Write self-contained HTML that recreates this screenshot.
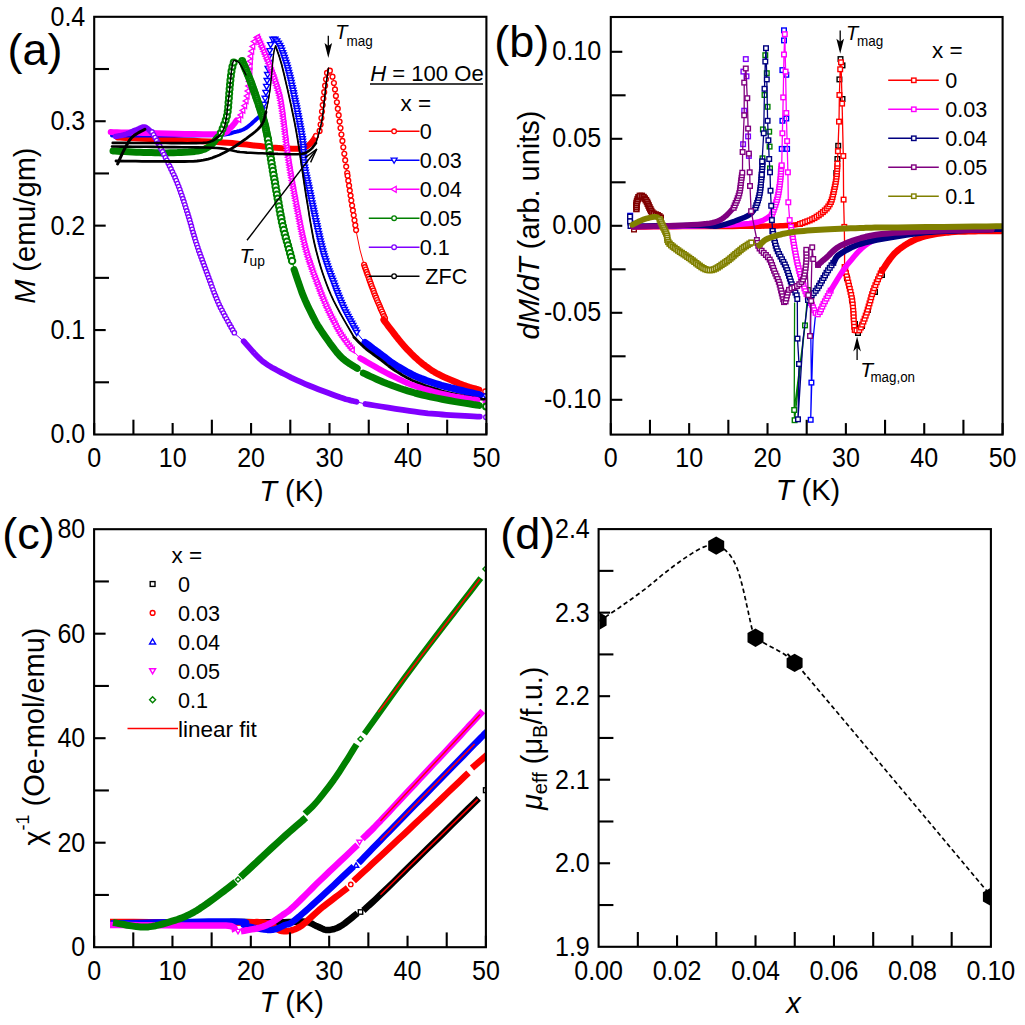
<!DOCTYPE html>
<html><head><meta charset="utf-8"><style>
html,body{margin:0;padding:0;background:#fff;}
svg{display:block;font-family:'Liberation Sans', sans-serif;}
</style></head><body>
<svg width="1025" height="1025" viewBox="0 0 1025 1025">
<rect width="1025" height="1025" fill="#fff"/>
<defs><clipPath id="clipA"><rect x="95" y="17.5" width="391" height="416.5"/></clipPath><clipPath id="clipB"><rect x="611.5" y="17.5" width="390.5" height="416.5"/></clipPath><clipPath id="clipC"><rect x="95" y="530" width="390.5" height="416.5"/></clipPath><clipPath id="clipD"><rect x="599.5" y="530" width="390.5" height="416"/></clipPath></defs>
<g clip-path="url(#clipA)">
<path d="M117.6,137.5 L119.9,137.6 L122.6,137.7 L125.9,137.9 L129.6,138.1 L133.9,138.3 L138.7,138.5 L144.1,138.7 L150.0,139.0 L157.0,139.3 L165.1,139.6 L174.1,140.0 L183.5,140.4 L192.8,140.8 L201.8,141.2 L210.0,141.6 L217.0,142.0 L222.8,142.4 L227.8,142.8 L232.2,143.1 L236.1,143.5 L239.7,143.9 L243.1,144.3 L246.5,144.6 L250.0,145.0 L253.6,145.4 L256.9,145.7 L260.2,146.1 L263.3,146.5 L266.4,146.8 L269.5,147.2 L272.5,147.5 L275.6,147.7 L278.8,147.9 L282.1,148.2 L285.5,148.4 L288.8,148.5 L292.0,148.7 L294.9,148.7 L297.6,148.7 L300.0,148.5 L302.0,148.2 L303.6,147.8 L305.0,147.4 L306.1,146.8 L307.2,146.2 L308.1,145.5 L309.0,144.8 L310.0,144.0 L311.0,143.1 L311.9,142.1 L312.8,140.9 L313.6,139.7 L314.4,138.6 L315.0,137.5 L315.6,136.6 L316.0,136.0 L316.0,136.0 L316.3,135.7 L316.7,135.4 L317.2,135.2 L317.7,134.8 L318.3,134.1 L318.8,133.2 L319.3,131.8 L319.8,130.0 L320.2,127.5 L320.6,124.4 L321.1,120.9 L321.5,117.1 L321.8,113.1 L322.2,109.2 L322.6,105.4 L323.0,102.0 L323.4,98.8 L323.8,95.6 L324.2,92.4 L324.6,89.3 L325.0,86.4 L325.3,83.7 L325.7,81.2 L326.0,79.0 L326.3,77.1 L326.6,75.4 L326.8,73.9 L327.0,72.7 L327.3,71.6 L327.5,70.7 L327.7,70.0 L328.0,69.5 L328.3,69.2 L328.6,69.1 L328.9,69.1 L329.2,69.4 L329.5,69.8 L329.8,70.4 L330.1,71.2 L330.5,72.0 L330.9,72.8 L331.2,73.4 L331.6,74.1 L332.0,75.0 L332.4,76.3 L332.9,78.1 L333.5,80.6 L334.1,84.0 L334.8,88.5 L335.7,94.1 L336.6,100.5 L337.6,107.4 L338.6,114.5 L339.6,121.5 L340.5,128.3 L341.4,134.4 L342.3,140.3 L343.2,146.4 L344.1,152.4 L345.0,158.3 L345.8,163.7 L346.5,168.6 L347.1,172.7 L347.6,175.8 L347.6,175.8 L347.9,178.0 L348.4,181.0 L348.9,184.6 L349.5,188.5 L350.1,192.7 L350.8,197.0 L351.4,201.1 L352.0,205.0 L352.6,208.9 L353.3,213.1 L354.0,217.4 L354.7,221.7 L355.4,225.8 L356.0,229.4 L356.5,232.5 L356.9,234.8 L356.9,234.8 L360.0,250.0 L364.1,264.8 L364.1,264.8 L364.9,267.2 L366.1,270.3 L367.4,274.1 L368.9,278.3 L370.4,282.7 L372.0,287.1 L373.6,291.3 L375.0,295.0 L376.4,298.5 L377.9,302.2 L379.5,305.9 L381.0,309.4 L382.5,312.7 L383.8,315.6 L384.9,318.1 L385.7,320.0 L383.7,320.0 L384.5,321.1 L385.7,322.6 L387.0,324.4 L388.5,326.4 L390.1,328.5 L391.7,330.6 L393.2,332.6 L394.6,334.4 L395.9,336.1 L397.2,337.7 L398.5,339.3 L399.7,340.8 L401.0,342.4 L402.3,343.9 L403.6,345.5 L405.0,347.0 L406.4,348.6 L407.9,350.1 L409.5,351.7 L411.0,353.3 L412.6,354.8 L414.1,356.3 L415.6,357.8 L417.1,359.1 L418.5,360.4 L419.9,361.6 L421.2,362.7 L422.6,363.8 L423.9,364.8 L425.3,365.8 L426.6,366.8 L428.0,367.8 L429.3,368.7 L430.6,369.6 L431.8,370.4 L433.0,371.2 L434.4,372.0 L435.8,372.9 L437.5,373.8 L439.5,374.8 L441.8,375.9 L444.5,377.2 L447.4,378.5 L450.4,379.8 L453.5,381.1 L456.5,382.4 L459.4,383.6 L462.0,384.6 L464.5,385.5 L467.0,386.3 L469.5,387.1 L471.9,387.8 L474.1,388.4 L476.1,389.0 L477.7,389.4 L479.0,389.8" fill="none" stroke="#ff0000" stroke-width="1.0" stroke-linejoin="round"/>
<path d="M117.6,137.5 L119.9,137.6 L122.6,137.7 L125.9,137.9 L129.6,138.1 L133.9,138.3 L138.7,138.5 L144.1,138.7 L150.0,139.0 L157.0,139.3 L165.1,139.6 L174.1,140.0 L183.5,140.4 L192.8,140.8 L201.8,141.2 L210.0,141.6 L217.0,142.0 L222.8,142.4 L227.8,142.8 L232.2,143.1 L236.1,143.5 L239.7,143.9 L243.1,144.3 L246.5,144.6 L250.0,145.0 L253.6,145.4 L256.9,145.7 L260.2,146.1 L263.3,146.5 L266.4,146.8 L269.5,147.2 L272.5,147.5 L275.6,147.7 L278.8,147.9 L282.1,148.2 L285.5,148.4 L288.8,148.5 L292.0,148.7 L294.9,148.7 L297.6,148.7 L300.0,148.5 L302.0,148.2 L303.6,147.8 L305.0,147.4 L306.1,146.8 L307.2,146.2 L308.1,145.5 L309.0,144.8 L310.0,144.0 L311.0,143.1 L311.9,142.1 L312.8,140.9 L313.6,139.7 L314.4,138.6 L315.0,137.5 L315.6,136.6 L316.0,136.0" fill="none" stroke="#ff0000" stroke-width="6" stroke-linecap="round" stroke-linejoin="round"/>
<circle cx="316.0" cy="136.0" r="2.40" fill="#fff" stroke="#ff0000" stroke-width="1.4"/>
<circle cx="319.6" cy="130.9" r="2.40" fill="#fff" stroke="#ff0000" stroke-width="1.4"/>
<circle cx="320.6" cy="124.5" r="2.40" fill="#fff" stroke="#ff0000" stroke-width="1.4"/>
<circle cx="321.4" cy="118.0" r="2.40" fill="#fff" stroke="#ff0000" stroke-width="1.4"/>
<circle cx="322.0" cy="111.5" r="2.40" fill="#fff" stroke="#ff0000" stroke-width="1.4"/>
<circle cx="322.7" cy="105.1" r="2.40" fill="#fff" stroke="#ff0000" stroke-width="1.4"/>
<circle cx="323.4" cy="98.6" r="2.40" fill="#fff" stroke="#ff0000" stroke-width="1.4"/>
<circle cx="324.2" cy="92.2" r="2.40" fill="#fff" stroke="#ff0000" stroke-width="1.4"/>
<circle cx="325.1" cy="85.7" r="2.40" fill="#fff" stroke="#ff0000" stroke-width="1.4"/>
<circle cx="326.0" cy="79.3" r="2.40" fill="#fff" stroke="#ff0000" stroke-width="1.4"/>
<circle cx="327.0" cy="72.9" r="2.40" fill="#fff" stroke="#ff0000" stroke-width="1.4"/>
<circle cx="329.9" cy="70.7" r="2.40" fill="#fff" stroke="#ff0000" stroke-width="1.4"/>
<circle cx="332.5" cy="76.7" r="2.40" fill="#fff" stroke="#ff0000" stroke-width="1.4"/>
<circle cx="333.9" cy="83.0" r="2.40" fill="#fff" stroke="#ff0000" stroke-width="1.4"/>
<circle cx="335.0" cy="89.4" r="2.40" fill="#fff" stroke="#ff0000" stroke-width="1.4"/>
<circle cx="335.9" cy="95.9" r="2.40" fill="#fff" stroke="#ff0000" stroke-width="1.4"/>
<circle cx="336.9" cy="102.3" r="2.40" fill="#fff" stroke="#ff0000" stroke-width="1.4"/>
<circle cx="337.8" cy="108.7" r="2.40" fill="#fff" stroke="#ff0000" stroke-width="1.4"/>
<circle cx="338.7" cy="115.2" r="2.40" fill="#fff" stroke="#ff0000" stroke-width="1.4"/>
<circle cx="339.6" cy="121.6" r="2.40" fill="#fff" stroke="#ff0000" stroke-width="1.4"/>
<circle cx="340.5" cy="128.0" r="2.40" fill="#fff" stroke="#ff0000" stroke-width="1.4"/>
<circle cx="341.4" cy="134.5" r="2.40" fill="#fff" stroke="#ff0000" stroke-width="1.4"/>
<circle cx="342.4" cy="140.9" r="2.40" fill="#fff" stroke="#ff0000" stroke-width="1.4"/>
<circle cx="343.3" cy="147.3" r="2.40" fill="#fff" stroke="#ff0000" stroke-width="1.4"/>
<circle cx="344.3" cy="153.8" r="2.40" fill="#fff" stroke="#ff0000" stroke-width="1.4"/>
<circle cx="345.2" cy="160.2" r="2.40" fill="#fff" stroke="#ff0000" stroke-width="1.4"/>
<circle cx="346.2" cy="166.6" r="2.40" fill="#fff" stroke="#ff0000" stroke-width="1.4"/>
<circle cx="347.2" cy="173.0" r="2.40" fill="#fff" stroke="#ff0000" stroke-width="1.4"/>
<circle cx="347.6" cy="175.8" r="2.40" fill="#fff" stroke="#ff0000" stroke-width="1.4"/>
<circle cx="348.3" cy="180.7" r="2.40" fill="#fff" stroke="#ff0000" stroke-width="1.4"/>
<circle cx="349.1" cy="185.7" r="2.40" fill="#fff" stroke="#ff0000" stroke-width="1.4"/>
<circle cx="349.8" cy="190.6" r="2.40" fill="#fff" stroke="#ff0000" stroke-width="1.4"/>
<circle cx="350.6" cy="195.6" r="2.40" fill="#fff" stroke="#ff0000" stroke-width="1.4"/>
<circle cx="351.3" cy="200.5" r="2.40" fill="#fff" stroke="#ff0000" stroke-width="1.4"/>
<circle cx="352.1" cy="205.5" r="2.40" fill="#fff" stroke="#ff0000" stroke-width="1.4"/>
<circle cx="352.9" cy="210.4" r="2.40" fill="#fff" stroke="#ff0000" stroke-width="1.4"/>
<circle cx="353.7" cy="215.3" r="2.40" fill="#fff" stroke="#ff0000" stroke-width="1.4"/>
<circle cx="354.5" cy="220.3" r="2.40" fill="#fff" stroke="#ff0000" stroke-width="1.4"/>
<circle cx="355.3" cy="225.2" r="2.40" fill="#fff" stroke="#ff0000" stroke-width="1.4"/>
<circle cx="356.1" cy="230.1" r="2.40" fill="#fff" stroke="#ff0000" stroke-width="1.4"/>
<circle cx="364.1" cy="264.8" r="2.40" fill="#fff" stroke="#ff0000" stroke-width="1.4"/>
<circle cx="364.9" cy="267.2" r="2.40" fill="#fff" stroke="#ff0000" stroke-width="1.4"/>
<circle cx="365.8" cy="269.5" r="2.40" fill="#fff" stroke="#ff0000" stroke-width="1.4"/>
<circle cx="366.6" cy="271.9" r="2.40" fill="#fff" stroke="#ff0000" stroke-width="1.4"/>
<circle cx="367.4" cy="274.2" r="2.40" fill="#fff" stroke="#ff0000" stroke-width="1.4"/>
<circle cx="368.3" cy="276.6" r="2.40" fill="#fff" stroke="#ff0000" stroke-width="1.4"/>
<circle cx="369.1" cy="278.9" r="2.40" fill="#fff" stroke="#ff0000" stroke-width="1.4"/>
<circle cx="369.9" cy="281.3" r="2.40" fill="#fff" stroke="#ff0000" stroke-width="1.4"/>
<circle cx="370.8" cy="283.7" r="2.40" fill="#fff" stroke="#ff0000" stroke-width="1.4"/>
<circle cx="371.6" cy="286.0" r="2.40" fill="#fff" stroke="#ff0000" stroke-width="1.4"/>
<circle cx="372.5" cy="288.3" r="2.40" fill="#fff" stroke="#ff0000" stroke-width="1.4"/>
<circle cx="373.4" cy="290.7" r="2.40" fill="#fff" stroke="#ff0000" stroke-width="1.4"/>
<circle cx="374.2" cy="293.0" r="2.40" fill="#fff" stroke="#ff0000" stroke-width="1.4"/>
<circle cx="375.1" cy="295.4" r="2.40" fill="#fff" stroke="#ff0000" stroke-width="1.4"/>
<circle cx="376.1" cy="297.7" r="2.40" fill="#fff" stroke="#ff0000" stroke-width="1.4"/>
<circle cx="377.0" cy="300.0" r="2.40" fill="#fff" stroke="#ff0000" stroke-width="1.4"/>
<circle cx="378.0" cy="302.3" r="2.40" fill="#fff" stroke="#ff0000" stroke-width="1.4"/>
<circle cx="379.0" cy="304.6" r="2.40" fill="#fff" stroke="#ff0000" stroke-width="1.4"/>
<circle cx="380.0" cy="306.9" r="2.40" fill="#fff" stroke="#ff0000" stroke-width="1.4"/>
<circle cx="380.9" cy="309.2" r="2.40" fill="#fff" stroke="#ff0000" stroke-width="1.4"/>
<circle cx="382.0" cy="311.5" r="2.40" fill="#fff" stroke="#ff0000" stroke-width="1.4"/>
<circle cx="383.0" cy="313.8" r="2.40" fill="#fff" stroke="#ff0000" stroke-width="1.4"/>
<circle cx="384.0" cy="316.1" r="2.40" fill="#fff" stroke="#ff0000" stroke-width="1.4"/>
<circle cx="385.0" cy="318.3" r="2.40" fill="#fff" stroke="#ff0000" stroke-width="1.4"/>
<path d="M383.7,320.0 L384.5,321.1 L385.7,322.6 L387.0,324.4 L388.5,326.4 L390.1,328.5 L391.7,330.6 L393.2,332.6 L394.6,334.4 L395.9,336.1 L397.2,337.7 L398.5,339.3 L399.7,340.8 L401.0,342.4 L402.3,343.9 L403.6,345.5 L405.0,347.0 L406.4,348.6 L407.9,350.1 L409.5,351.7 L411.0,353.3 L412.6,354.8 L414.1,356.3 L415.6,357.8 L417.1,359.1 L418.5,360.4 L419.9,361.6 L421.2,362.7 L422.6,363.8 L423.9,364.8 L425.3,365.8 L426.6,366.8 L428.0,367.8 L429.3,368.7 L430.6,369.6 L431.8,370.4 L433.0,371.2 L434.4,372.0 L435.8,372.9 L437.5,373.8 L439.5,374.8 L441.8,375.9 L444.5,377.2 L447.4,378.5 L450.4,379.8 L453.5,381.1 L456.5,382.4 L459.4,383.6 L462.0,384.6 L464.5,385.5 L467.0,386.3 L469.5,387.1 L471.9,387.8 L474.1,388.4 L476.1,389.0 L477.7,389.4 L479.0,389.8" fill="none" stroke="#ff0000" stroke-width="6.6" stroke-linecap="round" stroke-linejoin="round"/>
<circle cx="485.2" cy="391.4" r="2.40" fill="#fff" stroke="#ff0000" stroke-width="1.4"/>
<path d="M112.0,135.5 L114.7,135.5 L118.1,135.5 L122.2,135.5 L126.8,135.5 L132.0,135.5 L137.6,135.5 L143.6,135.5 L150.0,135.5 L157.3,135.5 L165.9,135.5 L175.2,135.5 L184.8,135.4 L194.2,135.4 L203.0,135.3 L210.8,135.2 L217.0,135.0 L221.6,134.8 L225.1,134.4 L227.6,134.1 L229.5,133.7 L230.9,133.3 L232.1,132.9 L233.4,132.4 L235.0,132.0 L236.7,131.6 L238.2,131.2 L239.6,130.9 L240.8,130.5 L242.1,130.0 L243.3,129.5 L244.6,128.8 L246.0,128.0 L247.6,126.9 L249.3,125.5 L251.2,124.0 L253.0,122.3 L254.7,120.8 L256.3,119.3 L257.6,118.1 L258.6,117.2 L262.0,110.0 L262.2,109.4 L262.5,108.8 L262.8,108.0 L263.1,107.1 L263.5,106.1 L263.8,104.9 L264.2,103.5 L264.5,102.0 L264.8,100.3 L265.1,98.5 L265.4,96.6 L265.7,94.5 L265.9,92.3 L266.2,89.8 L266.5,87.2 L266.8,84.4 L267.1,81.2 L267.4,77.5 L267.7,73.6 L268.0,69.5 L268.3,65.5 L268.6,61.6 L268.9,58.1 L269.2,55.1 L269.5,52.5 L269.8,50.2 L270.0,48.2 L270.3,46.4 L270.6,44.8 L270.8,43.4 L271.2,42.2 L271.5,41.1 L271.9,40.3 L272.4,39.8 L272.9,39.5 L273.4,39.3 L273.9,39.3 L274.3,39.3 L274.7,39.4 L275.0,39.3 L275.0,39.3 L275.4,39.8 L276.0,40.4 L276.6,41.0 L277.4,41.8 L278.2,42.8 L279.0,44.2 L280.0,45.9 L280.9,48.1 L281.9,50.7 L282.9,53.5 L284.0,56.7 L285.2,60.2 L286.4,64.1 L287.6,68.4 L288.9,73.2 L290.2,78.5 L291.6,84.7 L293.2,91.9 L294.9,99.8 L296.6,108.0 L298.2,116.1 L299.7,123.9 L301.0,131.0 L302.0,137.0 L302.7,141.9 L303.1,145.9 L303.3,149.3 L303.4,152.3 L303.5,155.1 L303.5,157.8 L303.7,160.7 L304.1,164.0 L304.6,167.5 L305.3,171.0 L305.9,174.5 L306.7,178.0 L307.5,181.6 L308.3,185.4 L309.1,189.3 L310.0,193.4 L310.9,197.9 L311.9,202.7 L313.0,207.7 L314.1,212.8 L315.2,217.9 L316.2,222.8 L317.3,227.5 L318.2,231.7 L319.1,235.5 L319.8,238.9 L320.6,242.1 L321.3,245.2 L322.0,248.1 L322.8,251.0 L323.6,253.9 L324.5,257.0 L325.5,260.2 L326.5,263.3 L327.6,266.5 L328.7,269.7 L329.9,272.9 L331.0,276.1 L332.2,279.2 L333.4,282.4 L334.6,285.6 L335.8,288.7 L336.9,291.9 L338.1,295.0 L339.4,298.2 L340.7,301.4 L342.1,304.5 L343.5,307.7 L345.1,311.1 L347.0,314.7 L349.0,318.4 L351.0,322.1 L352.9,325.6 L354.7,328.7 L356.1,331.3 L357.2,333.3 L365.0,342.6 L366.1,343.4 L367.5,344.4 L369.2,345.7 L371.0,347.1 L373.0,348.6 L375.1,350.1 L377.1,351.6 L379.0,353.0 L380.8,354.4 L382.7,355.8 L384.5,357.2 L386.4,358.7 L388.3,360.1 L390.3,361.6 L392.4,363.1 L394.6,364.5 L396.9,366.0 L399.3,367.4 L401.8,368.9 L404.3,370.4 L406.9,371.9 L409.6,373.3 L412.3,374.7 L415.0,376.0 L417.8,377.2 L420.6,378.4 L423.6,379.5 L426.5,380.6 L429.5,381.6 L432.5,382.6 L435.5,383.6 L438.4,384.5 L441.4,385.4 L444.4,386.2 L447.4,387.0 L450.4,387.8 L453.4,388.5 L456.3,389.3 L459.1,389.9 L461.8,390.6 L464.4,391.3 L467.1,391.9 L469.7,392.5 L472.3,393.1 L474.6,393.7 L476.7,394.2 L478.4,394.6 L479.8,394.9" fill="none" stroke="#0000ff" stroke-width="1.0" stroke-linejoin="round"/>
<path d="M112.0,135.5 L114.7,135.5 L118.1,135.5 L122.2,135.5 L126.8,135.5 L132.0,135.5 L137.6,135.5 L143.6,135.5 L150.0,135.5 L157.3,135.5 L165.9,135.5 L175.2,135.5 L184.8,135.4 L194.2,135.4 L203.0,135.3 L210.8,135.2 L217.0,135.0 L221.6,134.8 L225.1,134.4 L227.6,134.1 L229.5,133.7 L230.9,133.3 L232.1,132.9 L233.4,132.4 L235.0,132.0 L236.7,131.6 L238.2,131.2 L239.6,130.9 L240.8,130.5 L242.1,130.0 L243.3,129.5 L244.6,128.8 L246.0,128.0 L247.6,126.9 L249.3,125.5 L251.2,124.0 L253.0,122.3 L254.7,120.8 L256.3,119.3 L257.6,118.1 L258.6,117.2" fill="none" stroke="#0000ff" stroke-width="4" stroke-linecap="round" stroke-linejoin="round"/>
<path d="M259.0,107.9 L265.0,107.9 L262.0,113.0Z" fill="#fff" stroke="#0000ff" stroke-width="1.4"/>
<path d="M261.0,102.2 L267.0,102.2 L264.0,107.3Z" fill="#fff" stroke="#0000ff" stroke-width="1.4"/>
<path d="M262.1,96.3 L268.1,96.3 L265.1,101.4Z" fill="#fff" stroke="#0000ff" stroke-width="1.4"/>
<path d="M262.9,90.4 L268.9,90.4 L265.9,95.5Z" fill="#fff" stroke="#0000ff" stroke-width="1.4"/>
<path d="M263.6,84.4 L269.6,84.4 L266.6,89.5Z" fill="#fff" stroke="#0000ff" stroke-width="1.4"/>
<path d="M264.1,78.5 L270.1,78.5 L267.1,83.6Z" fill="#fff" stroke="#0000ff" stroke-width="1.4"/>
<path d="M264.6,72.5 L270.6,72.5 L267.6,77.6Z" fill="#fff" stroke="#0000ff" stroke-width="1.4"/>
<path d="M265.1,66.5 L271.1,66.5 L268.1,71.6Z" fill="#fff" stroke="#0000ff" stroke-width="1.4"/>
<path d="M265.5,60.5 L271.5,60.5 L268.5,65.6Z" fill="#fff" stroke="#0000ff" stroke-width="1.4"/>
<path d="M266.0,54.5 L272.0,54.5 L269.0,59.6Z" fill="#fff" stroke="#0000ff" stroke-width="1.4"/>
<path d="M266.7,48.6 L272.7,48.6 L269.7,53.7Z" fill="#fff" stroke="#0000ff" stroke-width="1.4"/>
<path d="M267.6,42.6 L273.6,42.6 L270.6,47.7Z" fill="#fff" stroke="#0000ff" stroke-width="1.4"/>
<path d="M269.9,37.3 L275.9,37.3 L272.9,42.4Z" fill="#fff" stroke="#0000ff" stroke-width="1.4"/>
<path d="M272.1,37.3 L277.9,37.3 L275.0,42.2Z" fill="#fff" stroke="#0000ff" stroke-width="1.5"/>
<path d="M273.9,39.1 L279.7,39.1 L276.8,44.1Z" fill="#fff" stroke="#0000ff" stroke-width="1.5"/>
<path d="M275.5,41.2 L281.3,41.2 L278.4,46.1Z" fill="#fff" stroke="#0000ff" stroke-width="1.5"/>
<path d="M276.8,43.4 L282.6,43.4 L279.7,48.4Z" fill="#fff" stroke="#0000ff" stroke-width="1.5"/>
<path d="M277.9,45.8 L283.7,45.8 L280.8,50.7Z" fill="#fff" stroke="#0000ff" stroke-width="1.5"/>
<path d="M278.8,48.2 L284.6,48.2 L281.7,53.1Z" fill="#fff" stroke="#0000ff" stroke-width="1.5"/>
<path d="M279.7,50.7 L285.5,50.7 L282.6,55.6Z" fill="#fff" stroke="#0000ff" stroke-width="1.5"/>
<path d="M280.6,53.1 L286.4,53.1 L283.5,58.0Z" fill="#fff" stroke="#0000ff" stroke-width="1.5"/>
<path d="M281.4,55.6 L287.2,55.6 L284.3,60.5Z" fill="#fff" stroke="#0000ff" stroke-width="1.5"/>
<path d="M282.2,58.0 L288.0,58.0 L285.1,63.0Z" fill="#fff" stroke="#0000ff" stroke-width="1.5"/>
<path d="M283.0,60.5 L288.8,60.5 L285.9,65.5Z" fill="#fff" stroke="#0000ff" stroke-width="1.5"/>
<path d="M283.8,63.0 L289.6,63.0 L286.7,67.9Z" fill="#fff" stroke="#0000ff" stroke-width="1.5"/>
<path d="M284.5,65.5 L290.3,65.5 L287.4,70.4Z" fill="#fff" stroke="#0000ff" stroke-width="1.5"/>
<path d="M285.2,68.0 L291.0,68.0 L288.1,72.9Z" fill="#fff" stroke="#0000ff" stroke-width="1.5"/>
<path d="M285.8,70.5 L291.6,70.5 L288.7,75.5Z" fill="#fff" stroke="#0000ff" stroke-width="1.5"/>
<path d="M286.5,73.1 L292.3,73.1 L289.4,78.0Z" fill="#fff" stroke="#0000ff" stroke-width="1.5"/>
<path d="M287.1,75.6 L292.9,75.6 L290.0,80.5Z" fill="#fff" stroke="#0000ff" stroke-width="1.5"/>
<path d="M287.7,78.1 L293.5,78.1 L290.6,83.0Z" fill="#fff" stroke="#0000ff" stroke-width="1.5"/>
<path d="M288.3,80.6 L294.1,80.6 L291.2,85.6Z" fill="#fff" stroke="#0000ff" stroke-width="1.5"/>
<path d="M288.8,83.2 L294.6,83.2 L291.7,88.1Z" fill="#fff" stroke="#0000ff" stroke-width="1.5"/>
<path d="M289.4,85.7 L295.2,85.7 L292.3,90.6Z" fill="#fff" stroke="#0000ff" stroke-width="1.5"/>
<path d="M290.0,88.3 L295.8,88.3 L292.9,93.2Z" fill="#fff" stroke="#0000ff" stroke-width="1.5"/>
<path d="M290.5,90.8 L296.3,90.8 L293.4,95.7Z" fill="#fff" stroke="#0000ff" stroke-width="1.5"/>
<path d="M291.0,93.3 L296.8,93.3 L293.9,98.3Z" fill="#fff" stroke="#0000ff" stroke-width="1.5"/>
<path d="M291.6,95.9 L297.4,95.9 L294.5,100.8Z" fill="#fff" stroke="#0000ff" stroke-width="1.5"/>
<path d="M292.1,98.4 L297.9,98.4 L295.0,103.4Z" fill="#fff" stroke="#0000ff" stroke-width="1.5"/>
<path d="M292.6,101.0 L298.4,101.0 L295.5,105.9Z" fill="#fff" stroke="#0000ff" stroke-width="1.5"/>
<path d="M293.2,103.5 L299.0,103.5 L296.1,108.5Z" fill="#fff" stroke="#0000ff" stroke-width="1.5"/>
<path d="M293.7,106.1 L299.5,106.1 L296.6,111.0Z" fill="#fff" stroke="#0000ff" stroke-width="1.5"/>
<path d="M294.2,108.6 L300.0,108.6 L297.1,113.6Z" fill="#fff" stroke="#0000ff" stroke-width="1.5"/>
<path d="M294.7,111.2 L300.5,111.2 L297.6,116.1Z" fill="#fff" stroke="#0000ff" stroke-width="1.5"/>
<path d="M295.2,113.7 L301.0,113.7 L298.1,118.7Z" fill="#fff" stroke="#0000ff" stroke-width="1.5"/>
<path d="M295.7,116.3 L301.5,116.3 L298.6,121.2Z" fill="#fff" stroke="#0000ff" stroke-width="1.5"/>
<path d="M296.2,118.8 L302.0,118.8 L299.1,123.8Z" fill="#fff" stroke="#0000ff" stroke-width="1.5"/>
<path d="M296.7,121.4 L302.5,121.4 L299.6,126.3Z" fill="#fff" stroke="#0000ff" stroke-width="1.5"/>
<path d="M297.1,123.9 L302.9,123.9 L300.0,128.9Z" fill="#fff" stroke="#0000ff" stroke-width="1.5"/>
<path d="M297.6,126.5 L303.4,126.5 L300.5,131.4Z" fill="#fff" stroke="#0000ff" stroke-width="1.5"/>
<path d="M298.1,129.1 L303.9,129.1 L301.0,134.0Z" fill="#fff" stroke="#0000ff" stroke-width="1.5"/>
<path d="M298.5,131.6 L304.3,131.6 L301.4,136.5Z" fill="#fff" stroke="#0000ff" stroke-width="1.5"/>
<path d="M299.0,134.2 L304.8,134.2 L301.9,139.1Z" fill="#fff" stroke="#0000ff" stroke-width="1.5"/>
<path d="M299.4,136.7 L305.2,136.7 L302.3,141.7Z" fill="#fff" stroke="#0000ff" stroke-width="1.5"/>
<path d="M299.7,139.3 L305.5,139.3 L302.6,144.2Z" fill="#fff" stroke="#0000ff" stroke-width="1.5"/>
<path d="M300.0,141.9 L305.8,141.9 L302.9,146.8Z" fill="#fff" stroke="#0000ff" stroke-width="1.5"/>
<path d="M300.3,144.5 L306.1,144.5 L303.2,149.4Z" fill="#fff" stroke="#0000ff" stroke-width="1.5"/>
<path d="M300.4,147.1 L306.2,147.1 L303.3,152.0Z" fill="#fff" stroke="#0000ff" stroke-width="1.5"/>
<path d="M300.5,149.7 L306.3,149.7 L303.4,154.6Z" fill="#fff" stroke="#0000ff" stroke-width="1.5"/>
<path d="M300.5,152.3 L306.3,152.3 L303.4,157.2Z" fill="#fff" stroke="#0000ff" stroke-width="1.5"/>
<path d="M300.6,154.9 L306.4,154.9 L303.5,159.8Z" fill="#fff" stroke="#0000ff" stroke-width="1.5"/>
<path d="M300.7,157.5 L306.5,157.5 L303.6,162.4Z" fill="#fff" stroke="#0000ff" stroke-width="1.5"/>
<path d="M301.0,160.1 L306.8,160.1 L303.9,165.0Z" fill="#fff" stroke="#0000ff" stroke-width="1.5"/>
<path d="M301.3,162.6 L307.1,162.6 L304.2,167.6Z" fill="#fff" stroke="#0000ff" stroke-width="1.5"/>
<path d="M301.7,165.2 L307.5,165.2 L304.6,170.1Z" fill="#fff" stroke="#0000ff" stroke-width="1.5"/>
<path d="M302.1,167.8 L307.9,167.8 L305.0,172.7Z" fill="#fff" stroke="#0000ff" stroke-width="1.5"/>
<path d="M302.6,170.3 L308.4,170.3 L305.5,175.3Z" fill="#fff" stroke="#0000ff" stroke-width="1.5"/>
<path d="M303.1,172.9 L308.9,172.9 L306.0,177.8Z" fill="#fff" stroke="#0000ff" stroke-width="1.5"/>
<path d="M303.7,175.4 L309.5,175.4 L306.6,180.4Z" fill="#fff" stroke="#0000ff" stroke-width="1.5"/>
<path d="M304.2,178.0 L310.0,178.0 L307.1,182.9Z" fill="#fff" stroke="#0000ff" stroke-width="1.5"/>
<path d="M304.8,180.5 L310.6,180.5 L307.7,185.4Z" fill="#fff" stroke="#0000ff" stroke-width="1.5"/>
<path d="M305.3,183.1 L311.1,183.1 L308.2,188.0Z" fill="#fff" stroke="#0000ff" stroke-width="1.5"/>
<path d="M305.9,185.6 L311.7,185.6 L308.8,190.5Z" fill="#fff" stroke="#0000ff" stroke-width="1.5"/>
<path d="M306.4,188.1 L312.2,188.1 L309.3,193.1Z" fill="#fff" stroke="#0000ff" stroke-width="1.5"/>
<path d="M307.0,190.7 L312.8,190.7 L309.9,195.6Z" fill="#fff" stroke="#0000ff" stroke-width="1.5"/>
<path d="M307.5,193.2 L313.3,193.2 L310.4,198.2Z" fill="#fff" stroke="#0000ff" stroke-width="1.5"/>
<path d="M308.0,195.8 L313.8,195.8 L310.9,200.7Z" fill="#fff" stroke="#0000ff" stroke-width="1.5"/>
<path d="M308.5,198.3 L314.3,198.3 L311.4,203.2Z" fill="#fff" stroke="#0000ff" stroke-width="1.5"/>
<path d="M309.1,200.9 L314.9,200.9 L312.0,205.8Z" fill="#fff" stroke="#0000ff" stroke-width="1.5"/>
<path d="M309.6,203.4 L315.4,203.4 L312.5,208.3Z" fill="#fff" stroke="#0000ff" stroke-width="1.5"/>
<path d="M310.2,205.9 L316.0,205.9 L313.1,210.9Z" fill="#fff" stroke="#0000ff" stroke-width="1.5"/>
<path d="M310.7,208.5 L316.5,208.5 L313.6,213.4Z" fill="#fff" stroke="#0000ff" stroke-width="1.5"/>
<path d="M311.2,211.0 L317.0,211.0 L314.1,216.0Z" fill="#fff" stroke="#0000ff" stroke-width="1.5"/>
<path d="M311.8,213.6 L317.6,213.6 L314.7,218.5Z" fill="#fff" stroke="#0000ff" stroke-width="1.5"/>
<path d="M312.3,216.1 L318.1,216.1 L315.2,221.0Z" fill="#fff" stroke="#0000ff" stroke-width="1.5"/>
<path d="M312.9,218.7 L318.7,218.7 L315.8,223.6Z" fill="#fff" stroke="#0000ff" stroke-width="1.5"/>
<path d="M313.4,221.2 L319.2,221.2 L316.3,226.1Z" fill="#fff" stroke="#0000ff" stroke-width="1.5"/>
<path d="M314.0,223.7 L319.8,223.7 L316.9,228.7Z" fill="#fff" stroke="#0000ff" stroke-width="1.5"/>
<path d="M314.5,226.3 L320.3,226.3 L317.4,231.2Z" fill="#fff" stroke="#0000ff" stroke-width="1.5"/>
<path d="M315.1,228.8 L320.9,228.8 L318.0,233.7Z" fill="#fff" stroke="#0000ff" stroke-width="1.5"/>
<path d="M315.7,231.4 L321.5,231.4 L318.6,236.3Z" fill="#fff" stroke="#0000ff" stroke-width="1.5"/>
<path d="M316.3,233.9 L322.1,233.9 L319.2,238.8Z" fill="#fff" stroke="#0000ff" stroke-width="1.5"/>
<path d="M316.8,236.4 L322.6,236.4 L319.7,241.4Z" fill="#fff" stroke="#0000ff" stroke-width="1.5"/>
<path d="M317.4,239.0 L323.2,239.0 L320.3,243.9Z" fill="#fff" stroke="#0000ff" stroke-width="1.5"/>
<path d="M318.0,241.5 L323.8,241.5 L320.9,246.4Z" fill="#fff" stroke="#0000ff" stroke-width="1.5"/>
<path d="M318.6,244.0 L324.4,244.0 L321.5,248.9Z" fill="#fff" stroke="#0000ff" stroke-width="1.5"/>
<path d="M319.3,246.5 L325.1,246.5 L322.2,251.5Z" fill="#fff" stroke="#0000ff" stroke-width="1.5"/>
<path d="M319.9,249.1 L325.7,249.1 L322.8,254.0Z" fill="#fff" stroke="#0000ff" stroke-width="1.5"/>
<path d="M320.6,251.6 L326.4,251.6 L323.5,256.5Z" fill="#fff" stroke="#0000ff" stroke-width="1.5"/>
<path d="M321.3,254.1 L327.1,254.1 L324.2,259.0Z" fill="#fff" stroke="#0000ff" stroke-width="1.5"/>
<path d="M322.1,256.5 L327.9,256.5 L325.0,261.5Z" fill="#fff" stroke="#0000ff" stroke-width="1.5"/>
<path d="M322.9,259.0 L328.7,259.0 L325.8,264.0Z" fill="#fff" stroke="#0000ff" stroke-width="1.5"/>
<path d="M323.7,261.5 L329.5,261.5 L326.6,266.4Z" fill="#fff" stroke="#0000ff" stroke-width="1.5"/>
<path d="M324.5,264.0 L330.3,264.0 L327.4,268.9Z" fill="#fff" stroke="#0000ff" stroke-width="1.5"/>
<path d="M325.4,266.4 L331.2,266.4 L328.3,271.3Z" fill="#fff" stroke="#0000ff" stroke-width="1.5"/>
<path d="M326.2,268.9 L332.0,268.9 L329.1,273.8Z" fill="#fff" stroke="#0000ff" stroke-width="1.5"/>
<path d="M327.1,271.3 L332.9,271.3 L330.0,276.2Z" fill="#fff" stroke="#0000ff" stroke-width="1.5"/>
<path d="M328.0,273.7 L333.8,273.7 L330.9,278.7Z" fill="#fff" stroke="#0000ff" stroke-width="1.5"/>
<path d="M328.9,276.2 L334.7,276.2 L331.8,281.1Z" fill="#fff" stroke="#0000ff" stroke-width="1.5"/>
<path d="M329.8,278.6 L335.6,278.6 L332.7,283.5Z" fill="#fff" stroke="#0000ff" stroke-width="1.5"/>
<path d="M330.8,281.1 L336.6,281.1 L333.7,286.0Z" fill="#fff" stroke="#0000ff" stroke-width="1.5"/>
<path d="M331.7,283.5 L337.5,283.5 L334.6,288.4Z" fill="#fff" stroke="#0000ff" stroke-width="1.5"/>
<path d="M332.6,285.9 L338.4,285.9 L335.5,290.9Z" fill="#fff" stroke="#0000ff" stroke-width="1.5"/>
<path d="M333.5,288.4 L339.3,288.4 L336.4,293.3Z" fill="#fff" stroke="#0000ff" stroke-width="1.5"/>
<path d="M334.4,290.8 L340.2,290.8 L337.3,295.7Z" fill="#fff" stroke="#0000ff" stroke-width="1.5"/>
<path d="M335.3,293.2 L341.1,293.2 L338.2,298.1Z" fill="#fff" stroke="#0000ff" stroke-width="1.5"/>
<path d="M336.3,295.6 L342.1,295.6 L339.2,300.6Z" fill="#fff" stroke="#0000ff" stroke-width="1.5"/>
<path d="M337.3,298.0 L343.1,298.0 L340.2,303.0Z" fill="#fff" stroke="#0000ff" stroke-width="1.5"/>
<path d="M338.3,300.4 L344.1,300.4 L341.2,305.4Z" fill="#fff" stroke="#0000ff" stroke-width="1.5"/>
<path d="M339.3,302.8 L345.1,302.8 L342.2,307.8Z" fill="#fff" stroke="#0000ff" stroke-width="1.5"/>
<path d="M340.4,305.2 L346.2,305.2 L343.3,310.1Z" fill="#fff" stroke="#0000ff" stroke-width="1.5"/>
<path d="M341.5,307.5 L347.3,307.5 L344.4,312.5Z" fill="#fff" stroke="#0000ff" stroke-width="1.5"/>
<path d="M342.7,309.9 L348.5,309.9 L345.6,314.8Z" fill="#fff" stroke="#0000ff" stroke-width="1.5"/>
<path d="M343.9,312.2 L349.7,312.2 L346.8,317.1Z" fill="#fff" stroke="#0000ff" stroke-width="1.5"/>
<path d="M345.1,314.5 L350.9,314.5 L348.0,319.4Z" fill="#fff" stroke="#0000ff" stroke-width="1.5"/>
<path d="M346.3,316.8 L352.1,316.8 L349.2,321.7Z" fill="#fff" stroke="#0000ff" stroke-width="1.5"/>
<path d="M347.5,319.1 L353.3,319.1 L350.4,324.0Z" fill="#fff" stroke="#0000ff" stroke-width="1.5"/>
<path d="M348.8,321.3 L354.6,321.3 L351.7,326.3Z" fill="#fff" stroke="#0000ff" stroke-width="1.5"/>
<path d="M350.0,323.6 L355.8,323.6 L352.9,328.5Z" fill="#fff" stroke="#0000ff" stroke-width="1.5"/>
<path d="M351.3,325.9 L357.1,325.9 L354.2,330.8Z" fill="#fff" stroke="#0000ff" stroke-width="1.5"/>
<path d="M352.6,328.1 L358.4,328.1 L355.5,333.1Z" fill="#fff" stroke="#0000ff" stroke-width="1.5"/>
<path d="M353.8,330.4 L359.6,330.4 L356.7,335.4Z" fill="#fff" stroke="#0000ff" stroke-width="1.5"/>
<path d="M365.0,342.6 L366.1,343.4 L367.5,344.4 L369.2,345.7 L371.0,347.1 L373.0,348.6 L375.1,350.1 L377.1,351.6 L379.0,353.0 L380.8,354.4 L382.7,355.8 L384.5,357.2 L386.4,358.7 L388.3,360.1 L390.3,361.6 L392.4,363.1 L394.6,364.5 L396.9,366.0 L399.3,367.4 L401.8,368.9 L404.3,370.4 L406.9,371.9 L409.6,373.3 L412.3,374.7 L415.0,376.0 L417.8,377.2 L420.6,378.4 L423.6,379.5 L426.5,380.6 L429.5,381.6 L432.5,382.6 L435.5,383.6 L438.4,384.5 L441.4,385.4 L444.4,386.2 L447.4,387.0 L450.4,387.8 L453.4,388.5 L456.3,389.3 L459.1,389.9 L461.8,390.6 L464.4,391.3 L467.1,391.9 L469.7,392.5 L472.3,393.1 L474.6,393.7 L476.7,394.2 L478.4,394.6 L479.8,394.9" fill="none" stroke="#0000ff" stroke-width="7.2" stroke-linecap="round" stroke-linejoin="round"/>
<path d="M482.6,394.0 L488.4,394.0 L485.5,398.9Z" fill="#fff" stroke="#0000ff" stroke-width="1.5"/>
<path d="M354.0,337.2 L354.8,338.0 L355.9,339.1 L357.2,340.5 L358.6,341.9 L360.2,343.5 L361.8,345.1 L363.4,346.6 L365.0,348.0 L366.6,349.3 L368.2,350.6 L369.9,351.9 L371.7,353.2 L373.5,354.5 L375.3,355.8 L377.1,357.1 L379.0,358.5 L380.9,359.9 L382.8,361.4 L384.7,362.9 L386.6,364.5 L388.6,366.0 L390.7,367.5 L392.8,369.0 L395.0,370.5 L397.2,371.9 L399.5,373.3 L401.7,374.7 L404.1,376.1 L406.5,377.4 L409.1,378.8 L411.9,380.2 L415.0,381.5 L418.3,382.9 L422.0,384.3 L425.8,385.7 L429.8,387.1 L433.8,388.4 L438.0,389.7 L442.1,391.0 L446.2,392.1 L450.5,393.2 L455.0,394.2 L459.7,395.2 L464.4,396.1 L469.0,396.9 L473.1,397.6 L476.8,398.3 L479.8,398.8 L482.1,399.2 L483.8,399.4 L485.1,399.5 L486.0,399.6 L486.6,399.6 L487.1,399.5 L487.5,399.5 L488.0,399.5" fill="none" stroke="#000000" stroke-width="1.0" stroke-linejoin="round"/>
<path d="M354.0,337.2 L354.8,338.0 L355.9,339.1 L357.2,340.5 L358.6,341.9 L360.2,343.5 L361.8,345.1 L363.4,346.6 L365.0,348.0 L366.6,349.3 L368.2,350.6 L369.9,351.9 L371.7,353.2 L373.5,354.5 L375.3,355.8 L377.1,357.1 L379.0,358.5 L380.9,359.9 L382.8,361.4 L384.7,362.9 L386.6,364.5 L388.6,366.0 L390.7,367.5 L392.8,369.0 L395.0,370.5 L397.2,371.9 L399.5,373.3 L401.7,374.7 L404.1,376.1 L406.5,377.4 L409.1,378.8 L411.9,380.2 L415.0,381.5 L418.3,382.9 L422.0,384.3 L425.8,385.7 L429.8,387.1 L433.8,388.4 L438.0,389.7 L442.1,391.0 L446.2,392.1 L450.5,393.2 L455.0,394.2 L459.7,395.2 L464.4,396.1 L469.0,396.9 L473.1,397.6 L476.8,398.3 L479.8,398.8 L482.1,399.2 L483.8,399.4 L485.1,399.5 L486.0,399.6 L486.6,399.6 L487.1,399.5 L487.5,399.5 L488.0,399.5" fill="none" stroke="#000000" stroke-width="2.8" stroke-linecap="round" stroke-linejoin="round"/>
<path d="M110.7,132.1 L113.5,132.2 L117.1,132.3 L121.3,132.4 L126.2,132.5 L131.5,132.6 L137.3,132.7 L143.5,132.9 L150.0,133.0 L157.4,133.2 L166.1,133.4 L175.5,133.7 L185.1,133.9 L194.6,134.1 L203.4,134.2 L211.0,134.2 L217.0,134.0 L221.3,133.6 L224.2,133.0 L226.1,132.3 L227.3,131.5 L228.0,130.7 L228.5,129.8 L229.1,128.9 L230.0,128.0 L231.2,127.1 L232.3,126.0 L233.2,124.9 L234.1,123.8 L234.9,122.8 L235.6,121.8 L236.1,121.0 L236.6,120.4 L238.7,119.5 L239.3,118.2 L240.1,116.5 L241.0,114.5 L242.0,112.2 L243.1,109.8 L244.1,107.2 L245.0,104.6 L245.8,102.0 L246.4,99.3 L247.0,96.5 L247.5,93.6 L247.9,90.6 L248.3,87.5 L248.7,84.4 L249.0,81.4 L249.3,78.5 L249.6,75.6 L249.8,72.6 L249.9,69.7 L250.0,66.8 L250.2,63.9 L250.3,61.1 L250.5,58.5 L250.8,56.0 L251.2,53.6 L251.6,51.3 L252.1,49.1 L252.6,47.1 L253.1,45.1 L253.6,43.4 L254.1,41.8 L254.5,40.5 L254.9,39.5 L255.4,38.7 L255.8,38.2 L256.2,37.9 L256.6,37.7 L257.0,37.5 L257.3,37.4 L257.5,37.2 L257.5,37.2 L258.2,38.8 L259.2,41.0 L260.4,43.6 L261.6,46.5 L263.0,49.6 L264.3,52.7 L265.6,55.7 L266.8,58.6 L267.9,61.4 L269.0,64.1 L270.1,66.9 L271.1,69.8 L272.1,72.6 L273.1,75.4 L274.1,78.2 L275.0,80.9 L275.9,83.5 L276.7,85.9 L277.4,88.3 L278.2,90.7 L278.9,93.1 L279.6,95.8 L280.2,98.7 L280.9,102.0 L281.6,105.8 L282.2,110.1 L282.8,114.7 L283.4,119.4 L284.0,124.2 L284.6,128.8 L285.1,133.1 L285.6,137.0 L286.0,140.3 L286.4,143.3 L286.7,146.0 L287.0,148.5 L287.3,151.0 L287.7,153.5 L288.1,156.3 L288.5,159.3 L289.0,162.5 L289.5,165.8 L290.0,169.1 L290.6,172.6 L291.2,176.2 L291.9,180.1 L292.6,184.1 L293.4,188.5 L294.3,193.4 L295.3,198.7 L296.4,204.5 L297.5,210.3 L298.6,216.2 L299.7,221.8 L300.7,227.1 L301.7,231.7 L302.6,235.7 L303.4,239.3 L304.1,242.5 L304.8,245.5 L305.5,248.3 L306.3,251.1 L307.1,254.0 L308.0,257.0 L309.0,260.2 L310.0,263.3 L311.1,266.5 L312.2,269.7 L313.4,272.9 L314.5,276.1 L315.7,279.2 L316.9,282.4 L318.1,285.6 L319.3,288.7 L320.5,291.9 L321.7,295.1 L322.9,298.2 L324.2,301.4 L325.6,304.5 L327.0,307.7 L328.5,310.9 L330.1,314.2 L331.7,317.5 L333.4,320.8 L335.0,324.1 L336.7,327.2 L338.4,330.2 L340.0,333.0 L341.7,335.7 L343.5,338.3 L345.3,340.9 L347.1,343.3 L348.8,345.5 L350.3,347.5 L351.5,349.1 L352.5,350.4 L360.3,358.2 L361.8,359.1 L363.7,360.2 L366.1,361.6 L368.7,363.1 L371.4,364.7 L374.1,366.2 L376.7,367.7 L379.0,369.0 L381.1,370.1 L383.0,371.2 L384.9,372.2 L386.7,373.1 L388.5,374.0 L390.4,375.0 L392.4,376.0 L394.6,377.0 L396.8,378.1 L399.1,379.2 L401.4,380.3 L403.8,381.4 L406.3,382.6 L409.0,383.7 L411.9,384.9 L415.0,386.0 L418.4,387.1 L422.0,388.3 L425.9,389.5 L429.9,390.6 L434.0,391.8 L438.1,392.9 L442.2,393.9 L446.2,394.8 L450.3,395.7 L454.7,396.5 L459.3,397.2 L463.7,398.0 L468.0,398.6 L471.8,399.2 L475.0,399.6 L477.4,400.0" fill="none" stroke="#ff00ff" stroke-width="1.0" stroke-linejoin="round"/>
<path d="M110.7,132.1 L113.5,132.2 L117.1,132.3 L121.3,132.4 L126.2,132.5 L131.5,132.6 L137.3,132.7 L143.5,132.9 L150.0,133.0 L157.4,133.2 L166.1,133.4 L175.5,133.7 L185.1,133.9 L194.6,134.1 L203.4,134.2 L211.0,134.2 L217.0,134.0 L221.3,133.6 L224.2,133.0 L226.1,132.3 L227.3,131.5 L228.0,130.7 L228.5,129.8 L229.1,128.9 L230.0,128.0 L231.2,127.1 L232.3,126.0 L233.2,124.9 L234.1,123.8 L234.9,122.8 L235.6,121.8 L236.1,121.0 L236.6,120.4" fill="none" stroke="#ff00ff" stroke-width="6" stroke-linecap="round" stroke-linejoin="round"/>
<path d="M240.7,116.7 L240.7,122.3 L235.9,119.5Z" fill="#fff" stroke="#ff00ff" stroke-width="1.3"/>
<path d="M242.7,112.2 L242.7,117.8 L238.0,115.0Z" fill="#fff" stroke="#ff00ff" stroke-width="1.3"/>
<path d="M244.8,107.6 L244.8,113.2 L240.0,110.4Z" fill="#fff" stroke="#ff00ff" stroke-width="1.3"/>
<path d="M246.6,102.9 L246.6,108.5 L241.8,105.7Z" fill="#fff" stroke="#ff00ff" stroke-width="1.3"/>
<path d="M248.0,98.1 L248.0,103.7 L243.2,100.9Z" fill="#fff" stroke="#ff00ff" stroke-width="1.3"/>
<path d="M249.0,93.2 L249.0,98.8 L244.3,96.0Z" fill="#fff" stroke="#ff00ff" stroke-width="1.3"/>
<path d="M249.8,88.3 L249.8,93.9 L245.0,91.1Z" fill="#fff" stroke="#ff00ff" stroke-width="1.3"/>
<path d="M250.4,83.3 L250.4,88.9 L245.7,86.1Z" fill="#fff" stroke="#ff00ff" stroke-width="1.3"/>
<path d="M251.0,78.4 L251.0,84.0 L246.2,81.2Z" fill="#fff" stroke="#ff00ff" stroke-width="1.3"/>
<path d="M251.5,73.4 L251.5,79.0 L246.7,76.2Z" fill="#fff" stroke="#ff00ff" stroke-width="1.3"/>
<path d="M251.8,68.4 L251.8,74.0 L247.0,71.2Z" fill="#fff" stroke="#ff00ff" stroke-width="1.3"/>
<path d="M252.0,63.4 L252.0,69.0 L247.3,66.2Z" fill="#fff" stroke="#ff00ff" stroke-width="1.3"/>
<path d="M252.3,58.4 L252.3,64.0 L247.5,61.2Z" fill="#fff" stroke="#ff00ff" stroke-width="1.3"/>
<path d="M252.7,53.4 L252.7,59.0 L248.0,56.2Z" fill="#fff" stroke="#ff00ff" stroke-width="1.3"/>
<path d="M253.6,48.5 L253.6,54.1 L248.8,51.3Z" fill="#fff" stroke="#ff00ff" stroke-width="1.3"/>
<path d="M254.7,43.6 L254.7,49.2 L249.9,46.4Z" fill="#fff" stroke="#ff00ff" stroke-width="1.3"/>
<path d="M256.1,38.8 L256.1,44.4 L251.3,41.6Z" fill="#fff" stroke="#ff00ff" stroke-width="1.3"/>
<path d="M258.7,34.8 L258.7,40.4 L254.0,37.6Z" fill="#fff" stroke="#ff00ff" stroke-width="1.3"/>
<path d="M259.4,34.5 L259.4,39.9 L254.8,37.2Z" fill="#fff" stroke="#ff00ff" stroke-width="1.5"/>
<path d="M260.4,36.9 L260.4,42.3 L255.9,39.6Z" fill="#fff" stroke="#ff00ff" stroke-width="1.5"/>
<path d="M261.5,39.3 L261.5,44.7 L256.9,42.0Z" fill="#fff" stroke="#ff00ff" stroke-width="1.5"/>
<path d="M262.6,41.6 L262.6,47.0 L258.0,44.3Z" fill="#fff" stroke="#ff00ff" stroke-width="1.5"/>
<path d="M263.6,44.0 L263.6,49.4 L259.0,46.7Z" fill="#fff" stroke="#ff00ff" stroke-width="1.5"/>
<path d="M264.7,46.4 L264.7,51.8 L260.1,49.1Z" fill="#fff" stroke="#ff00ff" stroke-width="1.5"/>
<path d="M265.7,48.8 L265.7,54.2 L261.1,51.5Z" fill="#fff" stroke="#ff00ff" stroke-width="1.5"/>
<path d="M266.7,51.2 L266.7,56.6 L262.1,53.9Z" fill="#fff" stroke="#ff00ff" stroke-width="1.5"/>
<path d="M267.7,53.6 L267.7,59.0 L263.1,56.3Z" fill="#fff" stroke="#ff00ff" stroke-width="1.5"/>
<path d="M268.7,56.0 L268.7,61.4 L264.1,58.7Z" fill="#fff" stroke="#ff00ff" stroke-width="1.5"/>
<path d="M269.7,58.4 L269.7,63.8 L265.1,61.1Z" fill="#fff" stroke="#ff00ff" stroke-width="1.5"/>
<path d="M270.6,60.8 L270.6,66.2 L266.0,63.5Z" fill="#fff" stroke="#ff00ff" stroke-width="1.5"/>
<path d="M271.6,63.2 L271.6,68.6 L267.0,65.9Z" fill="#fff" stroke="#ff00ff" stroke-width="1.5"/>
<path d="M272.5,65.7 L272.5,71.1 L267.9,68.4Z" fill="#fff" stroke="#ff00ff" stroke-width="1.5"/>
<path d="M273.4,68.1 L273.4,73.5 L268.8,70.8Z" fill="#fff" stroke="#ff00ff" stroke-width="1.5"/>
<path d="M274.3,70.5 L274.3,75.9 L269.7,73.2Z" fill="#fff" stroke="#ff00ff" stroke-width="1.5"/>
<path d="M275.1,73.0 L275.1,78.4 L270.5,75.7Z" fill="#fff" stroke="#ff00ff" stroke-width="1.5"/>
<path d="M276.0,75.4 L276.0,80.8 L271.4,78.1Z" fill="#fff" stroke="#ff00ff" stroke-width="1.5"/>
<path d="M276.8,77.9 L276.8,83.3 L272.2,80.6Z" fill="#fff" stroke="#ff00ff" stroke-width="1.5"/>
<path d="M277.6,80.4 L277.6,85.8 L273.0,83.1Z" fill="#fff" stroke="#ff00ff" stroke-width="1.5"/>
<path d="M278.4,82.9 L278.4,88.3 L273.8,85.6Z" fill="#fff" stroke="#ff00ff" stroke-width="1.5"/>
<path d="M279.2,85.3 L279.2,90.7 L274.6,88.0Z" fill="#fff" stroke="#ff00ff" stroke-width="1.5"/>
<path d="M280.0,87.8 L280.0,93.2 L275.4,90.5Z" fill="#fff" stroke="#ff00ff" stroke-width="1.5"/>
<path d="M280.7,90.3 L280.7,95.7 L276.1,93.0Z" fill="#fff" stroke="#ff00ff" stroke-width="1.5"/>
<path d="M281.4,92.8 L281.4,98.2 L276.8,95.5Z" fill="#fff" stroke="#ff00ff" stroke-width="1.5"/>
<path d="M282.0,95.4 L282.0,100.8 L277.4,98.1Z" fill="#fff" stroke="#ff00ff" stroke-width="1.5"/>
<path d="M282.5,97.9 L282.5,103.3 L277.9,100.6Z" fill="#fff" stroke="#ff00ff" stroke-width="1.5"/>
<path d="M283.0,100.5 L283.0,105.9 L278.4,103.2Z" fill="#fff" stroke="#ff00ff" stroke-width="1.5"/>
<path d="M283.4,103.0 L283.4,108.4 L278.8,105.7Z" fill="#fff" stroke="#ff00ff" stroke-width="1.5"/>
<path d="M283.8,105.6 L283.8,111.0 L279.2,108.3Z" fill="#fff" stroke="#ff00ff" stroke-width="1.5"/>
<path d="M284.2,108.2 L284.2,113.6 L279.6,110.9Z" fill="#fff" stroke="#ff00ff" stroke-width="1.5"/>
<path d="M284.6,110.7 L284.6,116.1 L280.0,113.4Z" fill="#fff" stroke="#ff00ff" stroke-width="1.5"/>
<path d="M284.9,113.3 L284.9,118.7 L280.3,116.0Z" fill="#fff" stroke="#ff00ff" stroke-width="1.5"/>
<path d="M285.2,115.9 L285.2,121.3 L280.6,118.6Z" fill="#fff" stroke="#ff00ff" stroke-width="1.5"/>
<path d="M285.5,118.5 L285.5,123.9 L281.0,121.2Z" fill="#fff" stroke="#ff00ff" stroke-width="1.5"/>
<path d="M285.9,121.1 L285.9,126.5 L281.3,123.8Z" fill="#fff" stroke="#ff00ff" stroke-width="1.5"/>
<path d="M286.2,123.6 L286.2,129.0 L281.6,126.3Z" fill="#fff" stroke="#ff00ff" stroke-width="1.5"/>
<path d="M286.5,126.2 L286.5,131.6 L281.9,128.9Z" fill="#fff" stroke="#ff00ff" stroke-width="1.5"/>
<path d="M286.8,128.8 L286.8,134.2 L282.2,131.5Z" fill="#fff" stroke="#ff00ff" stroke-width="1.5"/>
<path d="M287.1,131.4 L287.1,136.8 L282.5,134.1Z" fill="#fff" stroke="#ff00ff" stroke-width="1.5"/>
<path d="M287.4,134.0 L287.4,139.4 L282.9,136.7Z" fill="#fff" stroke="#ff00ff" stroke-width="1.5"/>
<path d="M287.8,136.5 L287.8,141.9 L283.2,139.2Z" fill="#fff" stroke="#ff00ff" stroke-width="1.5"/>
<path d="M288.1,139.1 L288.1,144.5 L283.5,141.8Z" fill="#fff" stroke="#ff00ff" stroke-width="1.5"/>
<path d="M288.4,141.7 L288.4,147.1 L283.8,144.4Z" fill="#fff" stroke="#ff00ff" stroke-width="1.5"/>
<path d="M288.7,144.3 L288.7,149.7 L284.2,147.0Z" fill="#fff" stroke="#ff00ff" stroke-width="1.5"/>
<path d="M289.1,146.9 L289.1,152.3 L284.5,149.6Z" fill="#fff" stroke="#ff00ff" stroke-width="1.5"/>
<path d="M289.4,149.4 L289.4,154.8 L284.8,152.1Z" fill="#fff" stroke="#ff00ff" stroke-width="1.5"/>
<path d="M289.7,152.0 L289.7,157.4 L285.1,154.7Z" fill="#fff" stroke="#ff00ff" stroke-width="1.5"/>
<path d="M290.1,154.6 L290.1,160.0 L285.5,157.3Z" fill="#fff" stroke="#ff00ff" stroke-width="1.5"/>
<path d="M290.5,157.2 L290.5,162.6 L285.9,159.9Z" fill="#fff" stroke="#ff00ff" stroke-width="1.5"/>
<path d="M290.9,159.7 L290.9,165.1 L286.3,162.4Z" fill="#fff" stroke="#ff00ff" stroke-width="1.5"/>
<path d="M291.3,162.3 L291.3,167.7 L286.7,165.0Z" fill="#fff" stroke="#ff00ff" stroke-width="1.5"/>
<path d="M291.7,164.9 L291.7,170.3 L287.1,167.6Z" fill="#fff" stroke="#ff00ff" stroke-width="1.5"/>
<path d="M292.1,167.4 L292.1,172.8 L287.5,170.1Z" fill="#fff" stroke="#ff00ff" stroke-width="1.5"/>
<path d="M292.5,170.0 L292.5,175.4 L287.9,172.7Z" fill="#fff" stroke="#ff00ff" stroke-width="1.5"/>
<path d="M293.0,172.6 L293.0,178.0 L288.4,175.3Z" fill="#fff" stroke="#ff00ff" stroke-width="1.5"/>
<path d="M293.4,175.1 L293.4,180.5 L288.8,177.8Z" fill="#fff" stroke="#ff00ff" stroke-width="1.5"/>
<path d="M293.8,177.7 L293.8,183.1 L289.2,180.4Z" fill="#fff" stroke="#ff00ff" stroke-width="1.5"/>
<path d="M294.3,180.2 L294.3,185.6 L289.7,182.9Z" fill="#fff" stroke="#ff00ff" stroke-width="1.5"/>
<path d="M294.7,182.8 L294.7,188.2 L290.2,185.5Z" fill="#fff" stroke="#ff00ff" stroke-width="1.5"/>
<path d="M295.2,185.4 L295.2,190.8 L290.6,188.1Z" fill="#fff" stroke="#ff00ff" stroke-width="1.5"/>
<path d="M295.7,187.9 L295.7,193.3 L291.1,190.6Z" fill="#fff" stroke="#ff00ff" stroke-width="1.5"/>
<path d="M296.1,190.5 L296.1,195.9 L291.6,193.2Z" fill="#fff" stroke="#ff00ff" stroke-width="1.5"/>
<path d="M296.6,193.0 L296.6,198.4 L292.0,195.7Z" fill="#fff" stroke="#ff00ff" stroke-width="1.5"/>
<path d="M297.1,195.6 L297.1,201.0 L292.5,198.3Z" fill="#fff" stroke="#ff00ff" stroke-width="1.5"/>
<path d="M297.6,198.1 L297.6,203.5 L293.0,200.8Z" fill="#fff" stroke="#ff00ff" stroke-width="1.5"/>
<path d="M298.0,200.7 L298.0,206.1 L293.5,203.4Z" fill="#fff" stroke="#ff00ff" stroke-width="1.5"/>
<path d="M298.5,203.3 L298.5,208.7 L293.9,206.0Z" fill="#fff" stroke="#ff00ff" stroke-width="1.5"/>
<path d="M299.0,205.8 L299.0,211.2 L294.4,208.5Z" fill="#fff" stroke="#ff00ff" stroke-width="1.5"/>
<path d="M299.5,208.4 L299.5,213.8 L294.9,211.1Z" fill="#fff" stroke="#ff00ff" stroke-width="1.5"/>
<path d="M300.0,210.9 L300.0,216.3 L295.4,213.6Z" fill="#fff" stroke="#ff00ff" stroke-width="1.5"/>
<path d="M300.5,213.5 L300.5,218.9 L295.9,216.2Z" fill="#fff" stroke="#ff00ff" stroke-width="1.5"/>
<path d="M301.0,216.0 L301.0,221.4 L296.4,218.7Z" fill="#fff" stroke="#ff00ff" stroke-width="1.5"/>
<path d="M301.5,218.6 L301.5,224.0 L296.9,221.3Z" fill="#fff" stroke="#ff00ff" stroke-width="1.5"/>
<path d="M302.0,221.1 L302.0,226.5 L297.4,223.8Z" fill="#fff" stroke="#ff00ff" stroke-width="1.5"/>
<path d="M302.5,223.7 L302.5,229.1 L297.9,226.4Z" fill="#fff" stroke="#ff00ff" stroke-width="1.5"/>
<path d="M303.0,226.2 L303.0,231.6 L298.4,228.9Z" fill="#fff" stroke="#ff00ff" stroke-width="1.5"/>
<path d="M303.5,228.8 L303.5,234.2 L299.0,231.5Z" fill="#fff" stroke="#ff00ff" stroke-width="1.5"/>
<path d="M304.1,231.3 L304.1,236.7 L299.5,234.0Z" fill="#fff" stroke="#ff00ff" stroke-width="1.5"/>
<path d="M304.6,233.8 L304.6,239.2 L300.0,236.5Z" fill="#fff" stroke="#ff00ff" stroke-width="1.5"/>
<path d="M305.2,236.4 L305.2,241.8 L300.6,239.1Z" fill="#fff" stroke="#ff00ff" stroke-width="1.5"/>
<path d="M305.8,238.9 L305.8,244.3 L301.2,241.6Z" fill="#fff" stroke="#ff00ff" stroke-width="1.5"/>
<path d="M306.4,241.5 L306.4,246.9 L301.8,244.2Z" fill="#fff" stroke="#ff00ff" stroke-width="1.5"/>
<path d="M307.0,244.0 L307.0,249.4 L302.4,246.7Z" fill="#fff" stroke="#ff00ff" stroke-width="1.5"/>
<path d="M307.7,246.5 L307.7,251.9 L303.1,249.2Z" fill="#fff" stroke="#ff00ff" stroke-width="1.5"/>
<path d="M308.4,249.0 L308.4,254.4 L303.8,251.7Z" fill="#fff" stroke="#ff00ff" stroke-width="1.5"/>
<path d="M309.1,251.5 L309.1,256.9 L304.5,254.2Z" fill="#fff" stroke="#ff00ff" stroke-width="1.5"/>
<path d="M309.8,254.0 L309.8,259.4 L305.2,256.7Z" fill="#fff" stroke="#ff00ff" stroke-width="1.5"/>
<path d="M310.6,256.5 L310.6,261.9 L306.0,259.2Z" fill="#fff" stroke="#ff00ff" stroke-width="1.5"/>
<path d="M311.4,259.0 L311.4,264.4 L306.8,261.7Z" fill="#fff" stroke="#ff00ff" stroke-width="1.5"/>
<path d="M312.2,261.4 L312.2,266.8 L307.6,264.1Z" fill="#fff" stroke="#ff00ff" stroke-width="1.5"/>
<path d="M313.0,263.9 L313.0,269.3 L308.4,266.6Z" fill="#fff" stroke="#ff00ff" stroke-width="1.5"/>
<path d="M313.9,266.3 L313.9,271.7 L309.3,269.0Z" fill="#fff" stroke="#ff00ff" stroke-width="1.5"/>
<path d="M314.7,268.8 L314.7,274.2 L310.2,271.5Z" fill="#fff" stroke="#ff00ff" stroke-width="1.5"/>
<path d="M315.6,271.2 L315.6,276.6 L311.0,273.9Z" fill="#fff" stroke="#ff00ff" stroke-width="1.5"/>
<path d="M316.5,273.7 L316.5,279.1 L311.9,276.4Z" fill="#fff" stroke="#ff00ff" stroke-width="1.5"/>
<path d="M317.4,276.1 L317.4,281.5 L312.9,278.8Z" fill="#fff" stroke="#ff00ff" stroke-width="1.5"/>
<path d="M318.4,278.5 L318.4,283.9 L313.8,281.2Z" fill="#fff" stroke="#ff00ff" stroke-width="1.5"/>
<path d="M319.3,281.0 L319.3,286.4 L314.7,283.7Z" fill="#fff" stroke="#ff00ff" stroke-width="1.5"/>
<path d="M320.2,283.4 L320.2,288.8 L315.6,286.1Z" fill="#fff" stroke="#ff00ff" stroke-width="1.5"/>
<path d="M321.1,285.8 L321.1,291.2 L316.5,288.5Z" fill="#fff" stroke="#ff00ff" stroke-width="1.5"/>
<path d="M322.0,288.3 L322.0,293.7 L317.4,291.0Z" fill="#fff" stroke="#ff00ff" stroke-width="1.5"/>
<path d="M322.9,290.7 L322.9,296.1 L318.4,293.4Z" fill="#fff" stroke="#ff00ff" stroke-width="1.5"/>
<path d="M323.9,293.1 L323.9,298.5 L319.3,295.8Z" fill="#fff" stroke="#ff00ff" stroke-width="1.5"/>
<path d="M324.8,295.5 L324.8,300.9 L320.3,298.2Z" fill="#fff" stroke="#ff00ff" stroke-width="1.5"/>
<path d="M325.8,297.9 L325.8,303.3 L321.2,300.6Z" fill="#fff" stroke="#ff00ff" stroke-width="1.5"/>
<path d="M326.8,300.3 L326.8,305.7 L322.3,303.0Z" fill="#fff" stroke="#ff00ff" stroke-width="1.5"/>
<path d="M327.9,302.7 L327.9,308.1 L323.3,305.4Z" fill="#fff" stroke="#ff00ff" stroke-width="1.5"/>
<path d="M328.9,305.1 L328.9,310.5 L324.3,307.8Z" fill="#fff" stroke="#ff00ff" stroke-width="1.5"/>
<path d="M330.0,307.5 L330.0,312.9 L325.4,310.2Z" fill="#fff" stroke="#ff00ff" stroke-width="1.5"/>
<path d="M331.1,309.8 L331.1,315.2 L326.5,312.5Z" fill="#fff" stroke="#ff00ff" stroke-width="1.5"/>
<path d="M332.3,312.2 L332.3,317.6 L327.7,314.9Z" fill="#fff" stroke="#ff00ff" stroke-width="1.5"/>
<path d="M333.4,314.5 L333.4,319.9 L328.8,317.2Z" fill="#fff" stroke="#ff00ff" stroke-width="1.5"/>
<path d="M334.6,316.8 L334.6,322.2 L330.0,319.5Z" fill="#fff" stroke="#ff00ff" stroke-width="1.5"/>
<path d="M335.8,319.1 L335.8,324.5 L331.2,321.8Z" fill="#fff" stroke="#ff00ff" stroke-width="1.5"/>
<path d="M337.0,321.4 L337.0,326.8 L332.4,324.1Z" fill="#fff" stroke="#ff00ff" stroke-width="1.5"/>
<path d="M338.2,323.7 L338.2,329.1 L333.6,326.4Z" fill="#fff" stroke="#ff00ff" stroke-width="1.5"/>
<path d="M339.4,326.0 L339.4,331.4 L334.8,328.7Z" fill="#fff" stroke="#ff00ff" stroke-width="1.5"/>
<path d="M340.7,328.3 L340.7,333.7 L336.1,331.0Z" fill="#fff" stroke="#ff00ff" stroke-width="1.5"/>
<path d="M342.0,330.5 L342.0,335.9 L337.4,333.2Z" fill="#fff" stroke="#ff00ff" stroke-width="1.5"/>
<path d="M343.4,332.7 L343.4,338.1 L338.8,335.4Z" fill="#fff" stroke="#ff00ff" stroke-width="1.5"/>
<path d="M344.9,334.9 L344.9,340.3 L340.3,337.6Z" fill="#fff" stroke="#ff00ff" stroke-width="1.5"/>
<path d="M346.3,337.0 L346.3,342.4 L341.8,339.7Z" fill="#fff" stroke="#ff00ff" stroke-width="1.5"/>
<path d="M347.9,339.1 L347.9,344.5 L343.3,341.8Z" fill="#fff" stroke="#ff00ff" stroke-width="1.5"/>
<path d="M349.4,341.2 L349.4,346.6 L344.8,343.9Z" fill="#fff" stroke="#ff00ff" stroke-width="1.5"/>
<path d="M351.0,343.3 L351.0,348.7 L346.4,346.0Z" fill="#fff" stroke="#ff00ff" stroke-width="1.5"/>
<path d="M352.6,345.3 L352.6,350.7 L348.0,348.0Z" fill="#fff" stroke="#ff00ff" stroke-width="1.5"/>
<path d="M354.2,347.4 L354.2,352.8 L349.6,350.1Z" fill="#fff" stroke="#ff00ff" stroke-width="1.5"/>
<path d="M360.3,358.2 L361.8,359.1 L363.7,360.2 L366.1,361.6 L368.7,363.1 L371.4,364.7 L374.1,366.2 L376.7,367.7 L379.0,369.0 L381.1,370.1 L383.0,371.2 L384.9,372.2 L386.7,373.1 L388.5,374.0 L390.4,375.0 L392.4,376.0 L394.6,377.0 L396.8,378.1 L399.1,379.2 L401.4,380.3 L403.8,381.4 L406.3,382.6 L409.0,383.7 L411.9,384.9 L415.0,386.0 L418.4,387.1 L422.0,388.3 L425.9,389.5 L429.9,390.6 L434.0,391.8 L438.1,392.9 L442.2,393.9 L446.2,394.8 L450.3,395.7 L454.7,396.5 L459.3,397.2 L463.7,398.0 L468.0,398.6 L471.8,399.2 L475.0,399.6 L477.4,400.0" fill="none" stroke="#ff00ff" stroke-width="6" stroke-linecap="round" stroke-linejoin="round"/>
<path d="M487.9,399.3 L487.9,404.7 L483.3,402.0Z" fill="#fff" stroke="#ff00ff" stroke-width="1.5"/>
<path d="M113.0,151.0 L115.1,151.1 L117.8,151.3 L121.0,151.4 L124.6,151.6 L128.5,151.8 L132.4,152.0 L136.3,152.2 L140.0,152.3 L143.6,152.4 L147.3,152.5 L151.1,152.6 L155.0,152.7 L158.8,152.8 L162.6,152.9 L166.3,152.9 L170.0,152.8 L173.7,152.7 L177.4,152.6 L181.2,152.4 L184.9,152.2 L188.5,152.0 L191.8,151.7 L194.9,151.4 L197.6,151.0 L199.9,150.5 L201.9,150.0 L203.6,149.5 L205.1,148.9 L206.4,148.2 L207.6,147.5 L208.8,146.8 L210.0,146.0 L211.2,145.1 L212.3,144.0 L213.3,142.9 L214.3,141.7 L215.1,140.5 L215.9,139.5 L216.5,138.6 L217.0,138.0 L219.0,137.0 L219.4,136.1 L219.9,134.8 L220.6,133.4 L221.3,131.8 L222.0,130.0 L222.7,128.3 L223.4,126.6 L224.0,125.0 L224.5,123.6 L225.0,122.3 L225.5,121.0 L225.9,119.7 L226.4,118.3 L226.8,116.8 L227.1,115.0 L227.5,113.0 L227.8,110.6 L228.1,108.0 L228.4,105.0 L228.6,102.0 L228.8,98.9 L229.0,95.8 L229.3,92.8 L229.5,90.0 L229.8,87.3 L230.0,84.6 L230.3,81.8 L230.5,79.2 L230.8,76.6 L231.1,74.2 L231.4,72.0 L231.7,70.0 L232.0,68.2 L232.4,66.6 L232.9,65.1 L233.3,63.8 L233.7,62.6 L234.1,61.6 L234.4,60.7 L234.6,60.0 L242.2,61.0 L242.8,62.5 L243.7,64.5 L244.7,66.9 L245.8,69.5 L247.0,72.3 L248.2,75.2 L249.3,78.1 L250.4,80.9 L251.4,83.7 L252.5,86.6 L253.6,89.6 L254.6,92.7 L255.7,95.7 L256.7,98.7 L257.7,101.6 L258.6,104.3 L259.5,106.9 L260.3,109.4 L261.1,111.8 L261.8,114.1 L262.6,116.4 L263.2,118.6 L263.9,120.8 L264.5,123.0 L265.1,125.3 L265.6,127.6 L266.1,130.0 L266.6,132.4 L267.0,134.6 L267.4,136.5 L267.7,138.2 L268.0,139.4 L268.0,139.4 L268.2,140.8 L268.5,142.6 L268.8,144.8 L269.1,147.2 L269.5,149.9 L270.0,152.9 L270.5,156.0 L271.0,159.3 L271.6,162.9 L272.3,166.9 L273.0,171.1 L273.7,175.6 L274.5,180.1 L275.3,184.7 L276.1,189.1 L276.8,193.4 L277.5,197.6 L278.3,201.9 L279.0,206.1 L279.8,210.3 L280.5,214.4 L281.3,218.4 L282.0,222.0 L282.7,225.4 L283.4,228.4 L284.0,231.1 L284.6,233.5 L285.2,235.7 L285.9,237.8 L286.5,240.0 L287.1,242.1 L287.7,244.4 L288.4,246.9 L289.1,249.6 L289.8,252.4 L290.6,255.1 L291.3,257.7 L291.9,260.0 L292.4,261.9 L292.8,263.4 L294.1,269.7 L294.8,271.7 L295.7,274.4 L296.8,277.6 L298.0,281.2 L299.3,284.9 L300.6,288.6 L301.8,292.1 L303.0,295.1 L304.1,297.8 L305.2,300.4 L306.3,302.8 L307.4,305.2 L308.5,307.5 L309.6,309.7 L310.7,311.9 L311.8,314.1 L312.8,316.2 L313.8,318.0 L314.7,319.8 L315.6,321.6 L316.6,323.4 L317.7,325.3 L319.1,327.5 L320.7,329.9 L322.6,332.8 L324.8,336.0 L327.3,339.5 L329.8,343.1 L332.5,346.7 L335.1,350.1 L337.6,353.2 L340.0,355.9 L342.4,358.2 L344.9,360.3 L347.4,362.1 L349.8,363.8 L352.1,365.2 L354.2,366.5 L355.9,367.5 L357.2,368.4 L363.4,373.1 L365.2,373.9 L367.5,375.0 L370.3,376.3 L373.3,377.7 L376.6,379.2 L380.1,380.7 L383.5,382.2 L386.8,383.5 L390.1,384.7 L393.4,386.0 L396.9,387.2 L400.4,388.5 L404.0,389.7 L407.6,390.8 L411.3,391.9 L415.0,393.0 L418.7,394.0 L422.6,395.0 L426.4,395.9 L430.3,396.8 L434.3,397.6 L438.2,398.4 L442.2,399.2 L446.2,400.0 L450.4,400.8 L455.1,401.6 L459.8,402.4 L464.5,403.1 L469.0,403.8 L473.1,404.5 L476.5,405.0 L479.0,405.4" fill="none" stroke="#008000" stroke-width="1.0" stroke-linejoin="round"/>
<path d="M113.0,151.0 L115.1,151.1 L117.8,151.3 L121.0,151.4 L124.6,151.6 L128.5,151.8 L132.4,152.0 L136.3,152.2 L140.0,152.3 L143.6,152.4 L147.3,152.5 L151.1,152.6 L155.0,152.7 L158.8,152.8 L162.6,152.9 L166.3,152.9 L170.0,152.8 L173.7,152.7 L177.4,152.6 L181.2,152.4 L184.9,152.2 L188.5,152.0 L191.8,151.7 L194.9,151.4 L197.6,151.0 L199.9,150.5 L201.9,150.0 L203.6,149.5 L205.1,148.9 L206.4,148.2 L207.6,147.5 L208.8,146.8 L210.0,146.0 L211.2,145.1 L212.3,144.0 L213.3,142.9 L214.3,141.7 L215.1,140.5 L215.9,139.5 L216.5,138.6 L217.0,138.0" fill="none" stroke="#008000" stroke-width="7" stroke-linecap="round" stroke-linejoin="round"/>
<circle cx="219.0" cy="137.0" r="3.00" fill="#fff" stroke="#008000" stroke-width="2.0"/>
<circle cx="220.8" cy="132.9" r="3.00" fill="#fff" stroke="#008000" stroke-width="2.0"/>
<circle cx="222.6" cy="128.7" r="3.00" fill="#fff" stroke="#008000" stroke-width="2.0"/>
<circle cx="224.2" cy="124.5" r="3.00" fill="#fff" stroke="#008000" stroke-width="2.0"/>
<circle cx="225.7" cy="120.3" r="3.00" fill="#fff" stroke="#008000" stroke-width="2.0"/>
<circle cx="226.9" cy="116.0" r="3.00" fill="#fff" stroke="#008000" stroke-width="2.0"/>
<circle cx="227.7" cy="111.5" r="3.00" fill="#fff" stroke="#008000" stroke-width="2.0"/>
<circle cx="228.2" cy="107.1" r="3.00" fill="#fff" stroke="#008000" stroke-width="2.0"/>
<circle cx="228.5" cy="102.6" r="3.00" fill="#fff" stroke="#008000" stroke-width="2.0"/>
<circle cx="228.9" cy="98.1" r="3.00" fill="#fff" stroke="#008000" stroke-width="2.0"/>
<circle cx="229.2" cy="93.6" r="3.00" fill="#fff" stroke="#008000" stroke-width="2.0"/>
<circle cx="229.6" cy="89.1" r="3.00" fill="#fff" stroke="#008000" stroke-width="2.0"/>
<circle cx="230.0" cy="84.6" r="3.00" fill="#fff" stroke="#008000" stroke-width="2.0"/>
<circle cx="230.4" cy="80.2" r="3.00" fill="#fff" stroke="#008000" stroke-width="2.0"/>
<circle cx="230.9" cy="75.7" r="3.00" fill="#fff" stroke="#008000" stroke-width="2.0"/>
<circle cx="231.5" cy="71.2" r="3.00" fill="#fff" stroke="#008000" stroke-width="2.0"/>
<circle cx="232.4" cy="66.8" r="3.00" fill="#fff" stroke="#008000" stroke-width="2.0"/>
<circle cx="233.7" cy="62.5" r="3.00" fill="#fff" stroke="#008000" stroke-width="2.0"/>
<circle cx="242.2" cy="61.0" r="2.80" fill="#fff" stroke="#008000" stroke-width="2.2"/>
<circle cx="243.0" cy="62.8" r="2.80" fill="#fff" stroke="#008000" stroke-width="2.2"/>
<circle cx="243.8" cy="64.7" r="2.80" fill="#fff" stroke="#008000" stroke-width="2.2"/>
<circle cx="244.5" cy="66.5" r="2.80" fill="#fff" stroke="#008000" stroke-width="2.2"/>
<circle cx="245.3" cy="68.4" r="2.80" fill="#fff" stroke="#008000" stroke-width="2.2"/>
<circle cx="246.1" cy="70.2" r="2.80" fill="#fff" stroke="#008000" stroke-width="2.2"/>
<circle cx="246.9" cy="72.1" r="2.80" fill="#fff" stroke="#008000" stroke-width="2.2"/>
<circle cx="247.6" cy="73.9" r="2.80" fill="#fff" stroke="#008000" stroke-width="2.2"/>
<circle cx="248.4" cy="75.8" r="2.80" fill="#fff" stroke="#008000" stroke-width="2.2"/>
<circle cx="249.1" cy="77.6" r="2.80" fill="#fff" stroke="#008000" stroke-width="2.2"/>
<circle cx="249.8" cy="79.5" r="2.80" fill="#fff" stroke="#008000" stroke-width="2.2"/>
<circle cx="250.6" cy="81.3" r="2.80" fill="#fff" stroke="#008000" stroke-width="2.2"/>
<circle cx="251.3" cy="83.2" r="2.80" fill="#fff" stroke="#008000" stroke-width="2.2"/>
<circle cx="252.0" cy="85.1" r="2.80" fill="#fff" stroke="#008000" stroke-width="2.2"/>
<circle cx="252.6" cy="87.0" r="2.80" fill="#fff" stroke="#008000" stroke-width="2.2"/>
<circle cx="253.3" cy="88.9" r="2.80" fill="#fff" stroke="#008000" stroke-width="2.2"/>
<circle cx="254.0" cy="90.7" r="2.80" fill="#fff" stroke="#008000" stroke-width="2.2"/>
<circle cx="254.6" cy="92.6" r="2.80" fill="#fff" stroke="#008000" stroke-width="2.2"/>
<circle cx="255.3" cy="94.5" r="2.80" fill="#fff" stroke="#008000" stroke-width="2.2"/>
<circle cx="255.9" cy="96.4" r="2.80" fill="#fff" stroke="#008000" stroke-width="2.2"/>
<circle cx="256.6" cy="98.3" r="2.80" fill="#fff" stroke="#008000" stroke-width="2.2"/>
<circle cx="257.2" cy="100.2" r="2.80" fill="#fff" stroke="#008000" stroke-width="2.2"/>
<circle cx="257.9" cy="102.1" r="2.80" fill="#fff" stroke="#008000" stroke-width="2.2"/>
<circle cx="258.5" cy="104.0" r="2.80" fill="#fff" stroke="#008000" stroke-width="2.2"/>
<circle cx="259.1" cy="105.9" r="2.80" fill="#fff" stroke="#008000" stroke-width="2.2"/>
<circle cx="259.8" cy="107.8" r="2.80" fill="#fff" stroke="#008000" stroke-width="2.2"/>
<circle cx="260.4" cy="109.7" r="2.80" fill="#fff" stroke="#008000" stroke-width="2.2"/>
<circle cx="261.0" cy="111.6" r="2.80" fill="#fff" stroke="#008000" stroke-width="2.2"/>
<circle cx="261.6" cy="113.5" r="2.80" fill="#fff" stroke="#008000" stroke-width="2.2"/>
<circle cx="262.3" cy="115.4" r="2.80" fill="#fff" stroke="#008000" stroke-width="2.2"/>
<circle cx="262.9" cy="117.3" r="2.80" fill="#fff" stroke="#008000" stroke-width="2.2"/>
<circle cx="263.4" cy="119.2" r="2.80" fill="#fff" stroke="#008000" stroke-width="2.2"/>
<circle cx="264.0" cy="121.1" r="2.80" fill="#fff" stroke="#008000" stroke-width="2.2"/>
<circle cx="264.5" cy="123.1" r="2.80" fill="#fff" stroke="#008000" stroke-width="2.2"/>
<circle cx="265.0" cy="125.0" r="2.80" fill="#fff" stroke="#008000" stroke-width="2.2"/>
<circle cx="265.5" cy="127.0" r="2.80" fill="#fff" stroke="#008000" stroke-width="2.2"/>
<circle cx="265.9" cy="128.9" r="2.80" fill="#fff" stroke="#008000" stroke-width="2.2"/>
<circle cx="266.3" cy="130.9" r="2.80" fill="#fff" stroke="#008000" stroke-width="2.2"/>
<circle cx="266.7" cy="132.8" r="2.80" fill="#fff" stroke="#008000" stroke-width="2.2"/>
<circle cx="267.1" cy="134.8" r="2.80" fill="#fff" stroke="#008000" stroke-width="2.2"/>
<circle cx="267.5" cy="136.7" r="2.80" fill="#fff" stroke="#008000" stroke-width="2.2"/>
<circle cx="267.9" cy="138.7" r="2.80" fill="#fff" stroke="#008000" stroke-width="2.2"/>
<circle cx="268.0" cy="139.4" r="3.20" fill="#fff" stroke="#008000" stroke-width="2.0"/>
<circle cx="268.6" cy="143.4" r="3.20" fill="#fff" stroke="#008000" stroke-width="2.0"/>
<circle cx="269.2" cy="147.3" r="3.20" fill="#fff" stroke="#008000" stroke-width="2.0"/>
<circle cx="269.7" cy="151.3" r="3.20" fill="#fff" stroke="#008000" stroke-width="2.0"/>
<circle cx="270.4" cy="155.2" r="3.20" fill="#fff" stroke="#008000" stroke-width="2.0"/>
<circle cx="271.0" cy="159.2" r="3.20" fill="#fff" stroke="#008000" stroke-width="2.0"/>
<circle cx="271.6" cy="163.1" r="3.20" fill="#fff" stroke="#008000" stroke-width="2.0"/>
<circle cx="272.3" cy="167.1" r="3.20" fill="#fff" stroke="#008000" stroke-width="2.0"/>
<circle cx="272.9" cy="171.0" r="3.20" fill="#fff" stroke="#008000" stroke-width="2.0"/>
<circle cx="273.6" cy="175.0" r="3.20" fill="#fff" stroke="#008000" stroke-width="2.0"/>
<circle cx="274.3" cy="178.9" r="3.20" fill="#fff" stroke="#008000" stroke-width="2.0"/>
<circle cx="275.0" cy="182.8" r="3.20" fill="#fff" stroke="#008000" stroke-width="2.0"/>
<circle cx="275.6" cy="186.8" r="3.20" fill="#fff" stroke="#008000" stroke-width="2.0"/>
<circle cx="276.3" cy="190.7" r="3.20" fill="#fff" stroke="#008000" stroke-width="2.0"/>
<circle cx="277.0" cy="194.7" r="3.20" fill="#fff" stroke="#008000" stroke-width="2.0"/>
<circle cx="277.7" cy="198.6" r="3.20" fill="#fff" stroke="#008000" stroke-width="2.0"/>
<circle cx="278.4" cy="202.5" r="3.20" fill="#fff" stroke="#008000" stroke-width="2.0"/>
<circle cx="279.1" cy="206.5" r="3.20" fill="#fff" stroke="#008000" stroke-width="2.0"/>
<circle cx="279.8" cy="210.4" r="3.20" fill="#fff" stroke="#008000" stroke-width="2.0"/>
<circle cx="280.5" cy="214.4" r="3.20" fill="#fff" stroke="#008000" stroke-width="2.0"/>
<circle cx="281.3" cy="218.3" r="3.20" fill="#fff" stroke="#008000" stroke-width="2.0"/>
<circle cx="282.0" cy="222.2" r="3.20" fill="#fff" stroke="#008000" stroke-width="2.0"/>
<circle cx="282.9" cy="226.1" r="3.20" fill="#fff" stroke="#008000" stroke-width="2.0"/>
<circle cx="283.8" cy="230.0" r="3.20" fill="#fff" stroke="#008000" stroke-width="2.0"/>
<circle cx="284.8" cy="233.9" r="3.20" fill="#fff" stroke="#008000" stroke-width="2.0"/>
<circle cx="285.8" cy="237.8" r="3.20" fill="#fff" stroke="#008000" stroke-width="2.0"/>
<circle cx="286.9" cy="241.6" r="3.20" fill="#fff" stroke="#008000" stroke-width="2.0"/>
<circle cx="288.0" cy="245.5" r="3.20" fill="#fff" stroke="#008000" stroke-width="2.0"/>
<circle cx="289.0" cy="249.3" r="3.20" fill="#fff" stroke="#008000" stroke-width="2.0"/>
<circle cx="290.1" cy="253.2" r="3.20" fill="#fff" stroke="#008000" stroke-width="2.0"/>
<circle cx="291.1" cy="257.0" r="3.20" fill="#fff" stroke="#008000" stroke-width="2.0"/>
<circle cx="292.1" cy="260.9" r="3.20" fill="#fff" stroke="#008000" stroke-width="2.0"/>
<path d="M294.1,269.7 L294.8,271.7 L295.7,274.4 L296.8,277.6 L298.0,281.2 L299.3,284.9 L300.6,288.6 L301.8,292.1 L303.0,295.1 L304.1,297.8 L305.2,300.4 L306.3,302.8 L307.4,305.2 L308.5,307.5 L309.6,309.7 L310.7,311.9 L311.8,314.1 L312.8,316.2 L313.8,318.0 L314.7,319.8 L315.6,321.6 L316.6,323.4 L317.7,325.3 L319.1,327.5 L320.7,329.9 L322.6,332.8 L324.8,336.0 L327.3,339.5 L329.8,343.1 L332.5,346.7 L335.1,350.1 L337.6,353.2 L340.0,355.9 L342.4,358.2 L344.9,360.3 L347.4,362.1 L349.8,363.8 L352.1,365.2 L354.2,366.5 L355.9,367.5 L357.2,368.4" fill="none" stroke="#008000" stroke-width="7" stroke-linecap="round" stroke-linejoin="round"/>
<path d="M363.4,373.1 L365.2,373.9 L367.5,375.0 L370.3,376.3 L373.3,377.7 L376.6,379.2 L380.1,380.7 L383.5,382.2 L386.8,383.5 L390.1,384.7 L393.4,386.0 L396.9,387.2 L400.4,388.5 L404.0,389.7 L407.6,390.8 L411.3,391.9 L415.0,393.0 L418.7,394.0 L422.6,395.0 L426.4,395.9 L430.3,396.8 L434.3,397.6 L438.2,398.4 L442.2,399.2 L446.2,400.0 L450.4,400.8 L455.1,401.6 L459.8,402.4 L464.5,403.1 L469.0,403.8 L473.1,404.5 L476.5,405.0 L479.0,405.4" fill="none" stroke="#008000" stroke-width="7" stroke-linecap="round" stroke-linejoin="round"/>
<circle cx="486.0" cy="406.5" r="3.00" fill="#fff" stroke="#008000" stroke-width="2.0"/>
<path d="M115.6,136.5 L116.3,136.4 L117.2,136.2 L118.3,136.0 L119.5,135.8 L120.9,135.6 L122.2,135.3 L123.6,134.9 L125.0,134.5 L126.4,134.0 L127.9,133.4 L129.5,132.7 L131.1,132.0 L132.7,131.3 L134.2,130.6 L135.7,130.0 L137.0,129.5 L138.2,129.0 L139.3,128.5 L140.3,128.0 L141.3,127.6 L142.2,127.2 L143.1,127.0 L144.0,126.9 L144.9,127.0 L145.9,127.4 L146.9,128.0 L147.9,128.9 L148.9,129.8 L149.9,130.8 L150.7,131.7 L151.5,132.5 L152.0,133.0 L152.0,132.0 L152.5,132.9 L153.1,133.9 L153.8,135.2 L154.6,136.7 L155.5,138.3 L156.5,140.0 L157.5,141.9 L158.5,143.8 L159.6,145.9 L160.7,148.1 L161.9,150.5 L163.2,152.9 L164.5,155.5 L165.8,158.1 L167.1,160.7 L168.3,163.3 L169.5,165.8 L170.7,168.4 L171.9,170.9 L173.2,173.4 L174.4,176.1 L175.6,178.8 L176.8,181.7 L178.0,184.8 L179.2,188.1 L180.5,191.5 L181.7,195.2 L183.0,198.9 L184.2,202.7 L185.4,206.5 L186.6,210.3 L187.8,214.0 L188.9,217.7 L190.0,221.4 L191.0,225.0 L192.1,228.7 L193.1,232.4 L194.2,236.2 L195.3,239.9 L196.5,243.7 L197.8,247.5 L199.1,251.5 L200.5,255.4 L201.9,259.4 L203.4,263.3 L204.8,267.3 L206.3,271.2 L207.7,275.0 L209.1,278.8 L210.4,282.5 L211.7,286.1 L213.1,289.8 L214.4,293.4 L215.9,297.0 L217.4,300.7 L219.0,304.3 L220.9,308.2 L223.0,312.3 L225.3,316.5 L227.6,320.7 L229.8,324.7 L231.8,328.3 L233.5,331.2 L234.7,333.5 L243.7,341.3 L245.1,342.8 L246.9,344.9 L249.1,347.4 L251.5,350.1 L254.1,353.0 L256.7,355.7 L259.2,358.3 L261.6,360.4 L263.8,362.2 L265.9,363.7 L268.0,365.1 L270.1,366.4 L272.3,367.7 L274.6,368.9 L277.0,370.2 L279.6,371.6 L282.3,373.1 L285.2,374.5 L288.1,376.0 L291.2,377.6 L294.4,379.1 L297.7,380.6 L301.2,382.2 L304.9,383.8 L308.9,385.5 L313.4,387.3 L318.2,389.2 L323.0,391.0 L327.8,392.8 L332.3,394.5 L336.4,396.0 L340.0,397.3 L343.1,398.3 L345.8,399.2 L348.3,399.8 L350.4,400.4 L352.3,400.8 L354.0,401.2 L355.4,401.5 L356.5,401.8 L365.5,404.0 L369.4,404.6 L374.8,405.5 L381.2,406.5 L388.3,407.7 L395.6,408.8 L402.8,409.9 L409.3,410.9 L415.0,411.7 L419.8,412.3 L424.0,412.8 L427.9,413.3 L431.6,413.6 L435.1,413.9 L438.7,414.2 L442.3,414.5 L446.2,414.8 L450.5,415.1 L455.2,415.4 L460.1,415.7 L464.9,415.9 L469.6,416.2 L473.7,416.4 L477.2,416.6 L479.8,416.7" fill="none" stroke="#8000ff" stroke-width="1.0" stroke-linejoin="round"/>
<path d="M115.6,136.5 L116.3,136.4 L117.2,136.2 L118.3,136.0 L119.5,135.8 L120.9,135.6 L122.2,135.3 L123.6,134.9 L125.0,134.5 L126.4,134.0 L127.9,133.4 L129.5,132.7 L131.1,132.0 L132.7,131.3 L134.2,130.6 L135.7,130.0 L137.0,129.5 L138.2,129.0 L139.3,128.5 L140.3,128.0 L141.3,127.6 L142.2,127.2 L143.1,127.0 L144.0,126.9 L144.9,127.0 L145.9,127.4 L146.9,128.0 L147.9,128.9 L148.9,129.8 L149.9,130.8 L150.7,131.7 L151.5,132.5 L152.0,133.0" fill="none" stroke="#8000ff" stroke-width="5.5" stroke-linecap="round" stroke-linejoin="round"/>
<circle cx="152.0" cy="132.0" r="2.20" fill="#fff" stroke="#8000ff" stroke-width="1.4"/>
<circle cx="153.6" cy="134.8" r="2.20" fill="#fff" stroke="#8000ff" stroke-width="1.4"/>
<circle cx="155.1" cy="137.6" r="2.20" fill="#fff" stroke="#8000ff" stroke-width="1.4"/>
<circle cx="156.7" cy="140.4" r="2.20" fill="#fff" stroke="#8000ff" stroke-width="1.4"/>
<circle cx="158.2" cy="143.2" r="2.20" fill="#fff" stroke="#8000ff" stroke-width="1.4"/>
<circle cx="159.7" cy="146.0" r="2.20" fill="#fff" stroke="#8000ff" stroke-width="1.4"/>
<circle cx="161.1" cy="148.9" r="2.20" fill="#fff" stroke="#8000ff" stroke-width="1.4"/>
<circle cx="162.6" cy="151.7" r="2.20" fill="#fff" stroke="#8000ff" stroke-width="1.4"/>
<circle cx="164.0" cy="154.6" r="2.20" fill="#fff" stroke="#8000ff" stroke-width="1.4"/>
<circle cx="165.5" cy="157.5" r="2.20" fill="#fff" stroke="#8000ff" stroke-width="1.4"/>
<circle cx="166.9" cy="160.3" r="2.20" fill="#fff" stroke="#8000ff" stroke-width="1.4"/>
<circle cx="168.3" cy="163.2" r="2.20" fill="#fff" stroke="#8000ff" stroke-width="1.4"/>
<circle cx="169.6" cy="166.1" r="2.20" fill="#fff" stroke="#8000ff" stroke-width="1.4"/>
<circle cx="171.0" cy="169.0" r="2.20" fill="#fff" stroke="#8000ff" stroke-width="1.4"/>
<circle cx="172.4" cy="171.9" r="2.20" fill="#fff" stroke="#8000ff" stroke-width="1.4"/>
<circle cx="173.8" cy="174.8" r="2.20" fill="#fff" stroke="#8000ff" stroke-width="1.4"/>
<circle cx="175.1" cy="177.7" r="2.20" fill="#fff" stroke="#8000ff" stroke-width="1.4"/>
<circle cx="176.3" cy="180.6" r="2.20" fill="#fff" stroke="#8000ff" stroke-width="1.4"/>
<circle cx="177.5" cy="183.6" r="2.20" fill="#fff" stroke="#8000ff" stroke-width="1.4"/>
<circle cx="178.7" cy="186.6" r="2.20" fill="#fff" stroke="#8000ff" stroke-width="1.4"/>
<circle cx="179.8" cy="189.6" r="2.20" fill="#fff" stroke="#8000ff" stroke-width="1.4"/>
<circle cx="180.8" cy="192.6" r="2.20" fill="#fff" stroke="#8000ff" stroke-width="1.4"/>
<circle cx="181.9" cy="195.6" r="2.20" fill="#fff" stroke="#8000ff" stroke-width="1.4"/>
<circle cx="182.9" cy="198.7" r="2.20" fill="#fff" stroke="#8000ff" stroke-width="1.4"/>
<circle cx="183.9" cy="201.7" r="2.20" fill="#fff" stroke="#8000ff" stroke-width="1.4"/>
<circle cx="184.9" cy="204.8" r="2.20" fill="#fff" stroke="#8000ff" stroke-width="1.4"/>
<circle cx="185.8" cy="207.8" r="2.20" fill="#fff" stroke="#8000ff" stroke-width="1.4"/>
<circle cx="186.8" cy="210.9" r="2.20" fill="#fff" stroke="#8000ff" stroke-width="1.4"/>
<circle cx="187.8" cy="213.9" r="2.20" fill="#fff" stroke="#8000ff" stroke-width="1.4"/>
<circle cx="188.7" cy="217.0" r="2.20" fill="#fff" stroke="#8000ff" stroke-width="1.4"/>
<circle cx="189.6" cy="220.0" r="2.20" fill="#fff" stroke="#8000ff" stroke-width="1.4"/>
<circle cx="190.5" cy="223.1" r="2.20" fill="#fff" stroke="#8000ff" stroke-width="1.4"/>
<circle cx="191.4" cy="226.2" r="2.20" fill="#fff" stroke="#8000ff" stroke-width="1.4"/>
<circle cx="192.2" cy="229.3" r="2.20" fill="#fff" stroke="#8000ff" stroke-width="1.4"/>
<circle cx="193.1" cy="232.4" r="2.20" fill="#fff" stroke="#8000ff" stroke-width="1.4"/>
<circle cx="194.0" cy="235.4" r="2.20" fill="#fff" stroke="#8000ff" stroke-width="1.4"/>
<circle cx="194.9" cy="238.5" r="2.20" fill="#fff" stroke="#8000ff" stroke-width="1.4"/>
<circle cx="195.8" cy="241.6" r="2.20" fill="#fff" stroke="#8000ff" stroke-width="1.4"/>
<circle cx="196.8" cy="244.6" r="2.20" fill="#fff" stroke="#8000ff" stroke-width="1.4"/>
<circle cx="197.8" cy="247.6" r="2.20" fill="#fff" stroke="#8000ff" stroke-width="1.4"/>
<circle cx="198.8" cy="250.7" r="2.20" fill="#fff" stroke="#8000ff" stroke-width="1.4"/>
<circle cx="199.9" cy="253.7" r="2.20" fill="#fff" stroke="#8000ff" stroke-width="1.4"/>
<circle cx="201.0" cy="256.7" r="2.20" fill="#fff" stroke="#8000ff" stroke-width="1.4"/>
<circle cx="202.1" cy="259.7" r="2.20" fill="#fff" stroke="#8000ff" stroke-width="1.4"/>
<circle cx="203.2" cy="262.7" r="2.20" fill="#fff" stroke="#8000ff" stroke-width="1.4"/>
<circle cx="204.3" cy="265.7" r="2.20" fill="#fff" stroke="#8000ff" stroke-width="1.4"/>
<circle cx="205.4" cy="268.7" r="2.20" fill="#fff" stroke="#8000ff" stroke-width="1.4"/>
<circle cx="206.5" cy="271.7" r="2.20" fill="#fff" stroke="#8000ff" stroke-width="1.4"/>
<circle cx="207.6" cy="274.7" r="2.20" fill="#fff" stroke="#8000ff" stroke-width="1.4"/>
<circle cx="208.7" cy="277.7" r="2.20" fill="#fff" stroke="#8000ff" stroke-width="1.4"/>
<circle cx="209.8" cy="280.7" r="2.20" fill="#fff" stroke="#8000ff" stroke-width="1.4"/>
<circle cx="210.9" cy="283.7" r="2.20" fill="#fff" stroke="#8000ff" stroke-width="1.4"/>
<circle cx="212.0" cy="286.8" r="2.20" fill="#fff" stroke="#8000ff" stroke-width="1.4"/>
<circle cx="213.1" cy="289.8" r="2.20" fill="#fff" stroke="#8000ff" stroke-width="1.4"/>
<circle cx="214.2" cy="292.8" r="2.20" fill="#fff" stroke="#8000ff" stroke-width="1.4"/>
<circle cx="215.4" cy="295.7" r="2.20" fill="#fff" stroke="#8000ff" stroke-width="1.4"/>
<circle cx="216.6" cy="298.7" r="2.20" fill="#fff" stroke="#8000ff" stroke-width="1.4"/>
<circle cx="217.8" cy="301.6" r="2.20" fill="#fff" stroke="#8000ff" stroke-width="1.4"/>
<circle cx="219.1" cy="304.6" r="2.20" fill="#fff" stroke="#8000ff" stroke-width="1.4"/>
<circle cx="220.5" cy="307.4" r="2.20" fill="#fff" stroke="#8000ff" stroke-width="1.4"/>
<circle cx="222.0" cy="310.3" r="2.20" fill="#fff" stroke="#8000ff" stroke-width="1.4"/>
<circle cx="223.4" cy="313.1" r="2.20" fill="#fff" stroke="#8000ff" stroke-width="1.4"/>
<circle cx="224.9" cy="316.0" r="2.20" fill="#fff" stroke="#8000ff" stroke-width="1.4"/>
<circle cx="226.5" cy="318.8" r="2.20" fill="#fff" stroke="#8000ff" stroke-width="1.4"/>
<circle cx="228.0" cy="321.6" r="2.20" fill="#fff" stroke="#8000ff" stroke-width="1.4"/>
<circle cx="229.6" cy="324.4" r="2.20" fill="#fff" stroke="#8000ff" stroke-width="1.4"/>
<circle cx="231.2" cy="327.2" r="2.20" fill="#fff" stroke="#8000ff" stroke-width="1.4"/>
<circle cx="232.7" cy="329.9" r="2.20" fill="#fff" stroke="#8000ff" stroke-width="1.4"/>
<circle cx="234.3" cy="332.7" r="2.20" fill="#fff" stroke="#8000ff" stroke-width="1.4"/>
<path d="M243.7,341.3 L245.1,342.8 L246.9,344.9 L249.1,347.4 L251.5,350.1 L254.1,353.0 L256.7,355.7 L259.2,358.3 L261.6,360.4 L263.8,362.2 L265.9,363.7 L268.0,365.1 L270.1,366.4 L272.3,367.7 L274.6,368.9 L277.0,370.2 L279.6,371.6 L282.3,373.1 L285.2,374.5 L288.1,376.0 L291.2,377.6 L294.4,379.1 L297.7,380.6 L301.2,382.2 L304.9,383.8 L308.9,385.5 L313.4,387.3 L318.2,389.2 L323.0,391.0 L327.8,392.8 L332.3,394.5 L336.4,396.0 L340.0,397.3 L343.1,398.3 L345.8,399.2 L348.3,399.8 L350.4,400.4 L352.3,400.8 L354.0,401.2 L355.4,401.5 L356.5,401.8" fill="none" stroke="#8000ff" stroke-width="5.8" stroke-linecap="round" stroke-linejoin="round"/>
<path d="M365.5,404.0 L369.4,404.6 L374.8,405.5 L381.2,406.5 L388.3,407.7 L395.6,408.8 L402.8,409.9 L409.3,410.9 L415.0,411.7 L419.8,412.3 L424.0,412.8 L427.9,413.3 L431.6,413.6 L435.1,413.9 L438.7,414.2 L442.3,414.5 L446.2,414.8 L450.5,415.1 L455.2,415.4 L460.1,415.7 L464.9,415.9 L469.6,416.2 L473.7,416.4 L477.2,416.6 L479.8,416.7" fill="none" stroke="#8000ff" stroke-width="5.8" stroke-linecap="round" stroke-linejoin="round"/>
<circle cx="486.0" cy="417.2" r="2.30" fill="#fff" stroke="#8000ff" stroke-width="1.4"/>
<path d="M112.0,146.5 L115.6,146.5 L120.4,146.6 L126.1,146.6 L132.4,146.7 L139.2,146.8 L146.2,146.8 L153.2,146.9 L160.0,147.0 L166.9,147.1 L174.4,147.1 L182.2,147.2 L190.1,147.3 L197.7,147.4 L204.9,147.5 L211.4,147.7 L217.0,148.0 L221.5,148.4 L225.0,148.8 L227.8,149.4 L230.2,150.0 L232.4,150.5 L234.6,151.1 L237.0,151.6 L240.0,152.0 L243.4,152.3 L247.0,152.6 L250.7,152.8 L254.6,153.0 L258.4,153.2 L262.3,153.3 L266.2,153.5 L270.0,153.6 L273.9,153.7 L278.0,153.9 L282.1,154.0 L286.2,154.1 L290.2,154.2 L293.9,154.2 L297.2,154.2 L300.0,154.0 L302.2,153.7 L304.0,153.4 L305.4,153.0 L306.5,152.5 L307.4,151.9 L308.2,151.3 L309.1,150.7 L310.0,150.0 L311.0,149.2 L311.9,148.3 L312.8,147.3 L313.6,146.2 L314.4,145.2 L315.0,144.3 L315.6,143.6 L316.0,143.0 L316.0,143.0 L316.5,141.3 L317.1,139.1 L317.9,136.6 L318.8,133.7 L319.6,130.5 L320.5,127.1 L321.3,123.6 L322.0,120.0 L322.6,116.1 L323.2,111.7 L323.7,107.0 L324.2,102.1 L324.7,97.3 L325.2,92.8 L325.6,88.6 L326.0,85.0 L326.4,81.9 L326.8,79.1 L327.2,76.6 L327.5,74.3 L327.8,72.3 L328.1,70.6 L328.3,69.2 L328.5,68.0" fill="none" stroke="#000000" stroke-width="1.0" stroke-linejoin="round"/>
<path d="M112.0,146.5 L115.6,146.5 L120.4,146.6 L126.1,146.6 L132.4,146.7 L139.2,146.8 L146.2,146.8 L153.2,146.9 L160.0,147.0 L166.9,147.1 L174.4,147.1 L182.2,147.2 L190.1,147.3 L197.7,147.4 L204.9,147.5 L211.4,147.7 L217.0,148.0 L221.5,148.4 L225.0,148.8 L227.8,149.4 L230.2,150.0 L232.4,150.5 L234.6,151.1 L237.0,151.6 L240.0,152.0 L243.4,152.3 L247.0,152.6 L250.7,152.8 L254.6,153.0 L258.4,153.2 L262.3,153.3 L266.2,153.5 L270.0,153.6 L273.9,153.7 L278.0,153.9 L282.1,154.0 L286.2,154.1 L290.2,154.2 L293.9,154.2 L297.2,154.2 L300.0,154.0 L302.2,153.7 L304.0,153.4 L305.4,153.0 L306.5,152.5 L307.4,151.9 L308.2,151.3 L309.1,150.7 L310.0,150.0 L311.0,149.2 L311.9,148.3 L312.8,147.3 L313.6,146.2 L314.4,145.2 L315.0,144.3 L315.6,143.6 L316.0,143.0" fill="none" stroke="#000000" stroke-width="2.6" stroke-linecap="round" stroke-linejoin="round"/>
<path d="M316.0,143.0 L316.5,141.3 L317.1,139.1 L317.9,136.6 L318.8,133.7 L319.6,130.5 L320.5,127.1 L321.3,123.6 L322.0,120.0 L322.6,116.1 L323.2,111.7 L323.7,107.0 L324.2,102.1 L324.7,97.3 L325.2,92.8 L325.6,88.6 L326.0,85.0 L326.4,81.9 L326.8,79.1 L327.2,76.6 L327.5,74.3 L327.8,72.3 L328.1,70.6 L328.3,69.2 L328.5,68.0" fill="none" stroke="#000000" stroke-width="1.4" stroke-linecap="round" stroke-linejoin="round"/>
<path d="M112.7,142.9 L116.4,142.9 L121.4,142.9 L127.3,142.9 L133.8,143.0 L140.7,143.0 L147.6,143.0 L154.1,143.0 L160.0,143.0 L165.5,143.0 L171.2,143.1 L176.8,143.1 L182.2,143.1 L187.4,143.2 L192.1,143.1 L196.4,143.1 L200.0,143.0 L202.9,142.9 L205.1,142.7 L206.8,142.5 L208.1,142.3 L209.1,142.1 L210.0,141.8 L210.9,141.4 L212.0,141.0 L213.2,140.5 L214.3,139.8 L215.3,139.1 L216.2,138.4 L217.1,137.6 L217.9,137.0 L218.5,136.4 L219.0,136.0 L219.0,136.0 L219.5,135.3 L220.1,134.5 L220.9,133.5 L221.8,132.4 L222.6,131.0 L223.5,129.3 L224.3,127.4 L225.0,125.0 L225.6,122.2 L226.2,118.9 L226.7,115.2 L227.2,111.2 L227.6,107.2 L228.1,103.0 L228.5,98.9 L229.0,95.0 L229.5,91.0 L229.9,86.7 L230.3,82.2 L230.8,77.8 L231.2,73.6 L231.6,69.8 L232.1,66.5 L232.5,64.0 L232.9,62.2 L233.4,61.1 L233.8,60.6 L234.2,60.4 L234.7,60.5 L235.1,60.7 L235.5,60.9 L236.0,61.0 L236.5,61.0 L236.9,61.1 L237.4,61.3 L237.8,61.6 L238.3,62.0 L238.8,62.5 L239.4,63.2 L240.0,64.0 L240.7,65.1 L241.5,66.4 L242.4,68.0 L243.2,69.7 L244.1,71.3 L244.9,72.8 L245.5,74.1 L246.0,75.0" fill="none" stroke="#000000" stroke-width="1.0" stroke-linejoin="round"/>
<path d="M112.7,142.9 L116.4,142.9 L121.4,142.9 L127.3,142.9 L133.8,143.0 L140.7,143.0 L147.6,143.0 L154.1,143.0 L160.0,143.0 L165.5,143.0 L171.2,143.1 L176.8,143.1 L182.2,143.1 L187.4,143.2 L192.1,143.1 L196.4,143.1 L200.0,143.0 L202.9,142.9 L205.1,142.7 L206.8,142.5 L208.1,142.3 L209.1,142.1 L210.0,141.8 L210.9,141.4 L212.0,141.0 L213.2,140.5 L214.3,139.8 L215.3,139.1 L216.2,138.4 L217.1,137.6 L217.9,137.0 L218.5,136.4 L219.0,136.0" fill="none" stroke="#000000" stroke-width="2.6" stroke-linecap="round" stroke-linejoin="round"/>
<path d="M219.0,136.0 L219.5,135.3 L220.1,134.5 L220.9,133.5 L221.8,132.4 L222.6,131.0 L223.5,129.3 L224.3,127.4 L225.0,125.0 L225.6,122.2 L226.2,118.9 L226.7,115.2 L227.2,111.2 L227.6,107.2 L228.1,103.0 L228.5,98.9 L229.0,95.0 L229.5,91.0 L229.9,86.7 L230.3,82.2 L230.8,77.8 L231.2,73.6 L231.6,69.8 L232.1,66.5 L232.5,64.0 L232.9,62.2 L233.4,61.1 L233.8,60.6 L234.2,60.4 L234.7,60.5 L235.1,60.7 L235.5,60.9 L236.0,61.0 L236.5,61.0 L236.9,61.1 L237.4,61.3 L237.8,61.6 L238.3,62.0 L238.8,62.5 L239.4,63.2 L240.0,64.0 L240.7,65.1 L241.5,66.4 L242.4,68.0 L243.2,69.7 L244.1,71.3 L244.9,72.8 L245.5,74.1 L246.0,75.0" fill="none" stroke="#000000" stroke-width="1.3" stroke-linecap="round" stroke-linejoin="round"/>
<path d="M116.0,161.0 L119.4,161.0 L124.1,161.1 L129.6,161.2 L135.7,161.2 L142.1,161.3 L148.5,161.3 L154.5,161.4 L160.0,161.4 L165.1,161.4 L170.1,161.5 L175.1,161.5 L180.0,161.5 L184.7,161.5 L189.1,161.4 L193.2,161.3 L197.0,161.0 L200.3,160.6 L203.2,160.2 L205.7,159.7 L208.1,159.2 L210.2,158.5 L212.4,157.8 L214.6,156.9 L217.0,156.0 L219.5,155.0 L221.9,153.8 L224.4,152.6 L226.8,151.3 L229.3,149.9 L231.8,148.4 L234.4,146.8 L237.0,145.0 L239.8,143.1 L242.9,140.9 L246.2,138.6 L249.4,136.2 L252.5,133.8 L255.4,131.5 L257.9,129.2 L260.0,127.0 L261.6,124.9 L262.8,122.7 L263.8,120.5 L264.4,118.4 L264.9,116.4 L265.3,114.6 L265.7,113.1 L266.0,112.0 L266.0,112.0 L266.3,110.4 L266.7,108.4 L267.2,105.9 L267.8,103.2 L268.4,100.2 L268.9,96.9 L269.5,93.5 L270.0,90.0 L270.5,86.1 L270.9,81.6 L271.4,76.7 L271.9,71.7 L272.3,66.8 L272.7,62.2 L273.1,58.2 L273.5,55.0 L273.8,52.6 L274.2,50.7 L274.5,49.3 L274.8,48.3 L275.0,47.6 L275.3,47.0 L275.4,46.5 L275.6,46.0 L275.6,46.0 L276.1,47.6 L276.8,49.5 L277.6,51.7 L278.5,54.2 L279.5,57.3 L280.6,60.9 L281.8,65.1 L283.0,70.0 L284.4,75.7 L285.9,82.4 L287.6,89.6 L289.3,97.4 L291.1,105.6 L292.8,113.8 L294.5,122.0 L296.0,130.0 L297.4,138.0 L298.7,146.1 L300.0,154.4 L301.2,162.8 L302.4,171.1 L303.6,179.3 L304.8,187.3 L306.0,195.0 L307.2,202.4 L308.4,209.7 L309.5,216.8 L310.7,223.8 L311.9,230.5 L313.1,237.2 L314.5,243.7 L316.0,250.0 L317.6,256.1 L319.2,262.0 L320.9,267.7 L322.7,273.3 L324.6,278.8 L326.6,284.2 L328.7,289.6 L331.0,295.0 L333.6,300.7 L336.7,306.7 L340.0,312.9 L343.4,318.9 L346.7,324.6 L349.7,329.7 L352.2,334.0 L354.0,337.2" fill="none" stroke="#000000" stroke-width="1.0" stroke-linejoin="round"/>
<path d="M116.0,161.0 L119.4,161.0 L124.1,161.1 L129.6,161.2 L135.7,161.2 L142.1,161.3 L148.5,161.3 L154.5,161.4 L160.0,161.4 L165.1,161.4 L170.1,161.5 L175.1,161.5 L180.0,161.5 L184.7,161.5 L189.1,161.4 L193.2,161.3 L197.0,161.0 L200.3,160.6 L203.2,160.2 L205.7,159.7 L208.1,159.2 L210.2,158.5 L212.4,157.8 L214.6,156.9 L217.0,156.0 L219.5,155.0 L221.9,153.8 L224.4,152.6 L226.8,151.3 L229.3,149.9 L231.8,148.4 L234.4,146.8 L237.0,145.0 L239.8,143.1 L242.9,140.9 L246.2,138.6 L249.4,136.2 L252.5,133.8 L255.4,131.5 L257.9,129.2 L260.0,127.0 L261.6,124.9 L262.8,122.7 L263.8,120.5 L264.4,118.4 L264.9,116.4 L265.3,114.6 L265.7,113.1 L266.0,112.0" fill="none" stroke="#000000" stroke-width="2.8" stroke-linecap="round" stroke-linejoin="round"/>
<path d="M266.0,112.0 L266.3,110.4 L266.7,108.4 L267.2,105.9 L267.8,103.2 L268.4,100.2 L268.9,96.9 L269.5,93.5 L270.0,90.0 L270.5,86.1 L270.9,81.6 L271.4,76.7 L271.9,71.7 L272.3,66.8 L272.7,62.2 L273.1,58.2 L273.5,55.0 L273.8,52.6 L274.2,50.7 L274.5,49.3 L274.8,48.3 L275.0,47.6 L275.3,47.0 L275.4,46.5 L275.6,46.0" fill="none" stroke="#000000" stroke-width="1.3" stroke-linecap="round" stroke-linejoin="round"/>
<path d="M275.6,46.0 L276.1,47.6 L276.8,49.5 L277.6,51.7 L278.5,54.2 L279.5,57.3 L280.6,60.9 L281.8,65.1 L283.0,70.0 L284.4,75.7 L285.9,82.4 L287.6,89.6 L289.3,97.4 L291.1,105.6 L292.8,113.8 L294.5,122.0 L296.0,130.0 L297.4,138.0 L298.7,146.1 L300.0,154.4 L301.2,162.8 L302.4,171.1 L303.6,179.3 L304.8,187.3 L306.0,195.0 L307.2,202.4 L308.4,209.7 L309.5,216.8 L310.7,223.8 L311.9,230.5 L313.1,237.2 L314.5,243.7 L316.0,250.0 L317.6,256.1 L319.2,262.0 L320.9,267.7 L322.7,273.3 L324.6,278.8 L326.6,284.2 L328.7,289.6 L331.0,295.0 L333.6,300.7 L336.7,306.7 L340.0,312.9 L343.4,318.9 L346.7,324.6 L349.7,329.7 L352.2,334.0 L354.0,337.2" fill="none" stroke="#000000" stroke-width="1.8" stroke-linecap="round" stroke-linejoin="round"/>
<path d="M117.6,164.0 L118.1,162.9 L118.7,161.5 L119.5,159.7 L120.3,157.8 L121.2,155.8 L122.1,153.8 L123.1,151.8 L124.0,150.0 L124.9,148.3 L125.8,146.6 L126.7,144.9 L127.7,143.2 L128.7,141.5 L129.8,139.9 L130.9,138.5 L132.2,137.1 L133.7,135.8 L135.4,134.6 L137.2,133.5 L139.1,132.4 L140.9,131.4 L142.5,130.6 L143.9,129.9 L144.9,129.3" fill="none" stroke="#000000" stroke-width="1.0" stroke-linejoin="round"/>
<path d="M117.6,164.0 L118.1,162.9 L118.7,161.5 L119.5,159.7 L120.3,157.8 L121.2,155.8 L122.1,153.8 L123.1,151.8 L124.0,150.0 L124.9,148.3 L125.8,146.6 L126.7,144.9 L127.7,143.2 L128.7,141.5 L129.8,139.9 L130.9,138.5 L132.2,137.1 L133.7,135.8 L135.4,134.6 L137.2,133.5 L139.1,132.4 L140.9,131.4 L142.5,130.6 L143.9,129.9 L144.9,129.3" fill="none" stroke="#000000" stroke-width="3.0" stroke-linecap="round" stroke-linejoin="round"/>
</g>
<g clip-path="url(#clipB)">
<rect x="835.1" y="156.7" width="4.6" height="4.6" fill="#fff" stroke="#000000" stroke-width="1.4"/>
<rect x="835.9" y="143.5" width="4.6" height="4.6" fill="#fff" stroke="#000000" stroke-width="1.4"/>
<rect x="837.1" y="77.1" width="4.6" height="4.6" fill="#fff" stroke="#000000" stroke-width="1.4"/>
<rect x="838.2" y="56.8" width="4.6" height="4.6" fill="#fff" stroke="#000000" stroke-width="1.4"/>
<rect x="840.2" y="63.1" width="4.6" height="4.6" fill="#fff" stroke="#000000" stroke-width="1.4"/>
<rect x="840.2" y="96.7" width="4.6" height="4.6" fill="#fff" stroke="#000000" stroke-width="1.4"/>
<rect x="834.0" y="170.7" width="4.6" height="4.6" fill="#fff" stroke="#000000" stroke-width="1.4"/>
<rect x="844.7" y="275.7" width="4.6" height="4.6" fill="#fff" stroke="#000000" stroke-width="1.4"/>
<rect x="849.7" y="297.7" width="4.6" height="4.6" fill="#fff" stroke="#000000" stroke-width="1.4"/>
<rect x="852.7" y="321.7" width="4.6" height="4.6" fill="#fff" stroke="#000000" stroke-width="1.4"/>
<rect x="855.7" y="330.7" width="4.6" height="4.6" fill="#fff" stroke="#000000" stroke-width="1.4"/>
<rect x="859.7" y="323.7" width="4.6" height="4.6" fill="#fff" stroke="#000000" stroke-width="1.4"/>
<rect x="865.7" y="307.7" width="4.6" height="4.6" fill="#fff" stroke="#000000" stroke-width="1.4"/>
<rect x="872.7" y="289.7" width="4.6" height="4.6" fill="#fff" stroke="#000000" stroke-width="1.4"/>
<rect x="879.7" y="272.7" width="4.6" height="4.6" fill="#fff" stroke="#000000" stroke-width="1.4"/>
<rect x="627.9" y="213.4" width="4.6" height="4.6" fill="#fff" stroke="#0000ff" stroke-width="1.4"/>
<rect x="628.2" y="220.4" width="4.6" height="4.6" fill="#fff" stroke="#0000ff" stroke-width="1.4"/>
<rect x="779.4" y="146.6" width="4.6" height="4.6" fill="#fff" stroke="#0000ff" stroke-width="1.4"/>
<rect x="780.1" y="118.5" width="4.6" height="4.6" fill="#fff" stroke="#0000ff" stroke-width="1.4"/>
<rect x="780.1" y="67.8" width="4.6" height="4.6" fill="#fff" stroke="#0000ff" stroke-width="1.4"/>
<rect x="781.7" y="38.1" width="4.6" height="4.6" fill="#fff" stroke="#0000ff" stroke-width="1.4"/>
<rect x="781.7" y="28.0" width="4.6" height="4.6" fill="#fff" stroke="#0000ff" stroke-width="1.4"/>
<rect x="784.0" y="72.5" width="4.6" height="4.6" fill="#fff" stroke="#0000ff" stroke-width="1.4"/>
<rect x="784.0" y="116.2" width="4.6" height="4.6" fill="#fff" stroke="#0000ff" stroke-width="1.4"/>
<rect x="784.8" y="146.6" width="4.6" height="4.6" fill="#fff" stroke="#0000ff" stroke-width="1.4"/>
<rect x="778.6" y="169.2" width="4.6" height="4.6" fill="#fff" stroke="#0000ff" stroke-width="1.4"/>
<path d="M810.4,302.6 L811.4,382.6 L810.7,419.8 L810.7,419.8 L813.0,340.0 L816.0,310.0" fill="none" stroke="#0000ff" stroke-width="1.3" stroke-linejoin="round"/>
<rect x="808.1" y="300.3" width="4.6" height="4.6" fill="#fff" stroke="#0000ff" stroke-width="1.4"/>
<rect x="809.1" y="380.3" width="4.6" height="4.6" fill="#fff" stroke="#0000ff" stroke-width="1.4"/>
<rect x="808.4" y="417.5" width="4.6" height="4.6" fill="#fff" stroke="#0000ff" stroke-width="1.4"/>
<rect x="760.2" y="156.0" width="4.6" height="4.6" fill="#fff" stroke="#008000" stroke-width="1.4"/>
<rect x="760.6" y="127.1" width="4.6" height="4.6" fill="#fff" stroke="#008000" stroke-width="1.4"/>
<rect x="762.2" y="92.7" width="4.6" height="4.6" fill="#fff" stroke="#008000" stroke-width="1.4"/>
<rect x="763.0" y="52.9" width="4.6" height="4.6" fill="#fff" stroke="#008000" stroke-width="1.4"/>
<rect x="764.5" y="70.9" width="4.6" height="4.6" fill="#fff" stroke="#008000" stroke-width="1.4"/>
<rect x="765.3" y="104.5" width="4.6" height="4.6" fill="#fff" stroke="#008000" stroke-width="1.4"/>
<rect x="766.9" y="129.4" width="4.6" height="4.6" fill="#fff" stroke="#008000" stroke-width="1.4"/>
<rect x="767.3" y="144.3" width="4.6" height="4.6" fill="#fff" stroke="#008000" stroke-width="1.4"/>
<rect x="767.7" y="166.1" width="4.6" height="4.6" fill="#fff" stroke="#008000" stroke-width="1.4"/>
<path d="M794.6,302.6 L794.2,410.0 L794.6,420.2 L805.0,325.4 L794.2,410.0 L794.6,420.2 L805.0,325.4 L808.0,290.0" fill="none" stroke="#008000" stroke-width="1.3" stroke-linejoin="round"/>
<rect x="791.9" y="407.7" width="4.6" height="4.6" fill="#fff" stroke="#008000" stroke-width="1.4"/>
<rect x="792.3" y="417.9" width="4.6" height="4.6" fill="#fff" stroke="#008000" stroke-width="1.4"/>
<rect x="802.7" y="323.1" width="4.6" height="4.6" fill="#fff" stroke="#008000" stroke-width="1.4"/>
<rect x="805.7" y="287.7" width="4.6" height="4.6" fill="#fff" stroke="#008000" stroke-width="1.4"/>
<rect x="740.8" y="141.9" width="4.6" height="4.6" fill="#fff" stroke="#8000ff" stroke-width="1.4"/>
<rect x="741.9" y="108.4" width="4.6" height="4.6" fill="#fff" stroke="#8000ff" stroke-width="1.4"/>
<rect x="741.1" y="69.3" width="4.6" height="4.6" fill="#fff" stroke="#8000ff" stroke-width="1.4"/>
<rect x="743.5" y="56.8" width="4.6" height="4.6" fill="#fff" stroke="#8000ff" stroke-width="1.4"/>
<rect x="744.2" y="74.0" width="4.6" height="4.6" fill="#fff" stroke="#8000ff" stroke-width="1.4"/>
<rect x="745.8" y="134.1" width="4.6" height="4.6" fill="#fff" stroke="#8000ff" stroke-width="1.4"/>
<rect x="746.6" y="153.6" width="4.6" height="4.6" fill="#fff" stroke="#8000ff" stroke-width="1.4"/>
<rect x="631.7" y="227.2" width="4.6" height="4.6" fill="#fff" stroke="#800000" stroke-width="1.4"/>
<path d="M636.4,209.0 L636.4,208.5 L636.4,207.9 L636.4,207.2 L636.4,206.4 L636.4,205.5 L636.4,204.6 L636.5,203.8 L636.6,203.0 L636.8,202.2 L637.0,201.4 L637.2,200.5 L637.5,199.7 L637.8,198.9 L638.1,198.2 L638.4,197.5 L638.7,197.0 L639.0,196.6 L639.3,196.3 L639.5,196.1 L639.8,195.9 L640.1,195.9 L640.4,195.8 L640.7,195.8 L641.0,195.8 L641.3,195.8 L641.6,195.8 L641.8,195.9 L642.1,196.0 L642.4,196.2 L642.7,196.4 L643.0,196.7 L643.4,197.0 L643.8,197.4 L644.2,197.9 L644.7,198.5 L645.2,199.2 L645.6,199.9 L646.1,200.6 L646.6,201.3 L647.0,202.0 L647.4,202.7 L647.8,203.5 L648.1,204.4 L648.5,205.2 L648.8,206.1 L649.2,206.9 L649.5,207.7 L649.9,208.4 L650.2,209.1 L650.6,209.7 L650.9,210.4 L651.2,211.0 L651.5,211.6 L651.9,212.1 L652.3,212.6 L652.8,213.1 L653.4,213.5 L654.0,213.9 L654.7,214.2 L655.4,214.4 L656.1,214.7 L656.8,214.9 L657.4,215.2 L658.0,215.5 L658.5,215.8 L659.0,216.2 L659.4,216.5 L659.8,216.9 L660.2,217.2 L660.5,217.5 L660.8,217.8 L661.0,218.0" fill="none" stroke="#800000" stroke-width="1.0" stroke-linejoin="round"/>
<rect x="634.0" y="206.6" width="4.8" height="4.8" fill="#fff" stroke="#800000" stroke-width="1.8"/>
<rect x="634.0" y="204.6" width="4.8" height="4.8" fill="#fff" stroke="#800000" stroke-width="1.8"/>
<rect x="634.0" y="202.6" width="4.8" height="4.8" fill="#fff" stroke="#800000" stroke-width="1.8"/>
<rect x="634.2" y="200.6" width="4.8" height="4.8" fill="#fff" stroke="#800000" stroke-width="1.8"/>
<rect x="634.7" y="198.7" width="4.8" height="4.8" fill="#fff" stroke="#800000" stroke-width="1.8"/>
<rect x="635.3" y="196.8" width="4.8" height="4.8" fill="#fff" stroke="#800000" stroke-width="1.8"/>
<rect x="636.1" y="194.9" width="4.8" height="4.8" fill="#fff" stroke="#800000" stroke-width="1.8"/>
<rect x="637.5" y="193.5" width="4.8" height="4.8" fill="#fff" stroke="#800000" stroke-width="1.8"/>
<rect x="639.4" y="193.5" width="4.8" height="4.8" fill="#fff" stroke="#800000" stroke-width="1.8"/>
<rect x="641.1" y="194.7" width="4.8" height="4.8" fill="#fff" stroke="#800000" stroke-width="1.8"/>
<rect x="642.3" y="196.2" width="4.8" height="4.8" fill="#fff" stroke="#800000" stroke-width="1.8"/>
<rect x="643.5" y="197.8" width="4.8" height="4.8" fill="#fff" stroke="#800000" stroke-width="1.8"/>
<rect x="644.6" y="199.5" width="4.8" height="4.8" fill="#fff" stroke="#800000" stroke-width="1.8"/>
<rect x="645.4" y="201.3" width="4.8" height="4.8" fill="#fff" stroke="#800000" stroke-width="1.8"/>
<rect x="646.2" y="203.1" width="4.8" height="4.8" fill="#fff" stroke="#800000" stroke-width="1.8"/>
<rect x="647.0" y="205.0" width="4.8" height="4.8" fill="#fff" stroke="#800000" stroke-width="1.8"/>
<rect x="647.9" y="206.8" width="4.8" height="4.8" fill="#fff" stroke="#800000" stroke-width="1.8"/>
<rect x="648.8" y="208.6" width="4.8" height="4.8" fill="#fff" stroke="#800000" stroke-width="1.8"/>
<rect x="649.9" y="210.2" width="4.8" height="4.8" fill="#fff" stroke="#800000" stroke-width="1.8"/>
<rect x="651.5" y="211.4" width="4.8" height="4.8" fill="#fff" stroke="#800000" stroke-width="1.8"/>
<rect x="653.4" y="212.2" width="4.8" height="4.8" fill="#fff" stroke="#800000" stroke-width="1.8"/>
<rect x="655.2" y="212.9" width="4.8" height="4.8" fill="#fff" stroke="#800000" stroke-width="1.8"/>
<rect x="656.9" y="214.0" width="4.8" height="4.8" fill="#fff" stroke="#800000" stroke-width="1.8"/>
<rect x="658.3" y="215.4" width="4.8" height="4.8" fill="#fff" stroke="#800000" stroke-width="1.8"/>
<rect x="627.7" y="214.3" width="4.6" height="4.6" fill="#fff" stroke="#000080" stroke-width="1.4"/>
<rect x="627.7" y="219.0" width="4.6" height="4.6" fill="#fff" stroke="#000080" stroke-width="1.4"/>
<rect x="628.2" y="223.7" width="4.6" height="4.6" fill="#fff" stroke="#000080" stroke-width="1.4"/>
<path d="M633.0,227.0 L638.2,227.0 L645.2,226.9 L653.5,226.8 L662.8,226.8 L672.4,226.7 L682.2,226.6 L691.5,226.6 L700.0,226.5 L708.1,226.5 L716.2,226.4 L724.4,226.4 L732.4,226.4 L740.1,226.3 L747.4,226.3 L754.1,226.3 L760.0,226.2 L765.2,226.1 L769.7,226.1 L773.7,226.0 L777.2,225.9 L780.3,225.8 L783.1,225.7 L785.8,225.6 L788.3,225.5 L790.6,225.3 L792.7,225.1 L794.4,224.9 L795.9,224.7 L797.2,224.5 L798.3,224.3 L799.2,224.1 L800.0,224.0 L800.0,224.0 L801.2,223.5 L802.8,222.9 L804.8,222.3 L806.9,221.5 L809.2,220.6 L811.5,219.6 L813.6,218.5 L815.6,217.4 L817.5,216.2 L819.4,214.9 L821.2,213.4 L823.1,212.0 L824.9,210.4 L826.5,208.7 L828.0,206.9 L829.3,205.1 L830.4,203.1 L831.3,200.9 L832.1,198.6 L832.7,196.3 L833.3,193.9 L833.8,191.6 L834.2,189.4 L834.7,187.3 L835.1,185.4 L835.5,183.5 L835.8,181.8 L836.0,180.1 L836.3,178.4 L836.5,176.8 L836.6,175.2 L836.8,173.7 L837.0,172.1 L837.1,170.5 L837.2,168.9 L837.3,167.3 L837.4,165.9 L837.4,164.6 L837.5,163.5 L837.5,162.7 L837.9,151.2 L839.0,121.6 L839.4,95.0 L840.2,69.3 L841.0,62.3 L842.1,103.6 L843.3,156.0 L843.6,199.6 L844.3,226.9 L844.5,240.0 L844.6,267.0 L844.6,267.0 L844.7,267.6 L844.9,268.3 L845.1,269.1 L845.3,270.1 L845.6,271.3 L845.9,272.7 L846.3,274.3 L846.7,276.3 L847.3,278.6 L847.9,281.3 L848.7,284.3 L849.5,287.5 L850.3,290.8 L851.1,294.2 L851.7,297.6 L852.3,301.0 L852.7,304.5 L853.1,308.4 L853.4,312.4 L853.6,316.5 L853.8,320.3 L854.0,323.8 L854.2,326.8 L854.5,329.0 L854.8,330.4 L855.1,331.2 L855.4,331.4 L855.7,331.3 L856.0,331.0 L856.3,330.5 L856.7,330.2 L857.0,330.0 L857.3,330.1 L857.7,330.3 L858.0,330.5 L858.3,330.6 L858.7,330.6 L859.1,330.4 L859.6,329.9 L860.2,329.0 L860.9,327.7 L861.6,326.0 L862.5,324.1 L863.3,321.9 L864.2,319.6 L865.1,317.2 L866.0,314.7 L866.9,312.2 L867.7,309.6 L868.5,306.9 L869.3,304.1 L870.1,301.2 L871.0,298.2 L871.8,295.3 L872.7,292.5 L873.6,289.8 L874.6,287.1 L875.8,284.3 L877.0,281.5 L878.2,278.8 L879.4,276.2 L880.5,273.9 L881.3,272.0 L882.0,270.5 L882.0,270.5 L883.1,269.0 L884.5,267.0 L886.1,264.5 L887.9,261.8 L889.9,259.0 L892.1,256.3 L894.3,253.7 L896.6,251.5 L898.9,249.5 L901.4,247.6 L904.0,245.8 L906.6,244.1 L909.4,242.5 L912.3,241.0 L915.4,239.6 L918.5,238.3 L921.8,237.2 L925.4,236.2 L929.0,235.3 L932.8,234.6 L936.6,233.9 L940.4,233.4 L944.2,232.9 L947.8,232.4 L951.3,232.0 L954.8,231.7 L958.2,231.6 L961.6,231.4 L965.0,231.4 L968.4,231.3 L971.7,231.3 L975.0,231.2 L978.4,231.1 L982.1,231.1 L985.8,231.0 L989.5,231.0 L992.9,231.0 L996.0,231.0 L998.5,231.0 L1000.5,231.0" fill="none" stroke="#ff0000" stroke-width="1.3" stroke-linejoin="round"/>
<path d="M633.0,227.0 L638.2,227.0 L645.2,226.9 L653.5,226.8 L662.8,226.8 L672.4,226.7 L682.2,226.6 L691.5,226.6 L700.0,226.5 L708.1,226.5 L716.2,226.4 L724.4,226.4 L732.4,226.4 L740.1,226.3 L747.4,226.3 L754.1,226.3 L760.0,226.2 L765.2,226.1 L769.7,226.1 L773.7,226.0 L777.2,225.9 L780.3,225.8 L783.1,225.7 L785.8,225.6 L788.3,225.5 L790.6,225.3 L792.7,225.1 L794.4,224.9 L795.9,224.7 L797.2,224.5 L798.3,224.3 L799.2,224.1 L800.0,224.0" fill="none" stroke="#ff0000" stroke-width="5.5" stroke-linecap="round" stroke-linejoin="round"/>
<rect x="797.7" y="221.7" width="4.6" height="4.6" fill="#fff" stroke="#ff0000" stroke-width="1.4"/>
<rect x="800.1" y="220.8" width="4.6" height="4.6" fill="#fff" stroke="#ff0000" stroke-width="1.4"/>
<rect x="802.6" y="219.9" width="4.6" height="4.6" fill="#fff" stroke="#ff0000" stroke-width="1.4"/>
<rect x="805.0" y="219.0" width="4.6" height="4.6" fill="#fff" stroke="#ff0000" stroke-width="1.4"/>
<rect x="807.4" y="218.1" width="4.6" height="4.6" fill="#fff" stroke="#ff0000" stroke-width="1.4"/>
<rect x="809.8" y="217.0" width="4.6" height="4.6" fill="#fff" stroke="#ff0000" stroke-width="1.4"/>
<rect x="812.1" y="215.8" width="4.6" height="4.6" fill="#fff" stroke="#ff0000" stroke-width="1.4"/>
<rect x="814.3" y="214.4" width="4.6" height="4.6" fill="#fff" stroke="#ff0000" stroke-width="1.4"/>
<rect x="816.5" y="213.0" width="4.6" height="4.6" fill="#fff" stroke="#ff0000" stroke-width="1.4"/>
<rect x="818.6" y="211.4" width="4.6" height="4.6" fill="#fff" stroke="#ff0000" stroke-width="1.4"/>
<rect x="820.6" y="209.8" width="4.6" height="4.6" fill="#fff" stroke="#ff0000" stroke-width="1.4"/>
<rect x="822.5" y="208.1" width="4.6" height="4.6" fill="#fff" stroke="#ff0000" stroke-width="1.4"/>
<rect x="824.4" y="206.2" width="4.6" height="4.6" fill="#fff" stroke="#ff0000" stroke-width="1.4"/>
<rect x="826.0" y="204.2" width="4.6" height="4.6" fill="#fff" stroke="#ff0000" stroke-width="1.4"/>
<rect x="827.4" y="202.0" width="4.6" height="4.6" fill="#fff" stroke="#ff0000" stroke-width="1.4"/>
<rect x="828.6" y="199.7" width="4.6" height="4.6" fill="#fff" stroke="#ff0000" stroke-width="1.4"/>
<rect x="829.5" y="197.3" width="4.6" height="4.6" fill="#fff" stroke="#ff0000" stroke-width="1.4"/>
<rect x="830.2" y="194.8" width="4.6" height="4.6" fill="#fff" stroke="#ff0000" stroke-width="1.4"/>
<rect x="830.8" y="192.2" width="4.6" height="4.6" fill="#fff" stroke="#ff0000" stroke-width="1.4"/>
<rect x="831.4" y="189.7" width="4.6" height="4.6" fill="#fff" stroke="#ff0000" stroke-width="1.4"/>
<rect x="831.9" y="187.2" width="4.6" height="4.6" fill="#fff" stroke="#ff0000" stroke-width="1.4"/>
<rect x="832.5" y="184.6" width="4.6" height="4.6" fill="#fff" stroke="#ff0000" stroke-width="1.4"/>
<rect x="833.0" y="182.1" width="4.6" height="4.6" fill="#fff" stroke="#ff0000" stroke-width="1.4"/>
<rect x="833.5" y="179.5" width="4.6" height="4.6" fill="#fff" stroke="#ff0000" stroke-width="1.4"/>
<rect x="833.9" y="176.9" width="4.6" height="4.6" fill="#fff" stroke="#ff0000" stroke-width="1.4"/>
<rect x="834.2" y="174.4" width="4.6" height="4.6" fill="#fff" stroke="#ff0000" stroke-width="1.4"/>
<rect x="834.5" y="171.8" width="4.6" height="4.6" fill="#fff" stroke="#ff0000" stroke-width="1.4"/>
<rect x="834.7" y="169.2" width="4.6" height="4.6" fill="#fff" stroke="#ff0000" stroke-width="1.4"/>
<rect x="834.9" y="166.6" width="4.6" height="4.6" fill="#fff" stroke="#ff0000" stroke-width="1.4"/>
<rect x="835.0" y="164.0" width="4.6" height="4.6" fill="#fff" stroke="#ff0000" stroke-width="1.4"/>
<rect x="835.1" y="161.4" width="4.6" height="4.6" fill="#fff" stroke="#ff0000" stroke-width="1.4"/>
<rect x="835.6" y="148.9" width="4.6" height="4.6" fill="#fff" stroke="#ff0000" stroke-width="1.4"/>
<rect x="836.7" y="119.3" width="4.6" height="4.6" fill="#fff" stroke="#ff0000" stroke-width="1.4"/>
<rect x="837.1" y="92.7" width="4.6" height="4.6" fill="#fff" stroke="#ff0000" stroke-width="1.4"/>
<rect x="837.9" y="67.0" width="4.6" height="4.6" fill="#fff" stroke="#ff0000" stroke-width="1.4"/>
<rect x="838.7" y="60.0" width="4.6" height="4.6" fill="#fff" stroke="#ff0000" stroke-width="1.4"/>
<rect x="839.8" y="101.3" width="4.6" height="4.6" fill="#fff" stroke="#ff0000" stroke-width="1.4"/>
<rect x="841.0" y="153.7" width="4.6" height="4.6" fill="#fff" stroke="#ff0000" stroke-width="1.4"/>
<rect x="841.3" y="197.3" width="4.6" height="4.6" fill="#fff" stroke="#ff0000" stroke-width="1.4"/>
<rect x="842.0" y="224.6" width="4.6" height="4.6" fill="#fff" stroke="#ff0000" stroke-width="1.4"/>
<rect x="842.3" y="264.7" width="4.6" height="4.6" fill="#fff" stroke="#ff0000" stroke-width="1.4"/>
<rect x="843.0" y="267.8" width="4.6" height="4.6" fill="#fff" stroke="#ff0000" stroke-width="1.4"/>
<rect x="843.7" y="270.9" width="4.6" height="4.6" fill="#fff" stroke="#ff0000" stroke-width="1.4"/>
<rect x="844.4" y="274.1" width="4.6" height="4.6" fill="#fff" stroke="#ff0000" stroke-width="1.4"/>
<rect x="845.2" y="277.2" width="4.6" height="4.6" fill="#fff" stroke="#ff0000" stroke-width="1.4"/>
<rect x="846.0" y="280.3" width="4.6" height="4.6" fill="#fff" stroke="#ff0000" stroke-width="1.4"/>
<rect x="846.7" y="283.4" width="4.6" height="4.6" fill="#fff" stroke="#ff0000" stroke-width="1.4"/>
<rect x="847.5" y="286.5" width="4.6" height="4.6" fill="#fff" stroke="#ff0000" stroke-width="1.4"/>
<rect x="848.2" y="289.6" width="4.6" height="4.6" fill="#fff" stroke="#ff0000" stroke-width="1.4"/>
<rect x="848.9" y="292.7" width="4.6" height="4.6" fill="#fff" stroke="#ff0000" stroke-width="1.4"/>
<rect x="849.5" y="295.9" width="4.6" height="4.6" fill="#fff" stroke="#ff0000" stroke-width="1.4"/>
<rect x="850.0" y="299.0" width="4.6" height="4.6" fill="#fff" stroke="#ff0000" stroke-width="1.4"/>
<rect x="850.4" y="302.2" width="4.6" height="4.6" fill="#fff" stroke="#ff0000" stroke-width="1.4"/>
<rect x="850.7" y="305.4" width="4.6" height="4.6" fill="#fff" stroke="#ff0000" stroke-width="1.4"/>
<rect x="851.0" y="308.6" width="4.6" height="4.6" fill="#fff" stroke="#ff0000" stroke-width="1.4"/>
<rect x="851.2" y="311.8" width="4.6" height="4.6" fill="#fff" stroke="#ff0000" stroke-width="1.4"/>
<rect x="851.3" y="315.0" width="4.6" height="4.6" fill="#fff" stroke="#ff0000" stroke-width="1.4"/>
<rect x="851.5" y="318.2" width="4.6" height="4.6" fill="#fff" stroke="#ff0000" stroke-width="1.4"/>
<rect x="851.7" y="321.4" width="4.6" height="4.6" fill="#fff" stroke="#ff0000" stroke-width="1.4"/>
<rect x="851.9" y="324.5" width="4.6" height="4.6" fill="#fff" stroke="#ff0000" stroke-width="1.4"/>
<rect x="852.4" y="327.7" width="4.6" height="4.6" fill="#fff" stroke="#ff0000" stroke-width="1.4"/>
<rect x="854.2" y="328.1" width="4.6" height="4.6" fill="#fff" stroke="#ff0000" stroke-width="1.4"/>
<rect x="857.0" y="327.9" width="4.6" height="4.6" fill="#fff" stroke="#ff0000" stroke-width="1.4"/>
<rect x="858.6" y="325.2" width="4.6" height="4.6" fill="#fff" stroke="#ff0000" stroke-width="1.4"/>
<rect x="859.9" y="322.3" width="4.6" height="4.6" fill="#fff" stroke="#ff0000" stroke-width="1.4"/>
<rect x="861.1" y="319.3" width="4.6" height="4.6" fill="#fff" stroke="#ff0000" stroke-width="1.4"/>
<rect x="862.3" y="316.4" width="4.6" height="4.6" fill="#fff" stroke="#ff0000" stroke-width="1.4"/>
<rect x="863.4" y="313.3" width="4.6" height="4.6" fill="#fff" stroke="#ff0000" stroke-width="1.4"/>
<rect x="864.5" y="310.3" width="4.6" height="4.6" fill="#fff" stroke="#ff0000" stroke-width="1.4"/>
<rect x="865.4" y="307.3" width="4.6" height="4.6" fill="#fff" stroke="#ff0000" stroke-width="1.4"/>
<rect x="866.3" y="304.2" width="4.6" height="4.6" fill="#fff" stroke="#ff0000" stroke-width="1.4"/>
<rect x="867.2" y="301.1" width="4.6" height="4.6" fill="#fff" stroke="#ff0000" stroke-width="1.4"/>
<rect x="868.1" y="298.1" width="4.6" height="4.6" fill="#fff" stroke="#ff0000" stroke-width="1.4"/>
<rect x="868.9" y="295.0" width="4.6" height="4.6" fill="#fff" stroke="#ff0000" stroke-width="1.4"/>
<rect x="869.8" y="291.9" width="4.6" height="4.6" fill="#fff" stroke="#ff0000" stroke-width="1.4"/>
<rect x="870.8" y="288.9" width="4.6" height="4.6" fill="#fff" stroke="#ff0000" stroke-width="1.4"/>
<rect x="871.9" y="285.9" width="4.6" height="4.6" fill="#fff" stroke="#ff0000" stroke-width="1.4"/>
<rect x="873.1" y="282.9" width="4.6" height="4.6" fill="#fff" stroke="#ff0000" stroke-width="1.4"/>
<rect x="874.4" y="279.9" width="4.6" height="4.6" fill="#fff" stroke="#ff0000" stroke-width="1.4"/>
<rect x="875.7" y="277.0" width="4.6" height="4.6" fill="#fff" stroke="#ff0000" stroke-width="1.4"/>
<rect x="877.0" y="274.1" width="4.6" height="4.6" fill="#fff" stroke="#ff0000" stroke-width="1.4"/>
<rect x="878.3" y="271.2" width="4.6" height="4.6" fill="#fff" stroke="#ff0000" stroke-width="1.4"/>
<rect x="879.7" y="268.3" width="4.6" height="4.6" fill="#fff" stroke="#ff0000" stroke-width="1.4"/>
<path d="M882.0,270.5 L883.1,269.0 L884.5,267.0 L886.1,264.5 L887.9,261.8 L889.9,259.0 L892.1,256.3 L894.3,253.7 L896.6,251.5 L898.9,249.5 L901.4,247.6 L904.0,245.8 L906.6,244.1 L909.4,242.5 L912.3,241.0 L915.4,239.6 L918.5,238.3 L921.8,237.2 L925.4,236.2 L929.0,235.3 L932.8,234.6 L936.6,233.9 L940.4,233.4 L944.2,232.9 L947.8,232.4 L951.3,232.0 L954.8,231.7 L958.2,231.6 L961.6,231.4 L965.0,231.4 L968.4,231.3 L971.7,231.3 L975.0,231.2 L978.4,231.1 L982.1,231.1 L985.8,231.0 L989.5,231.0 L992.9,231.0 L996.0,231.0 L998.5,231.0 L1000.5,231.0" fill="none" stroke="#ff0000" stroke-width="6.5" stroke-linecap="round" stroke-linejoin="round"/>
<path d="M633.0,226.5 L638.3,226.5 L645.3,226.5 L653.8,226.5 L663.1,226.5 L672.9,226.4 L682.6,226.3 L691.8,226.2 L700.0,226.0 L707.6,225.8 L715.3,225.5 L722.8,225.2 L730.1,224.9 L737.0,224.5 L743.4,224.0 L749.2,223.5 L754.1,222.8 L758.2,222.0 L761.5,220.9 L764.2,219.7 L766.4,218.5 L768.1,217.3 L769.6,216.2 L770.8,215.3 L771.9,214.6 L771.9,214.6 L772.3,213.3 L773.0,211.7 L773.7,209.6 L774.5,207.4 L775.3,205.1 L776.1,202.7 L776.8,200.4 L777.4,198.2 L777.9,196.2 L778.3,194.1 L778.7,192.1 L779.0,190.0 L779.3,188.0 L779.6,186.0 L779.8,183.9 L780.1,181.9 L780.3,179.7 L780.6,177.4 L780.8,175.0 L781.0,172.7 L781.1,170.5 L781.3,168.4 L781.4,166.8 L781.5,165.5 L781.7,165.3 L782.4,133.3 L783.2,97.4 L784.0,54.5 L784.8,34.2 L785.6,71.6 L786.3,113.0 L787.1,141.1 L787.9,172.3 L788.3,202.3 L789.7,220.1 L791.0,226.9 L791.5,229.7 L792.1,233.6 L792.8,238.1 L793.7,243.2 L794.6,248.4 L795.5,253.6 L796.4,258.5 L797.3,262.8 L798.2,266.7 L799.1,270.5 L800.1,274.2 L801.1,277.7 L802.1,281.1 L803.1,284.3 L804.1,287.2 L805.0,290.0 L805.9,292.5 L806.8,294.7 L807.7,296.8 L808.6,298.6 L809.5,300.3 L810.4,301.9 L811.2,303.5 L812.0,305.0 L812.8,306.6 L813.5,308.3 L814.1,309.9 L814.8,311.4 L815.4,312.7 L816.1,313.7 L816.8,314.4 L817.5,314.5 L818.3,314.1 L819.0,313.1 L819.8,311.8 L820.7,310.2 L821.5,308.4 L822.3,306.5 L823.2,304.7 L824.0,303.0 L824.9,301.3 L825.9,299.5 L826.9,297.6 L827.9,295.7 L828.9,293.9 L829.7,292.2 L830.5,290.8 L831.0,289.8 L831.0,289.8 L832.3,287.7 L834.1,284.8 L836.1,281.5 L838.4,277.7 L840.9,273.8 L843.5,269.9 L846.2,266.1 L848.9,262.8 L851.5,259.7 L854.1,256.5 L856.8,253.4 L859.6,250.4 L862.6,247.6 L865.9,244.9 L869.5,242.5 L873.6,240.4 L878.2,238.6 L883.4,237.2 L888.9,236.0 L894.7,235.0 L900.7,234.1 L906.6,233.4 L912.4,232.7 L918.0,232.0 L923.4,231.4 L928.7,230.9 L934.0,230.6 L939.3,230.3 L944.5,230.1 L949.7,229.9 L954.9,229.7 L960.0,229.5 L965.4,229.3 L971.1,229.1 L976.9,229.0 L982.6,228.8 L988.0,228.7 L992.9,228.6 L996.9,228.6 L1000.0,228.5" fill="none" stroke="#ff00ff" stroke-width="1.3" stroke-linejoin="round"/>
<path d="M633.0,226.5 L638.3,226.5 L645.3,226.5 L653.8,226.5 L663.1,226.5 L672.9,226.4 L682.6,226.3 L691.8,226.2 L700.0,226.0 L707.6,225.8 L715.3,225.5 L722.8,225.2 L730.1,224.9 L737.0,224.5 L743.4,224.0 L749.2,223.5 L754.1,222.8 L758.2,222.0 L761.5,220.9 L764.2,219.7 L766.4,218.5 L768.1,217.3 L769.6,216.2 L770.8,215.3 L771.9,214.6" fill="none" stroke="#ff00ff" stroke-width="5.5" stroke-linecap="round" stroke-linejoin="round"/>
<rect x="769.6" y="212.3" width="4.6" height="4.6" fill="#fff" stroke="#ff00ff" stroke-width="1.4"/>
<rect x="770.5" y="209.9" width="4.6" height="4.6" fill="#fff" stroke="#ff00ff" stroke-width="1.4"/>
<rect x="771.4" y="207.4" width="4.6" height="4.6" fill="#fff" stroke="#ff00ff" stroke-width="1.4"/>
<rect x="772.2" y="205.0" width="4.6" height="4.6" fill="#fff" stroke="#ff00ff" stroke-width="1.4"/>
<rect x="773.1" y="202.5" width="4.6" height="4.6" fill="#fff" stroke="#ff00ff" stroke-width="1.4"/>
<rect x="773.9" y="200.0" width="4.6" height="4.6" fill="#fff" stroke="#ff00ff" stroke-width="1.4"/>
<rect x="774.6" y="197.5" width="4.6" height="4.6" fill="#fff" stroke="#ff00ff" stroke-width="1.4"/>
<rect x="775.3" y="195.0" width="4.6" height="4.6" fill="#fff" stroke="#ff00ff" stroke-width="1.4"/>
<rect x="775.9" y="192.5" width="4.6" height="4.6" fill="#fff" stroke="#ff00ff" stroke-width="1.4"/>
<rect x="776.3" y="189.9" width="4.6" height="4.6" fill="#fff" stroke="#ff00ff" stroke-width="1.4"/>
<rect x="776.8" y="187.4" width="4.6" height="4.6" fill="#fff" stroke="#ff00ff" stroke-width="1.4"/>
<rect x="777.1" y="184.8" width="4.6" height="4.6" fill="#fff" stroke="#ff00ff" stroke-width="1.4"/>
<rect x="777.5" y="182.2" width="4.6" height="4.6" fill="#fff" stroke="#ff00ff" stroke-width="1.4"/>
<rect x="777.8" y="179.6" width="4.6" height="4.6" fill="#fff" stroke="#ff00ff" stroke-width="1.4"/>
<rect x="778.1" y="177.1" width="4.6" height="4.6" fill="#fff" stroke="#ff00ff" stroke-width="1.4"/>
<rect x="778.3" y="174.5" width="4.6" height="4.6" fill="#fff" stroke="#ff00ff" stroke-width="1.4"/>
<rect x="778.6" y="171.9" width="4.6" height="4.6" fill="#fff" stroke="#ff00ff" stroke-width="1.4"/>
<rect x="778.8" y="169.3" width="4.6" height="4.6" fill="#fff" stroke="#ff00ff" stroke-width="1.4"/>
<rect x="778.9" y="166.7" width="4.6" height="4.6" fill="#fff" stroke="#ff00ff" stroke-width="1.4"/>
<rect x="779.1" y="164.1" width="4.6" height="4.6" fill="#fff" stroke="#ff00ff" stroke-width="1.4"/>
<rect x="779.4" y="163.0" width="4.6" height="4.6" fill="#fff" stroke="#ff00ff" stroke-width="1.4"/>
<rect x="780.1" y="131.0" width="4.6" height="4.6" fill="#fff" stroke="#ff00ff" stroke-width="1.4"/>
<rect x="780.9" y="95.1" width="4.6" height="4.6" fill="#fff" stroke="#ff00ff" stroke-width="1.4"/>
<rect x="781.7" y="52.2" width="4.6" height="4.6" fill="#fff" stroke="#ff00ff" stroke-width="1.4"/>
<rect x="782.5" y="31.9" width="4.6" height="4.6" fill="#fff" stroke="#ff00ff" stroke-width="1.4"/>
<rect x="783.3" y="69.3" width="4.6" height="4.6" fill="#fff" stroke="#ff00ff" stroke-width="1.4"/>
<rect x="784.0" y="110.7" width="4.6" height="4.6" fill="#fff" stroke="#ff00ff" stroke-width="1.4"/>
<rect x="784.8" y="138.8" width="4.6" height="4.6" fill="#fff" stroke="#ff00ff" stroke-width="1.4"/>
<rect x="785.6" y="170.0" width="4.6" height="4.6" fill="#fff" stroke="#ff00ff" stroke-width="1.4"/>
<rect x="786.0" y="200.0" width="4.6" height="4.6" fill="#fff" stroke="#ff00ff" stroke-width="1.4"/>
<rect x="787.4" y="217.8" width="4.6" height="4.6" fill="#fff" stroke="#ff00ff" stroke-width="1.4"/>
<rect x="788.7" y="224.6" width="4.6" height="4.6" fill="#fff" stroke="#ff00ff" stroke-width="1.4"/>
<rect x="789.2" y="227.6" width="4.6" height="4.6" fill="#fff" stroke="#ff00ff" stroke-width="1.4"/>
<rect x="789.7" y="230.5" width="4.6" height="4.6" fill="#fff" stroke="#ff00ff" stroke-width="1.4"/>
<rect x="790.2" y="233.5" width="4.6" height="4.6" fill="#fff" stroke="#ff00ff" stroke-width="1.4"/>
<rect x="790.6" y="236.4" width="4.6" height="4.6" fill="#fff" stroke="#ff00ff" stroke-width="1.4"/>
<rect x="791.1" y="239.4" width="4.6" height="4.6" fill="#fff" stroke="#ff00ff" stroke-width="1.4"/>
<rect x="791.6" y="242.4" width="4.6" height="4.6" fill="#fff" stroke="#ff00ff" stroke-width="1.4"/>
<rect x="792.1" y="245.3" width="4.6" height="4.6" fill="#fff" stroke="#ff00ff" stroke-width="1.4"/>
<rect x="792.6" y="248.3" width="4.6" height="4.6" fill="#fff" stroke="#ff00ff" stroke-width="1.4"/>
<rect x="793.2" y="251.2" width="4.6" height="4.6" fill="#fff" stroke="#ff00ff" stroke-width="1.4"/>
<rect x="793.7" y="254.2" width="4.6" height="4.6" fill="#fff" stroke="#ff00ff" stroke-width="1.4"/>
<rect x="794.3" y="257.1" width="4.6" height="4.6" fill="#fff" stroke="#ff00ff" stroke-width="1.4"/>
<rect x="794.9" y="260.1" width="4.6" height="4.6" fill="#fff" stroke="#ff00ff" stroke-width="1.4"/>
<rect x="795.6" y="263.0" width="4.6" height="4.6" fill="#fff" stroke="#ff00ff" stroke-width="1.4"/>
<rect x="796.3" y="265.9" width="4.6" height="4.6" fill="#fff" stroke="#ff00ff" stroke-width="1.4"/>
<rect x="797.0" y="268.8" width="4.6" height="4.6" fill="#fff" stroke="#ff00ff" stroke-width="1.4"/>
<rect x="797.8" y="271.7" width="4.6" height="4.6" fill="#fff" stroke="#ff00ff" stroke-width="1.4"/>
<rect x="798.6" y="274.6" width="4.6" height="4.6" fill="#fff" stroke="#ff00ff" stroke-width="1.4"/>
<rect x="799.4" y="277.5" width="4.6" height="4.6" fill="#fff" stroke="#ff00ff" stroke-width="1.4"/>
<rect x="800.3" y="280.3" width="4.6" height="4.6" fill="#fff" stroke="#ff00ff" stroke-width="1.4"/>
<rect x="801.2" y="283.2" width="4.6" height="4.6" fill="#fff" stroke="#ff00ff" stroke-width="1.4"/>
<rect x="802.1" y="286.1" width="4.6" height="4.6" fill="#fff" stroke="#ff00ff" stroke-width="1.4"/>
<rect x="803.1" y="288.9" width="4.6" height="4.6" fill="#fff" stroke="#ff00ff" stroke-width="1.4"/>
<rect x="804.2" y="291.7" width="4.6" height="4.6" fill="#fff" stroke="#ff00ff" stroke-width="1.4"/>
<rect x="805.4" y="294.4" width="4.6" height="4.6" fill="#fff" stroke="#ff00ff" stroke-width="1.4"/>
<rect x="806.8" y="297.1" width="4.6" height="4.6" fill="#fff" stroke="#ff00ff" stroke-width="1.4"/>
<rect x="808.2" y="299.8" width="4.6" height="4.6" fill="#fff" stroke="#ff00ff" stroke-width="1.4"/>
<rect x="809.6" y="302.4" width="4.6" height="4.6" fill="#fff" stroke="#ff00ff" stroke-width="1.4"/>
<rect x="810.8" y="305.1" width="4.6" height="4.6" fill="#fff" stroke="#ff00ff" stroke-width="1.4"/>
<rect x="812.0" y="307.9" width="4.6" height="4.6" fill="#fff" stroke="#ff00ff" stroke-width="1.4"/>
<rect x="813.3" y="310.6" width="4.6" height="4.6" fill="#fff" stroke="#ff00ff" stroke-width="1.4"/>
<rect x="815.5" y="312.0" width="4.6" height="4.6" fill="#fff" stroke="#ff00ff" stroke-width="1.4"/>
<rect x="817.4" y="309.7" width="4.6" height="4.6" fill="#fff" stroke="#ff00ff" stroke-width="1.4"/>
<rect x="818.7" y="307.1" width="4.6" height="4.6" fill="#fff" stroke="#ff00ff" stroke-width="1.4"/>
<rect x="820.0" y="304.3" width="4.6" height="4.6" fill="#fff" stroke="#ff00ff" stroke-width="1.4"/>
<rect x="821.2" y="301.6" width="4.6" height="4.6" fill="#fff" stroke="#ff00ff" stroke-width="1.4"/>
<rect x="822.6" y="299.0" width="4.6" height="4.6" fill="#fff" stroke="#ff00ff" stroke-width="1.4"/>
<rect x="824.1" y="296.3" width="4.6" height="4.6" fill="#fff" stroke="#ff00ff" stroke-width="1.4"/>
<rect x="825.5" y="293.7" width="4.6" height="4.6" fill="#fff" stroke="#ff00ff" stroke-width="1.4"/>
<rect x="826.9" y="291.0" width="4.6" height="4.6" fill="#fff" stroke="#ff00ff" stroke-width="1.4"/>
<rect x="828.3" y="288.4" width="4.6" height="4.6" fill="#fff" stroke="#ff00ff" stroke-width="1.4"/>
<path d="M831.0,289.8 L832.3,287.7 L834.1,284.8 L836.1,281.5 L838.4,277.7 L840.9,273.8 L843.5,269.9 L846.2,266.1 L848.9,262.8 L851.5,259.7 L854.1,256.5 L856.8,253.4 L859.6,250.4 L862.6,247.6 L865.9,244.9 L869.5,242.5 L873.6,240.4 L878.2,238.6 L883.4,237.2 L888.9,236.0 L894.7,235.0 L900.7,234.1 L906.6,233.4 L912.4,232.7 L918.0,232.0 L923.4,231.4 L928.7,230.9 L934.0,230.6 L939.3,230.3 L944.5,230.1 L949.7,229.9 L954.9,229.7 L960.0,229.5 L965.4,229.3 L971.1,229.1 L976.9,229.0 L982.6,228.8 L988.0,228.7 L992.9,228.6 L996.9,228.6 L1000.0,228.5" fill="none" stroke="#ff00ff" stroke-width="5.5" stroke-linecap="round" stroke-linejoin="round"/>
<path d="M633.0,226.0 L638.5,226.0 L646.1,225.9 L655.3,225.8 L665.2,225.7 L675.4,225.7 L685.0,225.6 L693.4,225.5 L700.0,225.5 L704.7,225.6 L708.1,225.7 L710.6,225.9 L712.5,226.1 L714.0,226.2 L715.6,226.2 L717.5,226.0 L720.0,225.6 L723.2,224.9 L726.8,223.8 L730.5,222.6 L734.4,221.3 L738.1,219.9 L741.6,218.5 L744.8,217.2 L747.3,216.0 L749.3,214.9 L750.9,213.7 L752.1,212.5 L753.1,211.3 L753.9,210.2 L754.5,209.2 L755.0,208.4 L755.5,207.8 L755.5,207.8 L755.8,206.8 L756.3,205.5 L756.8,203.9 L757.4,202.1 L758.0,200.2 L758.6,198.2 L759.2,196.2 L759.6,194.1 L760.0,191.9 L760.3,189.6 L760.6,187.1 L760.9,184.5 L761.1,182.0 L761.3,179.5 L761.5,177.2 L761.7,175.0 L761.9,172.9 L762.0,170.9 L762.2,168.9 L762.3,167.0 L762.4,165.3 L762.5,163.7 L762.5,162.4 L762.6,161.4 L761.8,174.7 L762.1,161.4 L763.7,133.3 L764.5,88.8 L765.3,61.5 L766.0,48.2 L766.8,79.4 L767.6,120.8 L768.4,140.3 L769.2,159.0 L770.0,172.3 L770.5,190.7 L771.2,205.8 L771.9,220.1 L772.6,231.0 L772.6,231.0 L772.9,232.4 L773.2,234.2 L773.6,236.4 L774.1,238.9 L774.7,241.4 L775.3,244.1 L776.0,246.6 L776.8,249.0 L777.7,251.3 L778.8,253.6 L780.1,255.9 L781.3,258.2 L782.6,260.5 L783.9,262.8 L785.1,265.0 L786.1,267.3 L787.0,269.6 L787.8,271.9 L788.6,274.3 L789.3,276.6 L790.0,278.8 L790.6,281.0 L791.3,283.1 L792.0,285.0 L792.7,286.8 L793.5,288.6 L794.3,290.3 L795.0,291.9 L795.7,293.3 L796.4,294.6 L796.9,295.7 L797.3,296.5 L797.3,299.0 L797.5,338.6 L799.0,364.0 L798.0,419.3 L798.0,419.3 L803.0,340.0 L808.0,300.0 L808.0,300.0 L808.3,299.6 L808.7,299.1 L809.2,298.5 L809.7,297.8 L810.3,297.1 L810.9,296.4 L811.5,295.6 L812.0,295.0 L812.5,294.4 L813.0,293.9 L813.5,293.3 L814.0,292.8 L814.5,292.2 L815.0,291.6 L815.5,290.9 L816.1,290.2 L816.7,289.4 L817.2,288.6 L817.8,287.7 L818.4,286.7 L819.0,285.7 L819.6,284.7 L820.3,283.6 L821.0,282.4 L821.8,281.1 L822.6,279.7 L823.4,278.2 L824.3,276.6 L825.2,275.0 L826.1,273.5 L827.0,272.0 L827.8,270.7 L828.6,269.4 L829.5,268.1 L830.4,266.8 L831.3,265.6 L832.2,264.5 L832.9,263.5 L833.5,262.7 L834.0,262.0 L834.0,262.0 L834.3,261.4 L834.6,260.7 L835.0,259.8 L835.5,258.8 L836.1,257.7 L837.0,256.5 L838.3,255.3 L840.0,254.1 L842.0,252.8 L844.1,251.4 L846.5,250.0 L849.3,248.5 L852.4,246.9 L855.9,245.4 L860.0,244.0 L864.7,242.6 L870.3,241.3 L876.7,239.9 L883.9,238.5 L891.4,237.2 L899.0,236.0 L906.5,234.9 L913.6,233.8 L920.0,233.0 L925.7,232.3 L931.1,231.9 L936.1,231.5 L941.0,231.2 L945.7,231.1 L950.4,230.9 L955.1,230.7 L960.0,230.5 L965.3,230.3 L970.9,230.0 L976.8,229.8 L982.5,229.6 L987.9,229.4 L992.8,229.2 L996.9,229.1 L1000.0,229.0" fill="none" stroke="#000080" stroke-width="1.3" stroke-linejoin="round"/>
<path d="M633.0,226.0 L638.5,226.0 L646.1,225.9 L655.3,225.8 L665.2,225.7 L675.4,225.7 L685.0,225.6 L693.4,225.5 L700.0,225.5 L704.7,225.6 L708.1,225.7 L710.6,225.9 L712.5,226.1 L714.0,226.2 L715.6,226.2 L717.5,226.0 L720.0,225.6 L723.2,224.9 L726.8,223.8 L730.5,222.6 L734.4,221.3 L738.1,219.9 L741.6,218.5 L744.8,217.2 L747.3,216.0 L749.3,214.9 L750.9,213.7 L752.1,212.5 L753.1,211.3 L753.9,210.2 L754.5,209.2 L755.0,208.4 L755.5,207.8" fill="none" stroke="#000080" stroke-width="5.5" stroke-linecap="round" stroke-linejoin="round"/>
<rect x="753.2" y="205.5" width="4.6" height="4.6" fill="#fff" stroke="#000080" stroke-width="1.4"/>
<rect x="754.0" y="203.0" width="4.6" height="4.6" fill="#fff" stroke="#000080" stroke-width="1.4"/>
<rect x="754.9" y="200.6" width="4.6" height="4.6" fill="#fff" stroke="#000080" stroke-width="1.4"/>
<rect x="755.7" y="198.1" width="4.6" height="4.6" fill="#fff" stroke="#000080" stroke-width="1.4"/>
<rect x="756.4" y="195.6" width="4.6" height="4.6" fill="#fff" stroke="#000080" stroke-width="1.4"/>
<rect x="757.0" y="193.1" width="4.6" height="4.6" fill="#fff" stroke="#000080" stroke-width="1.4"/>
<rect x="757.5" y="190.5" width="4.6" height="4.6" fill="#fff" stroke="#000080" stroke-width="1.4"/>
<rect x="757.9" y="188.0" width="4.6" height="4.6" fill="#fff" stroke="#000080" stroke-width="1.4"/>
<rect x="758.2" y="185.4" width="4.6" height="4.6" fill="#fff" stroke="#000080" stroke-width="1.4"/>
<rect x="758.5" y="182.8" width="4.6" height="4.6" fill="#fff" stroke="#000080" stroke-width="1.4"/>
<rect x="758.7" y="180.2" width="4.6" height="4.6" fill="#fff" stroke="#000080" stroke-width="1.4"/>
<rect x="759.0" y="177.6" width="4.6" height="4.6" fill="#fff" stroke="#000080" stroke-width="1.4"/>
<rect x="759.2" y="175.0" width="4.6" height="4.6" fill="#fff" stroke="#000080" stroke-width="1.4"/>
<rect x="759.4" y="172.4" width="4.6" height="4.6" fill="#fff" stroke="#000080" stroke-width="1.4"/>
<rect x="759.6" y="169.8" width="4.6" height="4.6" fill="#fff" stroke="#000080" stroke-width="1.4"/>
<rect x="759.8" y="167.3" width="4.6" height="4.6" fill="#fff" stroke="#000080" stroke-width="1.4"/>
<rect x="760.0" y="164.7" width="4.6" height="4.6" fill="#fff" stroke="#000080" stroke-width="1.4"/>
<rect x="760.1" y="162.1" width="4.6" height="4.6" fill="#fff" stroke="#000080" stroke-width="1.4"/>
<rect x="760.3" y="159.5" width="4.6" height="4.6" fill="#fff" stroke="#000080" stroke-width="1.4"/>
<rect x="759.5" y="172.4" width="4.6" height="4.6" fill="#fff" stroke="#000080" stroke-width="1.4"/>
<rect x="759.8" y="159.1" width="4.6" height="4.6" fill="#fff" stroke="#000080" stroke-width="1.4"/>
<rect x="761.4" y="131.0" width="4.6" height="4.6" fill="#fff" stroke="#000080" stroke-width="1.4"/>
<rect x="762.2" y="86.5" width="4.6" height="4.6" fill="#fff" stroke="#000080" stroke-width="1.4"/>
<rect x="763.0" y="59.2" width="4.6" height="4.6" fill="#fff" stroke="#000080" stroke-width="1.4"/>
<rect x="763.7" y="45.9" width="4.6" height="4.6" fill="#fff" stroke="#000080" stroke-width="1.4"/>
<rect x="764.5" y="77.1" width="4.6" height="4.6" fill="#fff" stroke="#000080" stroke-width="1.4"/>
<rect x="765.3" y="118.5" width="4.6" height="4.6" fill="#fff" stroke="#000080" stroke-width="1.4"/>
<rect x="766.1" y="138.0" width="4.6" height="4.6" fill="#fff" stroke="#000080" stroke-width="1.4"/>
<rect x="766.9" y="156.7" width="4.6" height="4.6" fill="#fff" stroke="#000080" stroke-width="1.4"/>
<rect x="767.7" y="170.0" width="4.6" height="4.6" fill="#fff" stroke="#000080" stroke-width="1.4"/>
<rect x="768.2" y="188.4" width="4.6" height="4.6" fill="#fff" stroke="#000080" stroke-width="1.4"/>
<rect x="768.9" y="203.5" width="4.6" height="4.6" fill="#fff" stroke="#000080" stroke-width="1.4"/>
<rect x="769.6" y="217.8" width="4.6" height="4.6" fill="#fff" stroke="#000080" stroke-width="1.4"/>
<rect x="770.3" y="228.7" width="4.6" height="4.6" fill="#fff" stroke="#000080" stroke-width="1.4"/>
<rect x="770.3" y="228.7" width="4.6" height="4.6" fill="#fff" stroke="#000080" stroke-width="1.4"/>
<rect x="770.9" y="231.6" width="4.6" height="4.6" fill="#fff" stroke="#000080" stroke-width="1.4"/>
<rect x="771.4" y="234.6" width="4.6" height="4.6" fill="#fff" stroke="#000080" stroke-width="1.4"/>
<rect x="772.0" y="237.5" width="4.6" height="4.6" fill="#fff" stroke="#000080" stroke-width="1.4"/>
<rect x="772.7" y="240.5" width="4.6" height="4.6" fill="#fff" stroke="#000080" stroke-width="1.4"/>
<rect x="773.4" y="243.4" width="4.6" height="4.6" fill="#fff" stroke="#000080" stroke-width="1.4"/>
<rect x="774.3" y="246.2" width="4.6" height="4.6" fill="#fff" stroke="#000080" stroke-width="1.4"/>
<rect x="775.5" y="249.0" width="4.6" height="4.6" fill="#fff" stroke="#000080" stroke-width="1.4"/>
<rect x="776.8" y="251.7" width="4.6" height="4.6" fill="#fff" stroke="#000080" stroke-width="1.4"/>
<rect x="778.2" y="254.3" width="4.6" height="4.6" fill="#fff" stroke="#000080" stroke-width="1.4"/>
<rect x="779.7" y="257.0" width="4.6" height="4.6" fill="#fff" stroke="#000080" stroke-width="1.4"/>
<rect x="781.1" y="259.6" width="4.6" height="4.6" fill="#fff" stroke="#000080" stroke-width="1.4"/>
<rect x="782.5" y="262.2" width="4.6" height="4.6" fill="#fff" stroke="#000080" stroke-width="1.4"/>
<rect x="783.8" y="265.0" width="4.6" height="4.6" fill="#fff" stroke="#000080" stroke-width="1.4"/>
<rect x="784.9" y="267.8" width="4.6" height="4.6" fill="#fff" stroke="#000080" stroke-width="1.4"/>
<rect x="785.8" y="270.6" width="4.6" height="4.6" fill="#fff" stroke="#000080" stroke-width="1.4"/>
<rect x="786.7" y="273.5" width="4.6" height="4.6" fill="#fff" stroke="#000080" stroke-width="1.4"/>
<rect x="787.6" y="276.3" width="4.6" height="4.6" fill="#fff" stroke="#000080" stroke-width="1.4"/>
<rect x="788.5" y="279.2" width="4.6" height="4.6" fill="#fff" stroke="#000080" stroke-width="1.4"/>
<rect x="789.5" y="282.0" width="4.6" height="4.6" fill="#fff" stroke="#000080" stroke-width="1.4"/>
<rect x="790.6" y="284.8" width="4.6" height="4.6" fill="#fff" stroke="#000080" stroke-width="1.4"/>
<rect x="791.8" y="287.6" width="4.6" height="4.6" fill="#fff" stroke="#000080" stroke-width="1.4"/>
<rect x="793.1" y="290.3" width="4.6" height="4.6" fill="#fff" stroke="#000080" stroke-width="1.4"/>
<rect x="794.4" y="293.0" width="4.6" height="4.6" fill="#fff" stroke="#000080" stroke-width="1.4"/>
<rect x="795.0" y="296.7" width="4.6" height="4.6" fill="#fff" stroke="#000080" stroke-width="1.4"/>
<rect x="795.2" y="336.3" width="4.6" height="4.6" fill="#fff" stroke="#000080" stroke-width="1.4"/>
<rect x="796.7" y="361.7" width="4.6" height="4.6" fill="#fff" stroke="#000080" stroke-width="1.4"/>
<rect x="795.7" y="417.0" width="4.6" height="4.6" fill="#fff" stroke="#000080" stroke-width="1.4"/>
<rect x="805.7" y="297.7" width="4.6" height="4.6" fill="#fff" stroke="#000080" stroke-width="1.4"/>
<rect x="807.6" y="295.3" width="4.6" height="4.6" fill="#fff" stroke="#000080" stroke-width="1.4"/>
<rect x="809.4" y="293.0" width="4.6" height="4.6" fill="#fff" stroke="#000080" stroke-width="1.4"/>
<rect x="811.4" y="290.8" width="4.6" height="4.6" fill="#fff" stroke="#000080" stroke-width="1.4"/>
<rect x="813.4" y="288.5" width="4.6" height="4.6" fill="#fff" stroke="#000080" stroke-width="1.4"/>
<rect x="815.1" y="286.0" width="4.6" height="4.6" fill="#fff" stroke="#000080" stroke-width="1.4"/>
<rect x="816.7" y="283.5" width="4.6" height="4.6" fill="#fff" stroke="#000080" stroke-width="1.4"/>
<rect x="818.2" y="280.9" width="4.6" height="4.6" fill="#fff" stroke="#000080" stroke-width="1.4"/>
<rect x="819.7" y="278.3" width="4.6" height="4.6" fill="#fff" stroke="#000080" stroke-width="1.4"/>
<rect x="821.2" y="275.7" width="4.6" height="4.6" fill="#fff" stroke="#000080" stroke-width="1.4"/>
<rect x="822.7" y="273.1" width="4.6" height="4.6" fill="#fff" stroke="#000080" stroke-width="1.4"/>
<rect x="824.2" y="270.5" width="4.6" height="4.6" fill="#fff" stroke="#000080" stroke-width="1.4"/>
<rect x="825.8" y="268.0" width="4.6" height="4.6" fill="#fff" stroke="#000080" stroke-width="1.4"/>
<rect x="827.5" y="265.5" width="4.6" height="4.6" fill="#fff" stroke="#000080" stroke-width="1.4"/>
<rect x="829.2" y="263.0" width="4.6" height="4.6" fill="#fff" stroke="#000080" stroke-width="1.4"/>
<rect x="831.0" y="260.6" width="4.6" height="4.6" fill="#fff" stroke="#000080" stroke-width="1.4"/>
<path d="M834.0,262.0 L834.3,261.4 L834.6,260.7 L835.0,259.8 L835.5,258.8 L836.1,257.7 L837.0,256.5 L838.3,255.3 L840.0,254.1 L842.0,252.8 L844.1,251.4 L846.5,250.0 L849.3,248.5 L852.4,246.9 L855.9,245.4 L860.0,244.0 L864.7,242.6 L870.3,241.3 L876.7,239.9 L883.9,238.5 L891.4,237.2 L899.0,236.0 L906.5,234.9 L913.6,233.8 L920.0,233.0 L925.7,232.3 L931.1,231.9 L936.1,231.5 L941.0,231.2 L945.7,231.1 L950.4,230.9 L955.1,230.7 L960.0,230.5 L965.3,230.3 L970.9,230.0 L976.8,229.8 L982.5,229.6 L987.9,229.4 L992.8,229.2 L996.9,229.1 L1000.0,229.0" fill="none" stroke="#000080" stroke-width="6" stroke-linecap="round" stroke-linejoin="round"/>
<path d="M632.8,227.0 L638.1,226.8 L645.5,226.6 L654.3,226.3 L663.9,226.0 L673.7,225.6 L683.0,225.2 L691.3,224.8 L697.8,224.4 L702.7,224.0 L706.6,223.6 L709.6,223.2 L712.1,222.8 L714.2,222.3 L716.1,221.7 L717.9,220.9 L720.0,220.0 L722.2,218.8 L724.3,217.2 L726.4,215.5 L728.2,213.6 L729.9,211.8 L731.4,210.2 L732.7,208.8 L733.7,207.8 L733.7,207.8 L734.1,206.7 L734.7,205.3 L735.5,203.7 L736.3,201.8 L737.1,199.8 L737.9,197.8 L738.5,195.9 L739.1,194.1 L739.5,192.4 L739.9,190.6 L740.2,188.8 L740.4,187.0 L740.6,185.3 L740.8,183.6 L741.0,182.0 L741.2,180.5 L741.4,179.0 L741.6,177.6 L741.8,176.2 L742.0,174.8 L742.1,173.6 L742.3,172.5 L742.4,171.6 L742.5,170.9 L742.6,152.0 L744.2,115.3 L744.2,82.6 L745.8,68.5 L747.3,98.2 L748.1,128.6 L748.9,153.6 L749.7,172.3 L750.0,186.0 L751.1,211.2 L751.1,211.2 L756.9,240.0 L756.9,240.0 L757.1,240.6 L757.2,241.4 L757.4,242.4 L757.6,243.5 L757.9,244.6 L758.3,245.9 L758.8,247.1 L759.5,248.3 L760.4,249.5 L761.6,250.8 L762.9,252.1 L764.3,253.4 L765.7,254.8 L767.0,256.2 L768.3,257.6 L769.3,259.0 L770.1,260.4 L770.8,261.9 L771.5,263.3 L772.0,264.8 L772.5,266.3 L773.0,267.8 L773.5,269.2 L774.1,270.7 L774.7,272.2 L775.4,273.6 L776.0,275.1 L776.7,276.5 L777.3,278.0 L777.9,279.5 L778.5,280.9 L779.0,282.4 L779.5,283.9 L779.9,285.4 L780.3,286.9 L780.6,288.4 L781.0,289.9 L781.3,291.4 L781.6,292.8 L782.0,294.1 L782.4,295.5 L782.7,297.0 L783.1,298.6 L783.4,300.0 L783.7,301.3 L784.1,302.3 L784.5,302.8 L784.9,302.9 L785.3,302.3 L785.7,301.0 L786.1,299.3 L786.5,297.3 L787.0,295.3 L787.5,293.3 L788.1,291.5 L788.8,290.2 L789.6,289.3 L790.5,288.7 L791.5,288.3 L792.5,287.9 L793.6,287.7 L794.6,287.3 L795.6,286.9 L796.6,286.3 L797.5,285.6 L798.5,284.9 L799.4,284.1 L800.3,283.2 L801.2,282.3 L802.0,281.2 L802.7,280.0 L803.4,278.5 L804.0,276.7 L804.5,274.7 L804.9,272.4 L805.3,270.0 L805.6,267.6 L805.9,265.2 L806.1,263.0 L806.3,261.0 L806.4,259.2 L806.5,257.4 L806.5,255.7 L806.5,254.1 L806.4,252.6 L806.4,251.3 L806.3,250.2 L806.3,249.3 L808.3,295.1 L811.2,301.0 L810.0,336.0 L812.2,247.3 L813.2,259.0 L818.0,264.9 L818.0,264.9 L818.6,264.4 L819.2,263.8 L820.1,263.1 L821.0,262.3 L822.0,261.3 L823.2,260.3 L824.6,259.2 L826.0,258.0 L827.5,256.6 L829.1,255.1 L830.7,253.4 L832.5,251.6 L834.5,249.9 L836.7,248.1 L839.3,246.4 L842.2,244.9 L845.4,243.5 L848.9,242.0 L852.7,240.6 L856.7,239.3 L861.0,238.0 L865.6,236.8 L870.6,235.7 L875.9,234.8 L881.6,234.0 L887.8,233.4 L894.4,232.8 L901.2,232.4 L908.3,232.0 L915.5,231.6 L922.7,231.3 L930.0,231.0 L937.8,230.7 L946.3,230.4 L955.3,230.2 L964.2,230.0 L972.7,229.9 L980.4,229.7 L986.9,229.6 L991.7,229.5" fill="none" stroke="#800080" stroke-width="1.3" stroke-linejoin="round"/>
<path d="M632.8,227.0 L638.1,226.8 L645.5,226.6 L654.3,226.3 L663.9,226.0 L673.7,225.6 L683.0,225.2 L691.3,224.8 L697.8,224.4 L702.7,224.0 L706.6,223.6 L709.6,223.2 L712.1,222.8 L714.2,222.3 L716.1,221.7 L717.9,220.9 L720.0,220.0 L722.2,218.8 L724.3,217.2 L726.4,215.5 L728.2,213.6 L729.9,211.8 L731.4,210.2 L732.7,208.8 L733.7,207.8" fill="none" stroke="#800080" stroke-width="5.5" stroke-linecap="round" stroke-linejoin="round"/>
<rect x="731.4" y="205.5" width="4.6" height="4.6" fill="#fff" stroke="#800080" stroke-width="1.4"/>
<rect x="732.4" y="203.1" width="4.6" height="4.6" fill="#fff" stroke="#800080" stroke-width="1.4"/>
<rect x="733.4" y="200.7" width="4.6" height="4.6" fill="#fff" stroke="#800080" stroke-width="1.4"/>
<rect x="734.5" y="198.3" width="4.6" height="4.6" fill="#fff" stroke="#800080" stroke-width="1.4"/>
<rect x="735.4" y="195.9" width="4.6" height="4.6" fill="#fff" stroke="#800080" stroke-width="1.4"/>
<rect x="736.3" y="193.5" width="4.6" height="4.6" fill="#fff" stroke="#800080" stroke-width="1.4"/>
<rect x="737.0" y="191.0" width="4.6" height="4.6" fill="#fff" stroke="#800080" stroke-width="1.4"/>
<rect x="737.6" y="188.4" width="4.6" height="4.6" fill="#fff" stroke="#800080" stroke-width="1.4"/>
<rect x="738.0" y="185.9" width="4.6" height="4.6" fill="#fff" stroke="#800080" stroke-width="1.4"/>
<rect x="738.3" y="183.3" width="4.6" height="4.6" fill="#fff" stroke="#800080" stroke-width="1.4"/>
<rect x="738.6" y="180.7" width="4.6" height="4.6" fill="#fff" stroke="#800080" stroke-width="1.4"/>
<rect x="738.9" y="178.1" width="4.6" height="4.6" fill="#fff" stroke="#800080" stroke-width="1.4"/>
<rect x="739.3" y="175.5" width="4.6" height="4.6" fill="#fff" stroke="#800080" stroke-width="1.4"/>
<rect x="739.6" y="173.0" width="4.6" height="4.6" fill="#fff" stroke="#800080" stroke-width="1.4"/>
<rect x="740.0" y="170.4" width="4.6" height="4.6" fill="#fff" stroke="#800080" stroke-width="1.4"/>
<rect x="740.3" y="149.7" width="4.6" height="4.6" fill="#fff" stroke="#800080" stroke-width="1.4"/>
<rect x="741.9" y="113.0" width="4.6" height="4.6" fill="#fff" stroke="#800080" stroke-width="1.4"/>
<rect x="741.9" y="80.3" width="4.6" height="4.6" fill="#fff" stroke="#800080" stroke-width="1.4"/>
<rect x="743.5" y="66.2" width="4.6" height="4.6" fill="#fff" stroke="#800080" stroke-width="1.4"/>
<rect x="745.0" y="95.9" width="4.6" height="4.6" fill="#fff" stroke="#800080" stroke-width="1.4"/>
<rect x="745.8" y="126.3" width="4.6" height="4.6" fill="#fff" stroke="#800080" stroke-width="1.4"/>
<rect x="746.6" y="151.3" width="4.6" height="4.6" fill="#fff" stroke="#800080" stroke-width="1.4"/>
<rect x="747.4" y="170.0" width="4.6" height="4.6" fill="#fff" stroke="#800080" stroke-width="1.4"/>
<rect x="747.7" y="183.7" width="4.6" height="4.6" fill="#fff" stroke="#800080" stroke-width="1.4"/>
<rect x="748.8" y="208.9" width="4.6" height="4.6" fill="#fff" stroke="#800080" stroke-width="1.4"/>
<rect x="754.6" y="237.7" width="4.6" height="4.6" fill="#fff" stroke="#800080" stroke-width="1.4"/>
<rect x="755.2" y="240.6" width="4.6" height="4.6" fill="#fff" stroke="#800080" stroke-width="1.4"/>
<rect x="756.0" y="243.5" width="4.6" height="4.6" fill="#fff" stroke="#800080" stroke-width="1.4"/>
<rect x="757.3" y="246.2" width="4.6" height="4.6" fill="#fff" stroke="#800080" stroke-width="1.4"/>
<rect x="759.3" y="248.5" width="4.6" height="4.6" fill="#fff" stroke="#800080" stroke-width="1.4"/>
<rect x="761.4" y="250.6" width="4.6" height="4.6" fill="#fff" stroke="#800080" stroke-width="1.4"/>
<rect x="763.6" y="252.7" width="4.6" height="4.6" fill="#fff" stroke="#800080" stroke-width="1.4"/>
<rect x="765.6" y="254.9" width="4.6" height="4.6" fill="#fff" stroke="#800080" stroke-width="1.4"/>
<rect x="767.4" y="257.3" width="4.6" height="4.6" fill="#fff" stroke="#800080" stroke-width="1.4"/>
<rect x="768.7" y="260.0" width="4.6" height="4.6" fill="#fff" stroke="#800080" stroke-width="1.4"/>
<rect x="769.8" y="262.8" width="4.6" height="4.6" fill="#fff" stroke="#800080" stroke-width="1.4"/>
<rect x="770.8" y="265.6" width="4.6" height="4.6" fill="#fff" stroke="#800080" stroke-width="1.4"/>
<rect x="771.8" y="268.4" width="4.6" height="4.6" fill="#fff" stroke="#800080" stroke-width="1.4"/>
<rect x="773.0" y="271.2" width="4.6" height="4.6" fill="#fff" stroke="#800080" stroke-width="1.4"/>
<rect x="774.2" y="273.9" width="4.6" height="4.6" fill="#fff" stroke="#800080" stroke-width="1.4"/>
<rect x="775.4" y="276.7" width="4.6" height="4.6" fill="#fff" stroke="#800080" stroke-width="1.4"/>
<rect x="776.5" y="279.5" width="4.6" height="4.6" fill="#fff" stroke="#800080" stroke-width="1.4"/>
<rect x="777.4" y="282.3" width="4.6" height="4.6" fill="#fff" stroke="#800080" stroke-width="1.4"/>
<rect x="778.1" y="285.2" width="4.6" height="4.6" fill="#fff" stroke="#800080" stroke-width="1.4"/>
<rect x="778.8" y="288.2" width="4.6" height="4.6" fill="#fff" stroke="#800080" stroke-width="1.4"/>
<rect x="779.5" y="291.1" width="4.6" height="4.6" fill="#fff" stroke="#800080" stroke-width="1.4"/>
<rect x="780.2" y="294.0" width="4.6" height="4.6" fill="#fff" stroke="#800080" stroke-width="1.4"/>
<rect x="780.9" y="296.9" width="4.6" height="4.6" fill="#fff" stroke="#800080" stroke-width="1.4"/>
<rect x="781.7" y="299.8" width="4.6" height="4.6" fill="#fff" stroke="#800080" stroke-width="1.4"/>
<rect x="783.3" y="299.1" width="4.6" height="4.6" fill="#fff" stroke="#800080" stroke-width="1.4"/>
<rect x="784.0" y="296.2" width="4.6" height="4.6" fill="#fff" stroke="#800080" stroke-width="1.4"/>
<rect x="784.6" y="293.2" width="4.6" height="4.6" fill="#fff" stroke="#800080" stroke-width="1.4"/>
<rect x="785.4" y="290.3" width="4.6" height="4.6" fill="#fff" stroke="#800080" stroke-width="1.4"/>
<rect x="786.7" y="287.6" width="4.6" height="4.6" fill="#fff" stroke="#800080" stroke-width="1.4"/>
<rect x="789.2" y="286.0" width="4.6" height="4.6" fill="#fff" stroke="#800080" stroke-width="1.4"/>
<rect x="792.0" y="285.1" width="4.6" height="4.6" fill="#fff" stroke="#800080" stroke-width="1.4"/>
<rect x="794.7" y="283.7" width="4.6" height="4.6" fill="#fff" stroke="#800080" stroke-width="1.4"/>
<rect x="797.0" y="281.9" width="4.6" height="4.6" fill="#fff" stroke="#800080" stroke-width="1.4"/>
<rect x="799.1" y="279.7" width="4.6" height="4.6" fill="#fff" stroke="#800080" stroke-width="1.4"/>
<rect x="800.7" y="277.2" width="4.6" height="4.6" fill="#fff" stroke="#800080" stroke-width="1.4"/>
<rect x="801.7" y="274.3" width="4.6" height="4.6" fill="#fff" stroke="#800080" stroke-width="1.4"/>
<rect x="802.3" y="271.4" width="4.6" height="4.6" fill="#fff" stroke="#800080" stroke-width="1.4"/>
<rect x="802.9" y="268.5" width="4.6" height="4.6" fill="#fff" stroke="#800080" stroke-width="1.4"/>
<rect x="803.3" y="265.5" width="4.6" height="4.6" fill="#fff" stroke="#800080" stroke-width="1.4"/>
<rect x="803.6" y="262.5" width="4.6" height="4.6" fill="#fff" stroke="#800080" stroke-width="1.4"/>
<rect x="803.9" y="259.5" width="4.6" height="4.6" fill="#fff" stroke="#800080" stroke-width="1.4"/>
<rect x="804.2" y="256.5" width="4.6" height="4.6" fill="#fff" stroke="#800080" stroke-width="1.4"/>
<rect x="804.2" y="253.5" width="4.6" height="4.6" fill="#fff" stroke="#800080" stroke-width="1.4"/>
<rect x="804.1" y="250.5" width="4.6" height="4.6" fill="#fff" stroke="#800080" stroke-width="1.4"/>
<rect x="804.0" y="247.5" width="4.6" height="4.6" fill="#fff" stroke="#800080" stroke-width="1.4"/>
<rect x="806.0" y="292.8" width="4.6" height="4.6" fill="#fff" stroke="#800080" stroke-width="1.4"/>
<rect x="808.9" y="298.7" width="4.6" height="4.6" fill="#fff" stroke="#800080" stroke-width="1.4"/>
<rect x="807.7" y="333.7" width="4.6" height="4.6" fill="#fff" stroke="#800080" stroke-width="1.4"/>
<rect x="809.9" y="245.0" width="4.6" height="4.6" fill="#fff" stroke="#800080" stroke-width="1.4"/>
<rect x="810.9" y="256.7" width="4.6" height="4.6" fill="#fff" stroke="#800080" stroke-width="1.4"/>
<rect x="815.7" y="262.6" width="4.6" height="4.6" fill="#fff" stroke="#800080" stroke-width="1.4"/>
<path d="M818.0,264.9 L818.6,264.4 L819.2,263.8 L820.1,263.1 L821.0,262.3 L822.0,261.3 L823.2,260.3 L824.6,259.2 L826.0,258.0 L827.5,256.6 L829.1,255.1 L830.7,253.4 L832.5,251.6 L834.5,249.9 L836.7,248.1 L839.3,246.4 L842.2,244.9 L845.4,243.5 L848.9,242.0 L852.7,240.6 L856.7,239.3 L861.0,238.0 L865.6,236.8 L870.6,235.7 L875.9,234.8 L881.6,234.0 L887.8,233.4 L894.4,232.8 L901.2,232.4 L908.3,232.0 L915.5,231.6 L922.7,231.3 L930.0,231.0 L937.8,230.7 L946.3,230.4 L955.3,230.2 L964.2,230.0 L972.7,229.9 L980.4,229.7 L986.9,229.6 L991.7,229.5" fill="none" stroke="#800080" stroke-width="6" stroke-linecap="round" stroke-linejoin="round"/>
<path d="M632.3,224.8 L633.2,224.4 L634.3,223.8 L635.6,223.1 L637.1,222.3 L638.7,221.5 L640.3,220.8 L641.9,220.1 L643.4,219.5 L644.9,219.0 L646.4,218.5 L648.1,218.1 L649.6,217.7 L651.2,217.3 L652.7,217.0 L654.0,216.9 L655.1,216.8 L656.1,216.9 L656.9,217.2 L657.6,217.5 L658.2,218.0 L658.7,218.4 L659.1,218.9 L659.5,219.3 L659.8,219.5 L659.8,219.5 L660.0,220.0 L660.3,220.6 L660.6,221.4 L661.0,222.2 L661.4,223.1 L661.8,224.0 L662.3,225.0 L662.7,226.0 L663.2,227.0 L663.7,228.1 L664.2,229.2 L664.8,230.4 L665.3,231.5 L665.8,232.7 L666.3,233.9 L666.8,235.0 L667.1,236.1 L667.2,237.1 L667.3,238.1 L667.3,239.1 L667.5,240.1 L667.9,241.2 L668.6,242.5 L669.7,243.8 L671.3,245.3 L673.4,247.0 L675.7,248.7 L678.3,250.6 L681.0,252.4 L683.8,254.3 L686.5,256.1 L689.0,257.8 L691.4,259.6 L693.9,261.4 L696.4,263.4 L698.9,265.3 L701.4,267.0 L703.8,268.4 L706.1,269.5 L708.4,270.1 L710.5,270.2 L712.6,269.9 L714.5,269.2 L716.4,268.2 L718.3,267.1 L720.2,265.8 L722.2,264.4 L724.2,263.1 L726.4,261.6 L728.6,259.9 L730.9,258.0 L733.3,256.1 L735.6,254.1 L737.8,252.2 L739.8,250.5 L741.7,249.0 L743.4,247.7 L745.1,246.6 L746.6,245.5 L748.1,244.6 L749.4,243.8 L750.6,243.1 L751.5,242.5 L752.3,242.0 L759.3,245.5 L759.9,245.0 L760.6,244.2 L761.3,243.3 L762.3,242.4 L763.4,241.4 L764.7,240.3 L766.2,239.4 L768.0,238.5 L770.1,237.7 L772.4,236.9 L774.9,236.0 L777.7,235.2 L780.6,234.5 L783.6,233.7 L786.8,233.1 L790.0,232.5 L793.3,232.0 L796.7,231.6 L800.1,231.2 L803.8,230.9 L807.5,230.6 L811.4,230.3 L815.5,230.1 L819.8,229.8 L824.4,229.5 L829.4,229.3 L834.7,229.0 L840.1,228.8 L845.4,228.5 L850.6,228.3 L855.5,228.2 L860.0,228.0 L863.5,227.9 L865.8,227.8 L867.5,227.7 L869.2,227.7 L871.5,227.7 L874.9,227.6 L879.9,227.6 L887.1,227.5 L897.5,227.4 L911.0,227.2 L926.5,227.1 L942.9,226.9 L959.1,226.7 L974.1,226.5 L986.8,226.4 L996.1,226.3 L1001.9,226.2 L1005.2,226.2 L1006.5,226.2 L1006.4,226.2 L1005.4,226.2 L1004.2,226.2 L1003.2,226.2 L1003.0,226.2" fill="none" stroke="#808000" stroke-width="1.3" stroke-linejoin="round"/>
<path d="M632.3,224.8 L633.2,224.4 L634.3,223.8 L635.6,223.1 L637.1,222.3 L638.7,221.5 L640.3,220.8 L641.9,220.1 L643.4,219.5 L644.9,219.0 L646.4,218.5 L648.1,218.1 L649.6,217.7 L651.2,217.3 L652.7,217.0 L654.0,216.9 L655.1,216.8 L656.1,216.9 L656.9,217.2 L657.6,217.5 L658.2,218.0 L658.7,218.4 L659.1,218.9 L659.5,219.3 L659.8,219.5" fill="none" stroke="#808000" stroke-width="5.8" stroke-linecap="round" stroke-linejoin="round"/>
<rect x="657.4" y="217.1" width="4.8" height="4.8" fill="#fff" stroke="#808000" stroke-width="1.6"/>
<rect x="658.3" y="219.1" width="4.8" height="4.8" fill="#fff" stroke="#808000" stroke-width="1.6"/>
<rect x="659.2" y="221.1" width="4.8" height="4.8" fill="#fff" stroke="#808000" stroke-width="1.6"/>
<rect x="660.1" y="223.1" width="4.8" height="4.8" fill="#fff" stroke="#808000" stroke-width="1.6"/>
<rect x="661.0" y="225.1" width="4.8" height="4.8" fill="#fff" stroke="#808000" stroke-width="1.6"/>
<rect x="662.0" y="227.1" width="4.8" height="4.8" fill="#fff" stroke="#808000" stroke-width="1.6"/>
<rect x="662.9" y="229.1" width="4.8" height="4.8" fill="#fff" stroke="#808000" stroke-width="1.6"/>
<rect x="663.8" y="231.1" width="4.8" height="4.8" fill="#fff" stroke="#808000" stroke-width="1.6"/>
<rect x="664.6" y="233.2" width="4.8" height="4.8" fill="#fff" stroke="#808000" stroke-width="1.6"/>
<rect x="664.8" y="235.3" width="4.8" height="4.8" fill="#fff" stroke="#808000" stroke-width="1.6"/>
<rect x="665.0" y="237.5" width="4.8" height="4.8" fill="#fff" stroke="#808000" stroke-width="1.6"/>
<rect x="665.9" y="239.5" width="4.8" height="4.8" fill="#fff" stroke="#808000" stroke-width="1.6"/>
<rect x="667.2" y="241.3" width="4.8" height="4.8" fill="#fff" stroke="#808000" stroke-width="1.6"/>
<rect x="668.8" y="242.8" width="4.8" height="4.8" fill="#fff" stroke="#808000" stroke-width="1.6"/>
<rect x="670.5" y="244.2" width="4.8" height="4.8" fill="#fff" stroke="#808000" stroke-width="1.6"/>
<rect x="672.2" y="245.5" width="4.8" height="4.8" fill="#fff" stroke="#808000" stroke-width="1.6"/>
<rect x="674.0" y="246.8" width="4.8" height="4.8" fill="#fff" stroke="#808000" stroke-width="1.6"/>
<rect x="675.8" y="248.1" width="4.8" height="4.8" fill="#fff" stroke="#808000" stroke-width="1.6"/>
<rect x="677.6" y="249.4" width="4.8" height="4.8" fill="#fff" stroke="#808000" stroke-width="1.6"/>
<rect x="679.4" y="250.6" width="4.8" height="4.8" fill="#fff" stroke="#808000" stroke-width="1.6"/>
<rect x="681.3" y="251.8" width="4.8" height="4.8" fill="#fff" stroke="#808000" stroke-width="1.6"/>
<rect x="683.1" y="253.0" width="4.8" height="4.8" fill="#fff" stroke="#808000" stroke-width="1.6"/>
<rect x="684.9" y="254.3" width="4.8" height="4.8" fill="#fff" stroke="#808000" stroke-width="1.6"/>
<rect x="686.7" y="255.5" width="4.8" height="4.8" fill="#fff" stroke="#808000" stroke-width="1.6"/>
<rect x="688.5" y="256.8" width="4.8" height="4.8" fill="#fff" stroke="#808000" stroke-width="1.6"/>
<rect x="690.3" y="258.1" width="4.8" height="4.8" fill="#fff" stroke="#808000" stroke-width="1.6"/>
<rect x="692.0" y="259.4" width="4.8" height="4.8" fill="#fff" stroke="#808000" stroke-width="1.6"/>
<rect x="693.8" y="260.8" width="4.8" height="4.8" fill="#fff" stroke="#808000" stroke-width="1.6"/>
<rect x="695.5" y="262.1" width="4.8" height="4.8" fill="#fff" stroke="#808000" stroke-width="1.6"/>
<rect x="697.3" y="263.4" width="4.8" height="4.8" fill="#fff" stroke="#808000" stroke-width="1.6"/>
<rect x="699.1" y="264.7" width="4.8" height="4.8" fill="#fff" stroke="#808000" stroke-width="1.6"/>
<rect x="701.0" y="265.8" width="4.8" height="4.8" fill="#fff" stroke="#808000" stroke-width="1.6"/>
<rect x="703.0" y="266.8" width="4.8" height="4.8" fill="#fff" stroke="#808000" stroke-width="1.6"/>
<rect x="705.1" y="267.5" width="4.8" height="4.8" fill="#fff" stroke="#808000" stroke-width="1.6"/>
<rect x="707.2" y="267.8" width="4.8" height="4.8" fill="#fff" stroke="#808000" stroke-width="1.6"/>
<rect x="709.4" y="267.6" width="4.8" height="4.8" fill="#fff" stroke="#808000" stroke-width="1.6"/>
<rect x="711.5" y="267.0" width="4.8" height="4.8" fill="#fff" stroke="#808000" stroke-width="1.6"/>
<rect x="713.5" y="266.1" width="4.8" height="4.8" fill="#fff" stroke="#808000" stroke-width="1.6"/>
<rect x="715.4" y="265.0" width="4.8" height="4.8" fill="#fff" stroke="#808000" stroke-width="1.6"/>
<rect x="717.3" y="263.8" width="4.8" height="4.8" fill="#fff" stroke="#808000" stroke-width="1.6"/>
<rect x="719.1" y="262.5" width="4.8" height="4.8" fill="#fff" stroke="#808000" stroke-width="1.6"/>
<rect x="720.9" y="261.3" width="4.8" height="4.8" fill="#fff" stroke="#808000" stroke-width="1.6"/>
<rect x="722.7" y="260.1" width="4.8" height="4.8" fill="#fff" stroke="#808000" stroke-width="1.6"/>
<rect x="724.5" y="258.8" width="4.8" height="4.8" fill="#fff" stroke="#808000" stroke-width="1.6"/>
<rect x="726.3" y="257.5" width="4.8" height="4.8" fill="#fff" stroke="#808000" stroke-width="1.6"/>
<rect x="728.0" y="256.1" width="4.8" height="4.8" fill="#fff" stroke="#808000" stroke-width="1.6"/>
<rect x="729.7" y="254.7" width="4.8" height="4.8" fill="#fff" stroke="#808000" stroke-width="1.6"/>
<rect x="731.3" y="253.2" width="4.8" height="4.8" fill="#fff" stroke="#808000" stroke-width="1.6"/>
<rect x="733.0" y="251.8" width="4.8" height="4.8" fill="#fff" stroke="#808000" stroke-width="1.6"/>
<rect x="734.7" y="250.4" width="4.8" height="4.8" fill="#fff" stroke="#808000" stroke-width="1.6"/>
<rect x="736.4" y="249.0" width="4.8" height="4.8" fill="#fff" stroke="#808000" stroke-width="1.6"/>
<rect x="738.1" y="247.6" width="4.8" height="4.8" fill="#fff" stroke="#808000" stroke-width="1.6"/>
<rect x="739.8" y="246.2" width="4.8" height="4.8" fill="#fff" stroke="#808000" stroke-width="1.6"/>
<rect x="741.6" y="244.9" width="4.8" height="4.8" fill="#fff" stroke="#808000" stroke-width="1.6"/>
<rect x="743.4" y="243.7" width="4.8" height="4.8" fill="#fff" stroke="#808000" stroke-width="1.6"/>
<rect x="745.3" y="242.5" width="4.8" height="4.8" fill="#fff" stroke="#808000" stroke-width="1.6"/>
<rect x="747.1" y="241.3" width="4.8" height="4.8" fill="#fff" stroke="#808000" stroke-width="1.6"/>
<rect x="749.0" y="240.2" width="4.8" height="4.8" fill="#fff" stroke="#808000" stroke-width="1.6"/>
<path d="M759.3,245.5 L759.9,245.0 L760.6,244.2 L761.3,243.3 L762.3,242.4 L763.4,241.4 L764.7,240.3 L766.2,239.4 L768.0,238.5 L770.1,237.7 L772.4,236.9 L774.9,236.0 L777.7,235.2 L780.6,234.5 L783.6,233.7 L786.8,233.1 L790.0,232.5 L793.3,232.0 L796.7,231.6 L800.1,231.2 L803.8,230.9 L807.5,230.6 L811.4,230.3 L815.5,230.1 L819.8,229.8 L824.4,229.5 L829.4,229.3 L834.7,229.0 L840.1,228.8 L845.4,228.5 L850.6,228.3 L855.5,228.2 L860.0,228.0 L863.5,227.9 L865.8,227.8 L867.5,227.7 L869.2,227.7 L871.5,227.7 L874.9,227.6 L879.9,227.6 L887.1,227.5 L897.5,227.4 L911.0,227.2 L926.5,227.1 L942.9,226.9 L959.1,226.7 L974.1,226.5 L986.8,226.4 L996.1,226.3 L1001.9,226.2 L1005.2,226.2 L1006.5,226.2 L1006.4,226.2 L1005.4,226.2 L1004.2,226.2 L1003.2,226.2 L1003.0,226.2" fill="none" stroke="#808000" stroke-width="6" stroke-linecap="round" stroke-linejoin="round"/>
</g>
<g clip-path="url(#clipC)">
<path d="M230.0,922.0 L234.0,922.0 L239.6,922.1 L246.2,922.1 L253.4,922.2 L260.9,922.2 L268.1,922.3 L274.6,922.3 L280.0,922.3 L284.4,922.2 L288.4,922.1 L291.9,922.0 L295.1,921.8 L298.0,921.7 L300.6,921.6 L303.1,921.6 L305.4,921.8 L307.5,922.1 L309.3,922.6 L310.8,923.2 L312.2,923.8 L313.4,924.5 L314.5,925.1 L315.7,925.7 L317.0,926.3 L318.3,926.9 L319.6,927.4 L320.8,928.1 L322.0,928.6 L323.2,929.2 L324.4,929.6 L325.7,929.9 L327.1,930.0 L328.5,930.0 L330.0,929.9 L331.5,929.6 L333.1,929.3 L334.7,928.8 L336.4,928.2 L338.1,927.5 L340.0,926.5 L342.1,925.2 L344.5,923.6 L347.0,921.6 L349.6,919.6 L352.1,917.6 L354.3,915.8 L356.2,914.3 L357.6,913.2" fill="none" stroke="#000000" stroke-width="6.5" stroke-linecap="butt" stroke-linejoin="round"/>
<path d="M363.4,910.5 L364.6,909.4 L365.9,908.2 L367.5,906.7 L369.4,905.0 L371.6,903.0 L374.2,900.6 L377.1,897.9 L380.4,894.7 L384.1,891.1 L388.3,887.1 L392.8,882.7 L397.6,878.0 L402.8,872.9 L408.2,867.5 L414.0,861.9 L420.0,856.0 L426.8,849.3 L434.7,841.6 L443.2,833.3 L451.8,824.8 L460.1,816.6 L467.7,809.2 L474.0,803.0 L478.7,798.4" fill="none" stroke="#000000" stroke-width="6.5" stroke-linecap="butt" stroke-linejoin="round"/>
<rect x="483.5" y="787.8" width="4.8" height="4.8" fill="#fff" stroke="#000000" stroke-width="1.4"/>
<rect x="358.3" y="909.8" width="4.4" height="4.4" fill="#fff" stroke="#000000" stroke-width="1.4"/>
<path d="M110.0,922.0 L119.8,922.0 L133.6,922.1 L149.9,922.2 L167.8,922.2 L186.0,922.3 L203.2,922.4 L218.2,922.4 L230.0,922.5 L238.6,922.5 L245.1,922.4 L250.1,922.3 L253.9,922.2 L256.9,922.1 L259.5,922.2 L262.1,922.4 L265.0,922.8 L268.0,923.5 L270.5,924.6 L272.7,925.8 L274.6,927.2 L276.4,928.5 L278.1,929.6 L280.0,930.5 L282.0,931.0 L284.1,931.2 L286.3,931.2 L288.4,931.0 L290.5,930.6 L292.7,930.0 L294.9,929.2 L297.2,928.2 L299.5,927.0 L301.9,925.5 L304.2,923.6 L306.6,921.5 L309.1,919.2 L311.6,916.8 L314.3,914.3 L317.1,911.8 L320.0,909.3 L323.3,906.6 L327.1,903.7 L331.1,900.6 L335.2,897.4 L339.1,894.5 L342.6,891.8 L345.6,889.5 L347.8,887.8" fill="none" stroke="#ff0000" stroke-width="6.5" stroke-linecap="butt" stroke-linejoin="round"/>
<path d="M353.7,881.0 L355.6,879.2 L358.1,876.9 L361.0,874.2 L364.3,871.2 L368.0,867.8 L371.8,864.2 L375.9,860.4 L380.0,856.6 L384.3,852.6 L388.8,848.3 L393.6,843.8 L398.6,839.2 L403.8,834.3 L409.1,829.3 L414.5,824.2 L420.0,819.0 L426.0,813.3 L432.7,807.0 L439.7,800.3 L446.8,793.5 L453.5,787.1 L459.6,781.3 L464.7,776.4 L468.5,772.8" fill="none" stroke="#ff0000" stroke-width="6.5" stroke-linecap="butt" stroke-linejoin="round"/>
<path d="M472.0,768.0 L487.0,755.0" fill="none" stroke="#ff0000" stroke-width="6.5" stroke-linecap="butt" stroke-linejoin="round"/>
<circle cx="350.8" cy="884.4" r="2.20" fill="#fff" stroke="#ff0000" stroke-width="1.4"/>
<path d="M110.6,923.5 L120.9,923.3 L135.5,923.0 L153.0,922.6 L171.9,922.2 L190.9,921.9 L208.6,921.6 L223.6,921.5 L234.5,921.5 L241.1,921.7 L244.8,922.1 L246.1,922.5 L245.9,923.1 L245.0,923.7 L244.0,924.3 L243.8,924.9 L245.0,925.5 L247.5,926.1 L250.5,926.8 L253.8,927.6 L257.3,928.3 L260.9,929.0 L264.3,929.5 L267.4,929.9 L270.2,930.0 L272.6,929.8 L274.8,929.4 L276.8,928.8 L278.6,928.0 L280.4,927.2 L282.0,926.4 L283.5,925.6 L285.0,925.0 L286.3,924.6 L287.2,924.4 L287.9,924.3 L288.6,924.1 L289.4,923.8 L290.4,923.3 L291.8,922.4 L293.7,921.0 L296.1,919.1 L298.9,916.8 L301.9,914.1 L305.3,911.2 L308.8,908.1 L312.5,904.8 L316.2,901.4 L320.0,898.0 L324.1,894.2 L328.7,889.9 L333.6,885.4 L338.5,880.7 L343.2,876.2 L347.5,872.2 L351.0,868.8 L353.7,866.3" fill="none" stroke="#0000ff" stroke-width="6.5" stroke-linecap="butt" stroke-linejoin="round"/>
<path d="M358.5,863.0 L360.1,861.4 L362.0,859.4 L364.3,857.0 L367.0,854.2 L369.9,851.2 L373.2,847.8 L376.7,844.2 L380.4,840.4 L384.4,836.3 L388.7,831.9 L393.3,827.2 L398.2,822.2 L403.3,817.0 L408.6,811.5 L414.2,805.8 L420.0,799.9 L426.4,793.4 L433.6,786.0 L441.2,778.2 L449.0,770.3 L456.6,762.5 L463.6,755.4 L469.7,749.1 L474.6,744.1 L478.3,740.4 L481.0,737.6 L482.9,735.7 L484.2,734.3 L485.1,733.4 L485.8,732.8 L486.3,732.2 L487.0,731.5" fill="none" stroke="#0000ff" stroke-width="6.5" stroke-linecap="butt" stroke-linejoin="round"/>
<path d="M353.5,867.3 L358.7,867.3 L356.1,862.9Z" fill="#fff" stroke="#0000ff" stroke-width="1.4"/>
<path d="M110.0,925.0 L117.4,925.0 L127.6,925.1 L139.8,925.2 L153.1,925.2 L166.7,925.3 L179.6,925.4 L191.0,925.4 L200.0,925.5 L206.8,925.5 L212.4,925.5 L216.9,925.5 L220.5,925.5 L223.5,925.5 L226.0,925.5 L228.2,925.7 L230.4,926.0 L232.2,926.5 L233.5,927.1 L234.3,927.8 L234.7,928.6 L234.8,929.4 L234.9,930.2 L234.9,930.8 L235.1,931.2" fill="none" stroke="#ff00ff" stroke-width="6.5" stroke-linecap="butt" stroke-linejoin="round"/>
<path d="M241.0,931.2 L242.4,931.0 L244.3,930.7 L246.5,930.3 L249.0,929.9 L251.6,929.4 L254.1,929.0 L256.5,928.5 L258.5,928.0 L260.2,927.5 L261.8,927.0 L263.2,926.6 L264.6,926.0 L265.9,925.5 L267.2,924.9 L268.6,924.2 L270.0,923.5 L271.5,922.7 L273.0,921.8 L274.5,920.8 L276.0,919.8 L277.5,918.7 L279.0,917.7 L280.5,916.6 L282.0,915.5 L283.4,914.5 L284.6,913.7 L285.8,912.9 L287.0,912.1 L288.3,911.2 L289.8,910.0 L291.5,908.4 L293.7,906.5 L296.2,904.1 L299.0,901.4 L302.0,898.4 L305.2,895.2 L308.7,891.7 L312.3,888.1 L316.1,884.3 L320.0,880.5 L324.4,876.3 L329.5,871.4 L334.9,866.3 L340.4,861.1 L345.8,856.1 L350.6,851.5 L354.6,847.7 L357.6,844.9" fill="none" stroke="#ff00ff" stroke-width="6.5" stroke-linecap="butt" stroke-linejoin="round"/>
<path d="M362.4,839.0 L363.6,837.8 L365.1,836.3 L366.9,834.6 L368.9,832.6 L371.3,830.3 L374.0,827.6 L377.0,824.4 L380.4,820.9 L384.3,816.7 L388.9,811.9 L393.8,806.6 L399.1,801.0 L404.4,795.3 L409.8,789.5 L415.1,783.9 L420.0,778.6 L424.8,773.5 L429.5,768.5 L434.2,763.4 L438.9,758.5 L443.5,753.6 L447.9,748.9 L452.2,744.3 L456.2,740.0 L460.2,735.7 L464.1,731.4 L468.0,727.1 L471.8,723.1 L475.2,719.3 L478.2,716.0 L480.8,713.2 L482.8,711.0" fill="none" stroke="#ff00ff" stroke-width="6.5" stroke-linecap="butt" stroke-linejoin="round"/>
<path d="M235.4,929.4 L240.6,929.4 L238.0,933.8Z" fill="#fff" stroke="#ff00ff" stroke-width="1.4"/>
<path d="M356.9,840.2 L362.1,840.2 L359.5,844.6Z" fill="#fff" stroke="#ff00ff" stroke-width="1.4"/>
<path d="M113.0,922.5 L115.5,922.9 L118.8,923.6 L122.8,924.3 L127.1,925.2 L131.7,925.9 L136.3,926.6 L140.7,927.0 L144.7,927.1 L148.4,926.9 L152.0,926.4 L155.6,925.7 L159.1,924.9 L162.5,924.0 L165.8,923.1 L169.0,922.1 L172.0,921.2 L174.8,920.3 L177.4,919.5 L179.9,918.6 L182.3,917.7 L184.6,916.8 L186.9,915.7 L189.2,914.6 L191.6,913.4 L194.0,912.1 L196.4,910.7 L198.7,909.3 L201.0,907.7 L203.4,906.1 L205.9,904.4 L208.4,902.6 L211.1,900.7 L214.1,898.5 L217.4,896.0 L221.0,893.3 L224.6,890.6 L228.0,887.9 L231.1,885.5 L233.7,883.5 L235.6,882.0" fill="none" stroke="#008000" stroke-width="7" stroke-linecap="butt" stroke-linejoin="round"/>
<path d="M240.5,877.1 L243.8,874.0 L248.3,869.9 L253.6,864.9 L259.5,859.4 L265.5,853.7 L271.5,848.2 L276.9,843.2 L281.5,839.0 L285.5,835.4 L289.3,832.0 L292.9,828.8 L296.3,825.9 L299.3,823.3 L301.9,821.1 L304.1,819.1 L305.9,817.6" fill="none" stroke="#008000" stroke-width="7" stroke-linecap="butt" stroke-linejoin="round"/>
<path d="M304.9,813.7 L305.7,812.9 L306.8,811.9 L308.1,810.8 L309.5,809.4 L311.1,807.9 L312.9,806.2 L314.7,804.2 L316.6,802.0 L318.7,799.5 L320.9,796.8 L323.3,793.8 L325.8,790.6 L328.4,787.2 L331.0,783.7 L333.6,780.2 L336.1,776.6 L338.8,772.7 L341.6,768.3 L344.6,763.6 L347.6,758.9 L350.4,754.4 L352.9,750.3 L355.0,746.9 L356.6,744.4" fill="none" stroke="#008000" stroke-width="6.5" stroke-linecap="butt" stroke-linejoin="round"/>
<path d="M364.4,733.7 L368.7,727.8 L374.3,720.0 L380.9,710.7 L388.4,700.3 L396.3,689.3 L404.4,678.1 L412.4,667.2 L420.0,657.0 L427.8,646.7 L436.3,635.6 L445.1,624.1 L453.9,612.8 L462.2,602.0 L469.8,592.3 L476.1,584.2 L480.8,578.1" fill="none" stroke="#008000" stroke-width="6" stroke-linecap="butt" stroke-linejoin="round"/>
<path d="M238.0,876.9 L240.6,879.5 L238.0,882.1 L235.4,879.5Z" fill="#fff" stroke="#008000" stroke-width="1.4"/>
<path d="M360.5,736.4 L363.1,739.0 L360.5,741.6 L357.9,739.0Z" fill="#fff" stroke="#008000" stroke-width="1.4"/>
<path d="M485.9,565.9 L488.9,568.9 L485.9,571.9 L482.9,568.9Z" fill="#fff" stroke="#008000" stroke-width="1.4"/>
<line x1="380.4" y1="894.7" x2="477.7" y2="799.4" stroke="#ff0000" stroke-width="1.5"/>
<line x1="380.4" y1="840.4" x2="474.6" y2="744" stroke="#ff0000" stroke-width="1.5"/>
<line x1="380.4" y1="820.9" x2="480" y2="714.6" stroke="#ff0000" stroke-width="1.5"/>
<line x1="378.3" y1="712.3" x2="479.8" y2="579.2" stroke="#ff0000" stroke-width="1.5"/>
</g>
<g clip-path="url(#clipD)">
<path d="M598.6,621.0 L599.2,620.6 L599.9,620.3 L600.7,619.8 L601.6,619.3 L602.9,618.6 L604.4,617.6 L606.3,616.4 L608.7,614.8 L611.7,612.8 L615.2,610.4 L619.2,607.7 L623.4,604.7 L627.9,601.6 L632.3,598.5 L636.7,595.3 L640.9,592.2 L645.0,589.1 L649.1,585.8 L653.2,582.5 L657.3,579.1 L661.3,575.7 L665.4,572.5 L669.3,569.4 L673.1,566.5 L676.9,563.8 L680.7,561.0 L684.4,558.4 L688.1,555.9 L691.7,553.6 L695.0,551.5 L698.2,549.7 L701.0,548.2 L703.5,547.1 L705.8,546.2 L707.8,545.7 L709.6,545.3 L711.2,545.2 L712.8,545.2 L714.4,545.3 L716.0,545.5 L717.6,545.8 L719.0,546.2 L720.5,546.8 L721.8,547.5 L723.1,548.4 L724.4,549.3 L725.6,550.4 L726.8,551.5 L728.0,552.7 L729.2,554.1 L730.3,555.5 L731.4,557.1 L732.4,558.7 L733.5,560.5 L734.4,562.3 L735.4,564.3 L736.3,566.4 L737.2,568.5 L738.0,570.7 L738.7,573.1 L739.5,575.5 L740.3,578.1 L741.0,580.8 L741.8,583.7 L742.6,586.8 L743.4,590.3 L744.3,593.9 L745.1,597.7 L746.0,601.4 L746.7,605.0 L747.5,608.5 L748.2,611.6 L748.8,614.5 L749.5,617.3 L750.0,620.0 L750.6,622.6 L751.1,625.0 L751.6,627.2 L752.0,629.1 L752.5,630.9 L752.9,632.4 L753.1,633.5 L753.3,634.4 L753.5,635.1 L753.8,635.8 L754.1,636.3 L754.6,637.0 L755.3,637.7 L756.2,638.5 L757.1,639.2 L758.1,639.8 L759.3,640.5 L760.6,641.2 L762.1,642.0 L763.6,642.8 L765.4,643.8 L767.4,644.9 L769.8,646.2 L772.4,647.6 L775.1,649.0 L777.8,650.4 L780.3,651.9 L782.7,653.2 L784.7,654.5 L786.4,655.7 L787.8,656.8 L789.1,657.9 L790.3,659.0 L791.3,660.0 L792.3,661.0 L793.3,662.1 L794.4,663.1 L794.3,662.7 L792.4,660.2 L789.8,656.9 L787.6,653.9 L786.7,652.7 L788.1,654.2 L793.0,659.9 L802.4,671.0 L818.1,689.7 L840.0,715.7 L866.0,746.7 L894.1,780.2 L922.1,813.6 L948.0,844.6 L969.8,870.7 L985.4,889.3 L994.6,900.4 L999.4,906.2 L1000.7,907.8 L999.6,906.6 L997.0,903.7 L994.1,900.3 L991.7,897.6 L990.9,896.7" fill="none" stroke="#000" stroke-width="1.7" stroke-dasharray="4.5,3"/>
<path d="M598.6,611.8 L606.6,616.4 L606.6,625.6 L598.6,630.2 L590.6,625.6 L590.6,616.4Z" fill="#000"/>
<path d="M716.2,536.4 L724.2,541.0 L724.2,550.2 L716.2,554.8 L708.2,550.2 L708.2,541.0Z" fill="#000"/>
<path d="M755.5,628.5 L763.5,633.1 L763.5,642.3 L755.5,646.9 L747.5,642.3 L747.5,633.1Z" fill="#000"/>
<path d="M794.6,653.7 L802.6,658.3 L802.6,667.5 L794.6,672.1 L786.6,667.5 L786.6,658.3Z" fill="#000"/>
<path d="M990.9,887.7 L998.9,892.3 L998.9,901.5 L990.9,906.1 L982.9,901.5 L982.9,892.3Z" fill="#000"/>
</g>
<rect x="94.2" y="16.8" width="392.2" height="417.7" fill="none" stroke="#000" stroke-width="2.1"/>
<line x1="94.20" y1="434.5" x2="94.20" y2="423.0" stroke="#000" stroke-width="2.1"/>
<line x1="172.64" y1="434.5" x2="172.64" y2="423.0" stroke="#000" stroke-width="2.1"/>
<line x1="251.08" y1="434.5" x2="251.08" y2="423.0" stroke="#000" stroke-width="2.1"/>
<line x1="329.52" y1="434.5" x2="329.52" y2="423.0" stroke="#000" stroke-width="2.1"/>
<line x1="407.96" y1="434.5" x2="407.96" y2="423.0" stroke="#000" stroke-width="2.1"/>
<line x1="486.40" y1="434.5" x2="486.40" y2="423.0" stroke="#000" stroke-width="2.1"/>
<line x1="133.42" y1="434.5" x2="133.42" y2="419.7" stroke="#000" stroke-width="2.1"/>
<line x1="211.86" y1="434.5" x2="211.86" y2="419.7" stroke="#000" stroke-width="2.1"/>
<line x1="290.30" y1="434.5" x2="290.30" y2="419.7" stroke="#000" stroke-width="2.1"/>
<line x1="368.74" y1="434.5" x2="368.74" y2="419.7" stroke="#000" stroke-width="2.1"/>
<line x1="447.18" y1="434.5" x2="447.18" y2="419.7" stroke="#000" stroke-width="2.1"/>
<line x1="94.2" y1="330.07" x2="105.7" y2="330.07" stroke="#000" stroke-width="2.1"/>
<line x1="94.2" y1="225.65" x2="105.7" y2="225.65" stroke="#000" stroke-width="2.1"/>
<line x1="94.2" y1="121.23" x2="105.7" y2="121.23" stroke="#000" stroke-width="2.1"/>
<line x1="94.2" y1="382.29" x2="109.0" y2="382.29" stroke="#000" stroke-width="2.1"/>
<line x1="94.2" y1="277.86" x2="109.0" y2="277.86" stroke="#000" stroke-width="2.1"/>
<line x1="94.2" y1="173.44" x2="109.0" y2="173.44" stroke="#000" stroke-width="2.1"/>
<line x1="94.2" y1="69.01" x2="109.0" y2="69.01" stroke="#000" stroke-width="2.1"/>
<rect x="610.8" y="17.0" width="391.80000000000007" height="417.6" fill="none" stroke="#000" stroke-width="2.1"/>
<line x1="610.80" y1="434.6" x2="610.80" y2="423.1" stroke="#000" stroke-width="2.1"/>
<line x1="689.16" y1="434.6" x2="689.16" y2="423.1" stroke="#000" stroke-width="2.1"/>
<line x1="767.52" y1="434.6" x2="767.52" y2="423.1" stroke="#000" stroke-width="2.1"/>
<line x1="845.88" y1="434.6" x2="845.88" y2="423.1" stroke="#000" stroke-width="2.1"/>
<line x1="924.24" y1="434.6" x2="924.24" y2="423.1" stroke="#000" stroke-width="2.1"/>
<line x1="1002.60" y1="434.6" x2="1002.60" y2="423.1" stroke="#000" stroke-width="2.1"/>
<line x1="649.98" y1="434.6" x2="649.98" y2="419.8" stroke="#000" stroke-width="2.1"/>
<line x1="728.34" y1="434.6" x2="728.34" y2="419.8" stroke="#000" stroke-width="2.1"/>
<line x1="806.70" y1="434.6" x2="806.70" y2="419.8" stroke="#000" stroke-width="2.1"/>
<line x1="885.06" y1="434.6" x2="885.06" y2="419.8" stroke="#000" stroke-width="2.1"/>
<line x1="963.42" y1="434.6" x2="963.42" y2="419.8" stroke="#000" stroke-width="2.1"/>
<line x1="610.8" y1="399.80" x2="622.3" y2="399.80" stroke="#000" stroke-width="2.1"/>
<line x1="610.8" y1="312.80" x2="622.3" y2="312.80" stroke="#000" stroke-width="2.1"/>
<line x1="610.8" y1="225.80" x2="622.3" y2="225.80" stroke="#000" stroke-width="2.1"/>
<line x1="610.8" y1="138.80" x2="622.3" y2="138.80" stroke="#000" stroke-width="2.1"/>
<line x1="610.8" y1="51.80" x2="622.3" y2="51.80" stroke="#000" stroke-width="2.1"/>
<line x1="610.8" y1="356.30" x2="625.5999999999999" y2="356.30" stroke="#000" stroke-width="2.1"/>
<line x1="610.8" y1="269.30" x2="625.5999999999999" y2="269.30" stroke="#000" stroke-width="2.1"/>
<line x1="610.8" y1="182.30" x2="625.5999999999999" y2="182.30" stroke="#000" stroke-width="2.1"/>
<line x1="610.8" y1="95.30" x2="625.5999999999999" y2="95.30" stroke="#000" stroke-width="2.1"/>
<rect x="94.1" y="529.2" width="391.79999999999995" height="418.0" fill="none" stroke="#000" stroke-width="2.1"/>
<line x1="94.10" y1="947.2" x2="94.10" y2="935.7" stroke="#000" stroke-width="2.1"/>
<line x1="172.46" y1="947.2" x2="172.46" y2="935.7" stroke="#000" stroke-width="2.1"/>
<line x1="250.82" y1="947.2" x2="250.82" y2="935.7" stroke="#000" stroke-width="2.1"/>
<line x1="329.18" y1="947.2" x2="329.18" y2="935.7" stroke="#000" stroke-width="2.1"/>
<line x1="407.54" y1="947.2" x2="407.54" y2="935.7" stroke="#000" stroke-width="2.1"/>
<line x1="485.90" y1="947.2" x2="485.90" y2="935.7" stroke="#000" stroke-width="2.1"/>
<line x1="133.28" y1="947.2" x2="133.28" y2="932.4000000000001" stroke="#000" stroke-width="2.1"/>
<line x1="211.64" y1="947.2" x2="211.64" y2="932.4000000000001" stroke="#000" stroke-width="2.1"/>
<line x1="290.00" y1="947.2" x2="290.00" y2="932.4000000000001" stroke="#000" stroke-width="2.1"/>
<line x1="368.36" y1="947.2" x2="368.36" y2="932.4000000000001" stroke="#000" stroke-width="2.1"/>
<line x1="446.72" y1="947.2" x2="446.72" y2="932.4000000000001" stroke="#000" stroke-width="2.1"/>
<line x1="94.1" y1="842.70" x2="105.6" y2="842.70" stroke="#000" stroke-width="2.1"/>
<line x1="94.1" y1="738.20" x2="105.6" y2="738.20" stroke="#000" stroke-width="2.1"/>
<line x1="94.1" y1="633.70" x2="105.6" y2="633.70" stroke="#000" stroke-width="2.1"/>
<line x1="94.1" y1="894.95" x2="108.89999999999999" y2="894.95" stroke="#000" stroke-width="2.1"/>
<line x1="94.1" y1="790.45" x2="108.89999999999999" y2="790.45" stroke="#000" stroke-width="2.1"/>
<line x1="94.1" y1="685.95" x2="108.89999999999999" y2="685.95" stroke="#000" stroke-width="2.1"/>
<line x1="94.1" y1="581.45" x2="108.89999999999999" y2="581.45" stroke="#000" stroke-width="2.1"/>
<rect x="598.6" y="529.1" width="392.29999999999995" height="417.69999999999993" fill="none" stroke="#000" stroke-width="2.1"/>
<line x1="677.06" y1="946.8" x2="677.06" y2="935.3" stroke="#000" stroke-width="2.1"/>
<line x1="755.52" y1="946.8" x2="755.52" y2="935.3" stroke="#000" stroke-width="2.1"/>
<line x1="833.98" y1="946.8" x2="833.98" y2="935.3" stroke="#000" stroke-width="2.1"/>
<line x1="912.44" y1="946.8" x2="912.44" y2="935.3" stroke="#000" stroke-width="2.1"/>
<line x1="637.83" y1="946.8" x2="637.83" y2="932.0" stroke="#000" stroke-width="2.1"/>
<line x1="716.29" y1="946.8" x2="716.29" y2="932.0" stroke="#000" stroke-width="2.1"/>
<line x1="794.75" y1="946.8" x2="794.75" y2="932.0" stroke="#000" stroke-width="2.1"/>
<line x1="873.21" y1="946.8" x2="873.21" y2="932.0" stroke="#000" stroke-width="2.1"/>
<line x1="951.67" y1="946.8" x2="951.67" y2="932.0" stroke="#000" stroke-width="2.1"/>
<line x1="598.6" y1="863.26" x2="610.1" y2="863.26" stroke="#000" stroke-width="2.1"/>
<line x1="598.6" y1="779.72" x2="610.1" y2="779.72" stroke="#000" stroke-width="2.1"/>
<line x1="598.6" y1="696.18" x2="610.1" y2="696.18" stroke="#000" stroke-width="2.1"/>
<line x1="598.6" y1="612.64" x2="610.1" y2="612.64" stroke="#000" stroke-width="2.1"/>
<line x1="598.6" y1="905.03" x2="613.4" y2="905.03" stroke="#000" stroke-width="2.1"/>
<line x1="598.6" y1="821.49" x2="613.4" y2="821.49" stroke="#000" stroke-width="2.1"/>
<line x1="598.6" y1="737.95" x2="613.4" y2="737.95" stroke="#000" stroke-width="2.1"/>
<line x1="598.6" y1="654.41" x2="613.4" y2="654.41" stroke="#000" stroke-width="2.1"/>
<line x1="598.6" y1="570.87" x2="613.4" y2="570.87" stroke="#000" stroke-width="2.1"/>
<text transform="translate(94.20,467.40) scale(0.895,1)" font-size="28" text-anchor="middle" fill="#000">0</text>
<text transform="translate(610.80,467.40) scale(0.895,1)" font-size="28" text-anchor="middle" fill="#000">0</text>
<text transform="translate(94.10,980.00) scale(0.895,1)" font-size="28" text-anchor="middle" fill="#000">0</text>
<text transform="translate(172.64,467.40) scale(0.895,1)" font-size="28" text-anchor="middle" fill="#000">10</text>
<text transform="translate(689.16,467.40) scale(0.895,1)" font-size="28" text-anchor="middle" fill="#000">10</text>
<text transform="translate(172.46,980.00) scale(0.895,1)" font-size="28" text-anchor="middle" fill="#000">10</text>
<text transform="translate(251.08,467.40) scale(0.895,1)" font-size="28" text-anchor="middle" fill="#000">20</text>
<text transform="translate(767.52,467.40) scale(0.895,1)" font-size="28" text-anchor="middle" fill="#000">20</text>
<text transform="translate(250.82,980.00) scale(0.895,1)" font-size="28" text-anchor="middle" fill="#000">20</text>
<text transform="translate(329.52,467.40) scale(0.895,1)" font-size="28" text-anchor="middle" fill="#000">30</text>
<text transform="translate(845.88,467.40) scale(0.895,1)" font-size="28" text-anchor="middle" fill="#000">30</text>
<text transform="translate(329.18,980.00) scale(0.895,1)" font-size="28" text-anchor="middle" fill="#000">30</text>
<text transform="translate(407.96,467.40) scale(0.895,1)" font-size="28" text-anchor="middle" fill="#000">40</text>
<text transform="translate(924.24,467.40) scale(0.895,1)" font-size="28" text-anchor="middle" fill="#000">40</text>
<text transform="translate(407.54,980.00) scale(0.895,1)" font-size="28" text-anchor="middle" fill="#000">40</text>
<text transform="translate(486.40,467.40) scale(0.895,1)" font-size="28" text-anchor="middle" fill="#000">50</text>
<text transform="translate(1002.60,467.40) scale(0.895,1)" font-size="28" text-anchor="middle" fill="#000">50</text>
<text transform="translate(485.90,980.00) scale(0.895,1)" font-size="28" text-anchor="middle" fill="#000">50</text>
<text transform="translate(85.30,443.40) scale(0.895,1)" font-size="28" text-anchor="end" fill="#000">0.0</text>
<text transform="translate(85.30,338.97) scale(0.895,1)" font-size="28" text-anchor="end" fill="#000">0.1</text>
<text transform="translate(85.30,234.55) scale(0.895,1)" font-size="28" text-anchor="end" fill="#000">0.2</text>
<text transform="translate(85.30,130.13) scale(0.895,1)" font-size="28" text-anchor="end" fill="#000">0.3</text>
<text transform="translate(85.30,25.70) scale(0.895,1)" font-size="28" text-anchor="end" fill="#000">0.4</text>
<text transform="translate(601.10,60.40) scale(0.895,1)" font-size="28" text-anchor="end" fill="#000">0.10</text>
<text transform="translate(601.10,147.40) scale(0.895,1)" font-size="28" text-anchor="end" fill="#000">0.05</text>
<text transform="translate(601.10,234.40) scale(0.895,1)" font-size="28" text-anchor="end" fill="#000">0.00</text>
<text transform="translate(601.10,321.40) scale(0.895,1)" font-size="28" text-anchor="end" fill="#000">-0.05</text>
<text transform="translate(601.10,408.40) scale(0.895,1)" font-size="28" text-anchor="end" fill="#000">-0.10</text>
<text transform="translate(85.30,956.10) scale(0.895,1)" font-size="28" text-anchor="end" fill="#000">0</text>
<text transform="translate(85.30,851.60) scale(0.895,1)" font-size="28" text-anchor="end" fill="#000">20</text>
<text transform="translate(85.30,747.10) scale(0.895,1)" font-size="28" text-anchor="end" fill="#000">40</text>
<text transform="translate(85.30,642.60) scale(0.895,1)" font-size="28" text-anchor="end" fill="#000">60</text>
<text transform="translate(85.30,538.10) scale(0.895,1)" font-size="28" text-anchor="end" fill="#000">80</text>
<text transform="translate(589.80,955.70) scale(0.895,1)" font-size="28" text-anchor="end" fill="#000">1.9</text>
<text transform="translate(589.80,872.16) scale(0.895,1)" font-size="28" text-anchor="end" fill="#000">2.0</text>
<text transform="translate(589.80,788.62) scale(0.895,1)" font-size="28" text-anchor="end" fill="#000">2.1</text>
<text transform="translate(589.80,705.08) scale(0.895,1)" font-size="28" text-anchor="end" fill="#000">2.2</text>
<text transform="translate(589.80,621.54) scale(0.895,1)" font-size="28" text-anchor="end" fill="#000">2.3</text>
<text transform="translate(589.80,538.00) scale(0.895,1)" font-size="28" text-anchor="end" fill="#000">2.4</text>
<text transform="translate(598.60,980.20) scale(0.895,1)" font-size="28" text-anchor="middle" fill="#000">0.00</text>
<text transform="translate(677.06,980.20) scale(0.895,1)" font-size="28" text-anchor="middle" fill="#000">0.02</text>
<text transform="translate(755.52,980.20) scale(0.895,1)" font-size="28" text-anchor="middle" fill="#000">0.04</text>
<text transform="translate(833.98,980.20) scale(0.895,1)" font-size="28" text-anchor="middle" fill="#000">0.06</text>
<text transform="translate(912.44,980.20) scale(0.895,1)" font-size="28" text-anchor="middle" fill="#000">0.08</text>
<text transform="translate(990.90,980.20) scale(0.895,1)" font-size="28" text-anchor="middle" fill="#000">0.10</text>
<text transform="translate(7.50,64.50)" font-size="45" text-anchor="start" fill="#000">(a)</text>
<text transform="translate(494.20,57.00)" font-size="45" text-anchor="start" fill="#000">(b)</text>
<text transform="translate(2.30,549.00)" font-size="45" text-anchor="start" fill="#000">(c)</text>
<text transform="translate(555.30,549.00)" font-size="45" text-anchor="end" fill="#000">(d)</text>
<text transform="translate(291.50,500.90)" font-size="29" text-anchor="middle" fill="#000"><tspan font-style="italic">T</tspan> (K)</text>
<text transform="translate(808.00,500.30)" font-size="29" text-anchor="middle" fill="#000"><tspan font-style="italic">T</tspan> (K)</text>
<text transform="translate(291.80,1011.50)" font-size="29" text-anchor="middle" fill="#000"><tspan font-style="italic">T</tspan> (K)</text>
<text transform="translate(793.50,1012.90)" font-size="29" text-anchor="middle" font-style="italic" fill="#000">x</text>
<text transform="translate(34.60,225.70) rotate(-90)" font-size="29" text-anchor="middle" fill="#000"><tspan font-style="italic">M</tspan> (emu/gm)</text>
<text transform="translate(538.80,225.00) rotate(-90)" font-size="29" text-anchor="middle" fill="#000"><tspan font-style="italic">dM/dT</tspan> (arb. units)</text>
<text transform="translate(43.50,736.60) rotate(-90)" font-size="29" text-anchor="middle" fill="#000">&#967;<tspan font-size="18" dy="-15">-1</tspan><tspan dy="15"> (Oe-mol/emu)</tspan></text>
<text transform="translate(541.80,738.30) rotate(-90)" font-size="29" text-anchor="middle" fill="#000"><tspan font-style="italic">&#956;</tspan><tspan font-size="20" dy="5">eff</tspan><tspan dy="-5"> (&#956;</tspan><tspan font-size="20" dy="5">B</tspan><tspan dy="-5">/f.u.)</tspan></text>
<text transform="translate(370.30,80.70) scale(0.98,1)" font-size="22.5" text-anchor="start" fill="#000"><tspan font-style="italic">H</tspan> = 100 Oe</text>
<line x1="370" y1="84" x2="483" y2="84" stroke="#000" stroke-width="1.6"/>
<text transform="translate(400.50,110.60)" font-size="22.5" text-anchor="start" fill="#000">x =</text>
<line x1="368.8" y1="131.3" x2="419.5" y2="131.3" stroke="#ff0000" stroke-width="1.5"/>
<circle cx="394.1" cy="131.3" r="2.30" fill="#fff" stroke="#ff0000" stroke-width="1.3"/>
<text transform="translate(419.80,139.30) scale(0.96,1)" font-size="22.5" text-anchor="start" fill="#000">0</text>
<line x1="368.8" y1="160.3" x2="419.5" y2="160.3" stroke="#0000ff" stroke-width="1.5"/>
<path d="M391.1,158.2 L397.1,158.2 L394.1,163.3Z" fill="#fff" stroke="#0000ff" stroke-width="1.3"/>
<text transform="translate(419.80,168.28) scale(0.96,1)" font-size="22.5" text-anchor="start" fill="#000">0.03</text>
<line x1="368.8" y1="189.3" x2="419.5" y2="189.3" stroke="#ff00ff" stroke-width="1.5"/>
<path d="M396.2,186.3 L396.2,192.3 L391.1,189.3Z" fill="#fff" stroke="#ff00ff" stroke-width="1.3"/>
<text transform="translate(419.80,197.26) scale(0.96,1)" font-size="22.5" text-anchor="start" fill="#000">0.04</text>
<line x1="368.8" y1="218.2" x2="419.5" y2="218.2" stroke="#008000" stroke-width="1.5"/>
<circle cx="394.1" cy="218.2" r="2.30" fill="#fff" stroke="#008000" stroke-width="1.3"/>
<text transform="translate(419.80,226.24) scale(0.96,1)" font-size="22.5" text-anchor="start" fill="#000">0.05</text>
<line x1="368.8" y1="247.2" x2="419.5" y2="247.2" stroke="#8000ff" stroke-width="1.5"/>
<circle cx="394.1" cy="247.2" r="2.30" fill="#fff" stroke="#8000ff" stroke-width="1.3"/>
<text transform="translate(419.80,255.22) scale(0.96,1)" font-size="22.5" text-anchor="start" fill="#000">0.1</text>
<line x1="368.8" y1="276.2" x2="419.5" y2="276.2" stroke="#000000" stroke-width="1.5"/>
<circle cx="394.1" cy="276.2" r="2.30" fill="#fff" stroke="#000000" stroke-width="1.3"/>
<text transform="translate(425.30,284.20) scale(0.96,1)" font-size="22.5" text-anchor="start" fill="#000">ZFC</text>
<text transform="translate(932.00,58.40)" font-size="22.5" text-anchor="start" fill="#000">x =</text>
<line x1="888.2" y1="80.3" x2="938.8" y2="80.3" stroke="#ff0000" stroke-width="1.5"/>
<rect x="911.6" y="78.1" width="4.4" height="4.4" fill="#fff" stroke="#ff0000" stroke-width="1.4"/>
<text transform="translate(945.30,88.30) scale(0.96,1)" font-size="22.5" text-anchor="start" fill="#000">0</text>
<line x1="888.2" y1="109.3" x2="938.8" y2="109.3" stroke="#ff00ff" stroke-width="1.5"/>
<rect x="911.6" y="107.1" width="4.4" height="4.4" fill="#fff" stroke="#ff00ff" stroke-width="1.4"/>
<text transform="translate(945.30,117.28) scale(0.96,1)" font-size="22.5" text-anchor="start" fill="#000">0.03</text>
<line x1="888.2" y1="138.3" x2="938.8" y2="138.3" stroke="#000080" stroke-width="1.5"/>
<rect x="911.6" y="136.1" width="4.4" height="4.4" fill="#fff" stroke="#000080" stroke-width="1.4"/>
<text transform="translate(945.30,146.26) scale(0.96,1)" font-size="22.5" text-anchor="start" fill="#000">0.04</text>
<line x1="888.2" y1="167.2" x2="938.8" y2="167.2" stroke="#800080" stroke-width="1.5"/>
<rect x="911.6" y="165.0" width="4.4" height="4.4" fill="#fff" stroke="#800080" stroke-width="1.4"/>
<text transform="translate(945.30,175.24) scale(0.96,1)" font-size="22.5" text-anchor="start" fill="#000">0.05</text>
<line x1="888.2" y1="196.2" x2="938.8" y2="196.2" stroke="#808000" stroke-width="1.5"/>
<rect x="911.6" y="194.0" width="4.4" height="4.4" fill="#fff" stroke="#808000" stroke-width="1.4"/>
<text transform="translate(945.30,204.22) scale(0.96,1)" font-size="22.5" text-anchor="start" fill="#000">0.1</text>
<text transform="translate(171.50,562.50)" font-size="22.5" text-anchor="start" fill="#000">x =</text>
<rect x="150.2" y="581.6" width="4.8" height="4.8" fill="#fff" stroke="#000000" stroke-width="1.4"/>
<text transform="translate(178.00,592.00) scale(0.96,1)" font-size="22.5" text-anchor="start" fill="#000">0</text>
<circle cx="152.6" cy="612.9" r="2.40" fill="#fff" stroke="#ff0000" stroke-width="1.4"/>
<text transform="translate(178.00,620.93) scale(0.96,1)" font-size="22.5" text-anchor="start" fill="#000">0.03</text>
<path d="M149.6,644.0 L155.6,644.0 L152.6,638.9Z" fill="#fff" stroke="#0000ff" stroke-width="1.4"/>
<text transform="translate(178.00,649.86) scale(0.96,1)" font-size="22.5" text-anchor="start" fill="#000">0.04</text>
<path d="M149.6,668.7 L155.6,668.7 L152.6,673.8Z" fill="#fff" stroke="#ff00ff" stroke-width="1.4"/>
<text transform="translate(178.00,678.79) scale(0.96,1)" font-size="22.5" text-anchor="start" fill="#000">0.05</text>
<path d="M152.6,696.7 L155.6,699.7 L152.6,702.7 L149.6,699.7Z" fill="#fff" stroke="#008000" stroke-width="1.4"/>
<text transform="translate(178.00,707.72) scale(0.96,1)" font-size="22.5" text-anchor="start" fill="#000">0.1</text>
<line x1="127.5" y1="728.6" x2="178" y2="728.6" stroke="#ff0000" stroke-width="1.5"/>
<text transform="translate(178.00,736.65)" font-size="22.5" text-anchor="start" fill="#000">linear fit</text>
<line x1="328.3" y1="35.8" x2="328.3" y2="54.0" stroke="#000" stroke-width="1.3"/>
<path d="M324.5,43.0 L328.3,58.0 L332.1,43.0 L328.3,46.0Z" fill="#000"/>
<line x1="840.2" y1="30.5" x2="840.2" y2="49.7" stroke="#000" stroke-width="1.3"/>
<path d="M836.4000000000001,38.7 L840.2,53.7 L844.0,38.7 L840.2,41.7Z" fill="#000"/>
<line x1="857.1" y1="360.0" x2="857.1" y2="340.6" stroke="#000" stroke-width="1.3"/>
<path d="M853.3000000000001,351.6 L857.1,336.6 L860.9,351.6 L857.1,347.6Z" fill="#000"/>
<line x1="247" y1="240.3" x2="316.8" y2="149" stroke="#000" stroke-width="1.4"/>
<path d="M305.3,157.6 L316.8,149 L310.6,162.4" fill="none" stroke="#000" stroke-width="1.4"/>
<text transform="translate(335.30,39.30)" font-size="20" text-anchor="start" font-style="italic" fill="#000">T</text>
<text transform="translate(346.50,45.60) scale(0.9,1)" font-size="15" text-anchor="start" fill="#000">mag</text>
<text transform="translate(845.90,40.00)" font-size="20" text-anchor="start" font-style="italic" fill="#000">T</text>
<text transform="translate(856.90,46.00) scale(0.9,1)" font-size="15" text-anchor="start" fill="#000">mag</text>
<text transform="translate(860.20,376.60)" font-size="21" text-anchor="start" font-style="italic" fill="#000">T</text>
<text transform="translate(870.50,382.00) scale(0.89,1)" font-size="15" text-anchor="start" fill="#000">mag,on</text>
<text transform="translate(239.60,262.70)" font-size="21" text-anchor="start" font-style="italic" fill="#000">T</text>
<text transform="translate(249.60,266.00) scale(0.92,1)" font-size="15" text-anchor="start" fill="#000">up</text>
</svg></body></html>
